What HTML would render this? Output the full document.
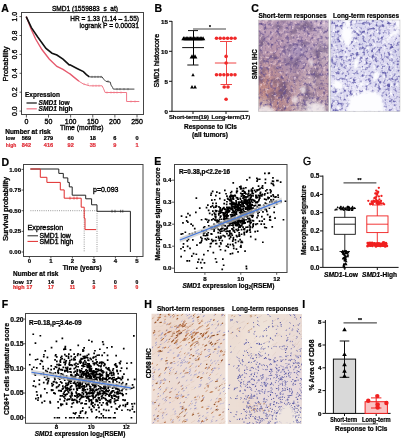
<!DOCTYPE html><html><head><meta charset="utf-8"><style>html,body{margin:0;padding:0;background:#fff;overflow:hidden}svg{display:block;font-family:"Liberation Sans",sans-serif;will-change:transform}</style></head><body><svg width="402" height="440" viewBox="0 0 402 440"><text x="1.20" y="11.80" font-size="10.5" text-anchor="start" font-weight="bold" fill="#000" stroke="#000" stroke-width="0.22" >A</text>
<text x="85.00" y="10.60" font-size="6.9" text-anchor="middle" font-weight="normal" fill="#000" stroke="#000" stroke-width="0.34" textLength="66.00" lengthAdjust="spacingAndGlyphs" >SMD1 (1559883_s_at)</text>
<rect x="21.5" y="12.5" width="122" height="102" fill="none" stroke="#444" stroke-width="1"/>
<line x1="26.40" y1="114.80" x2="26.40" y2="117.50" stroke="#333" stroke-width="0.8" />
<text x="26.40" y="123.50" font-size="7" text-anchor="middle" font-weight="normal" fill="#000" stroke="#000" stroke-width="0.34" >0</text>
<line x1="48.52" y1="114.80" x2="48.52" y2="117.50" stroke="#333" stroke-width="0.8" />
<text x="48.52" y="123.50" font-size="7" text-anchor="middle" font-weight="normal" fill="#000" stroke="#000" stroke-width="0.34" >50</text>
<line x1="70.64" y1="114.80" x2="70.64" y2="117.50" stroke="#333" stroke-width="0.8" />
<text x="70.64" y="123.50" font-size="7" text-anchor="middle" font-weight="normal" fill="#000" stroke="#000" stroke-width="0.34" >100</text>
<line x1="92.76" y1="114.80" x2="92.76" y2="117.50" stroke="#333" stroke-width="0.8" />
<text x="92.76" y="123.50" font-size="7" text-anchor="middle" font-weight="normal" fill="#000" stroke="#000" stroke-width="0.34" >150</text>
<line x1="114.88" y1="114.80" x2="114.88" y2="117.50" stroke="#333" stroke-width="0.8" />
<text x="114.88" y="123.50" font-size="7" text-anchor="middle" font-weight="normal" fill="#000" stroke="#000" stroke-width="0.34" >200</text>
<line x1="137.00" y1="114.80" x2="137.00" y2="117.50" stroke="#333" stroke-width="0.8" />
<text x="137.00" y="123.50" font-size="7" text-anchor="middle" font-weight="normal" fill="#000" stroke="#000" stroke-width="0.34" >250</text>
<line x1="19.50" y1="111.10" x2="22.00" y2="111.10" stroke="#333" stroke-width="0.8" />
<text x="16.80" y="111.10" font-size="7" text-anchor="middle" font-weight="normal" fill="#000" stroke="#000" stroke-width="0.34" transform="rotate(-90 16.80 111.10)" >0.0</text>
<line x1="19.50" y1="92.20" x2="22.00" y2="92.20" stroke="#333" stroke-width="0.8" />
<text x="16.80" y="92.20" font-size="7" text-anchor="middle" font-weight="normal" fill="#000" stroke="#000" stroke-width="0.34" transform="rotate(-90 16.80 92.20)" >0.2</text>
<line x1="19.50" y1="73.30" x2="22.00" y2="73.30" stroke="#333" stroke-width="0.8" />
<text x="16.80" y="73.30" font-size="7" text-anchor="middle" font-weight="normal" fill="#000" stroke="#000" stroke-width="0.34" transform="rotate(-90 16.80 73.30)" >0.4</text>
<line x1="19.50" y1="54.40" x2="22.00" y2="54.40" stroke="#333" stroke-width="0.8" />
<text x="16.80" y="54.40" font-size="7" text-anchor="middle" font-weight="normal" fill="#000" stroke="#000" stroke-width="0.34" transform="rotate(-90 16.80 54.40)" >0.6</text>
<line x1="19.50" y1="35.50" x2="22.00" y2="35.50" stroke="#333" stroke-width="0.8" />
<text x="16.80" y="35.50" font-size="7" text-anchor="middle" font-weight="normal" fill="#000" stroke="#000" stroke-width="0.34" transform="rotate(-90 16.80 35.50)" >0.8</text>
<line x1="19.50" y1="16.60" x2="22.00" y2="16.60" stroke="#333" stroke-width="0.8" />
<text x="16.80" y="16.60" font-size="7" text-anchor="middle" font-weight="normal" fill="#000" stroke="#000" stroke-width="0.34" transform="rotate(-90 16.80 16.60)" >1.0</text>
<text x="8.20" y="64.00" font-size="7.2" text-anchor="middle" font-weight="normal" fill="#000" stroke="#000" stroke-width="0.34" textLength="35.00" lengthAdjust="spacingAndGlyphs" transform="rotate(-90 8.20 64.00)" >Probability</text>
<text x="60.00" y="129.90" font-size="7" text-anchor="start" font-weight="normal" fill="#000" stroke="#000" stroke-width="0.34" textLength="43.60" lengthAdjust="spacingAndGlyphs" >Time (months)</text>
<text x="70.30" y="20.50" font-size="6.9" text-anchor="start" font-weight="normal" fill="#000" stroke="#000" stroke-width="0.34" textLength="68.70" lengthAdjust="spacingAndGlyphs" >HR = 1.33 (1.14 – 1.55)</text>
<text x="79.50" y="27.50" font-size="6.9" text-anchor="start" font-weight="normal" fill="#000" stroke="#000" stroke-width="0.34" textLength="59.50" lengthAdjust="spacingAndGlyphs" >logrank P = 0.00031</text>
<polyline points="26.20,16.60 31.40,29.70 35.60,39.00 41.90,49.50 49.20,59.00 56.90,66.40 63.00,69.40 69.20,73.50 70.00,73.90 74.50,77.60 79.00,81.30" fill="none" stroke="#e65a6e" stroke-width="1.4" />
<polyline points="79.00,81.30 83.40,84.00 89.40,85.80 102.10,85.80 103.60,88.80 105.10,92.50 126.60,92.50 126.60,101.50 139.30,101.50" fill="none" stroke="#f07888" stroke-width="1.0" />
<line x1="84.00" y1="82.90" x2="84.00" y2="85.10" stroke="#f07888" stroke-width="0.6" />
<line x1="88.00" y1="82.90" x2="88.00" y2="85.10" stroke="#f07888" stroke-width="0.6" />
<line x1="93.00" y1="84.70" x2="93.00" y2="86.90" stroke="#f07888" stroke-width="0.6" />
<line x1="96.00" y1="84.70" x2="96.00" y2="86.90" stroke="#f07888" stroke-width="0.6" />
<line x1="99.00" y1="84.70" x2="99.00" y2="86.90" stroke="#f07888" stroke-width="0.6" />
<line x1="107.00" y1="91.40" x2="107.00" y2="93.60" stroke="#f07888" stroke-width="0.6" />
<line x1="111.00" y1="91.40" x2="111.00" y2="93.60" stroke="#f07888" stroke-width="0.6" />
<line x1="114.00" y1="91.40" x2="114.00" y2="93.60" stroke="#f07888" stroke-width="0.6" />
<line x1="117.00" y1="91.40" x2="117.00" y2="93.60" stroke="#f07888" stroke-width="0.6" />
<line x1="121.00" y1="91.40" x2="121.00" y2="93.60" stroke="#f07888" stroke-width="0.6" />
<line x1="131.00" y1="100.40" x2="131.00" y2="102.60" stroke="#f07888" stroke-width="0.6" />
<line x1="135.00" y1="100.40" x2="135.00" y2="102.60" stroke="#f07888" stroke-width="0.6" />
<polyline points="26.20,16.60 31.40,27.60 37.70,37.00 46.00,48.50 52.00,53.20 56.90,55.00 63.00,59.20 69.20,64.90 70.00,64.90 77.50,68.70 83.40,71.60 86.40,74.60 89.40,76.90" fill="none" stroke="#111" stroke-width="1.6" />
<polyline points="89.40,76.90 102.10,76.90 103.60,79.10 105.80,81.30 110.30,82.10 111.00,85.10 112.50,87.30 113.30,89.10 134.40,89.10" fill="none" stroke="#444" stroke-width="1.0" />
<line x1="92.00" y1="75.80" x2="92.00" y2="78.00" stroke="#444" stroke-width="0.6" />
<line x1="95.00" y1="75.80" x2="95.00" y2="78.00" stroke="#444" stroke-width="0.6" />
<line x1="98.00" y1="75.80" x2="98.00" y2="78.00" stroke="#444" stroke-width="0.6" />
<line x1="101.00" y1="75.80" x2="101.00" y2="78.00" stroke="#444" stroke-width="0.6" />
<line x1="108.00" y1="80.20" x2="108.00" y2="82.40" stroke="#444" stroke-width="0.6" />
<line x1="117.00" y1="88.00" x2="117.00" y2="90.20" stroke="#444" stroke-width="0.6" />
<line x1="120.00" y1="88.00" x2="120.00" y2="90.20" stroke="#444" stroke-width="0.6" />
<line x1="124.00" y1="88.00" x2="124.00" y2="90.20" stroke="#444" stroke-width="0.6" />
<line x1="128.00" y1="88.00" x2="128.00" y2="90.20" stroke="#444" stroke-width="0.6" />
<text x="25.00" y="97.20" font-size="6.6" text-anchor="start" font-weight="bold" fill="#000" stroke="#000" stroke-width="0.22" textLength="35.00" lengthAdjust="spacingAndGlyphs" >Expression</text>
<line x1="26.50" y1="103.00" x2="36.80" y2="103.00" stroke="#222" stroke-width="1.3" />
<line x1="26.50" y1="108.80" x2="36.80" y2="108.80" stroke="#f08898" stroke-width="1.4" />
<text x="38.5" y="105.2" font-size="6.6" font-weight="bold" stroke="#000" stroke-width="0.22"><tspan font-style="italic">SMD1</tspan> low</text>
<text x="38.5" y="110.8" font-size="6.6" font-weight="bold" stroke="#000" stroke-width="0.22"><tspan font-style="italic">SMD1</tspan> high</text>
<text x="5.20" y="133.90" font-size="6.3" text-anchor="start" font-weight="bold" fill="#000" stroke="#000" stroke-width="0.22" textLength="45.50" lengthAdjust="spacingAndGlyphs" >Number at risk</text>
<text x="5.80" y="140.20" font-size="5.8" text-anchor="start" font-weight="bold" fill="#000" stroke="#000" stroke-width="0.22" textLength="9.20" lengthAdjust="spacingAndGlyphs" >low</text>
<text x="5.80" y="146.80" font-size="5.8" text-anchor="start" font-weight="bold" fill="#e0303a" stroke="#e0303a" stroke-width="0.22" textLength="10.50" lengthAdjust="spacingAndGlyphs" >high</text>
<text x="26.40" y="140.20" font-size="5.6" text-anchor="middle" font-weight="bold" fill="#000" stroke="#000" stroke-width="0.22" >569</text>
<text x="26.40" y="146.80" font-size="5.6" text-anchor="middle" font-weight="bold" fill="#e0303a" stroke="#e0303a" stroke-width="0.22" >842</text>
<text x="48.52" y="140.20" font-size="5.6" text-anchor="middle" font-weight="bold" fill="#000" stroke="#000" stroke-width="0.22" >279</text>
<text x="48.52" y="146.80" font-size="5.6" text-anchor="middle" font-weight="bold" fill="#e0303a" stroke="#e0303a" stroke-width="0.22" >416</text>
<text x="70.64" y="140.20" font-size="5.6" text-anchor="middle" font-weight="bold" fill="#000" stroke="#000" stroke-width="0.22" >60</text>
<text x="70.64" y="146.80" font-size="5.6" text-anchor="middle" font-weight="bold" fill="#e0303a" stroke="#e0303a" stroke-width="0.22" >92</text>
<text x="92.76" y="140.20" font-size="5.6" text-anchor="middle" font-weight="bold" fill="#000" stroke="#000" stroke-width="0.22" >18</text>
<text x="92.76" y="146.80" font-size="5.6" text-anchor="middle" font-weight="bold" fill="#e0303a" stroke="#e0303a" stroke-width="0.22" >35</text>
<text x="114.88" y="140.20" font-size="5.6" text-anchor="middle" font-weight="bold" fill="#000" stroke="#000" stroke-width="0.22" >6</text>
<text x="114.88" y="146.80" font-size="5.6" text-anchor="middle" font-weight="bold" fill="#e0303a" stroke="#e0303a" stroke-width="0.22" >9</text>
<text x="137.00" y="140.20" font-size="5.6" text-anchor="middle" font-weight="bold" fill="#000" stroke="#000" stroke-width="0.22" >0</text>
<text x="137.00" y="146.80" font-size="5.6" text-anchor="middle" font-weight="bold" fill="#e0303a" stroke="#e0303a" stroke-width="0.22" >1</text>
<text x="154.50" y="12.30" font-size="10.5" text-anchor="start" font-weight="bold" fill="#000" stroke="#000" stroke-width="0.22" >B</text>
<line x1="172.00" y1="21.00" x2="172.00" y2="111.50" stroke="#111" stroke-width="1" />
<line x1="171.50" y1="111.30" x2="248.50" y2="111.30" stroke="#111" stroke-width="1" />
<line x1="169.00" y1="111.30" x2="172.00" y2="111.30" stroke="#111" stroke-width="1" />
<text x="168.00" y="113.50" font-size="6.2" text-anchor="end" font-weight="bold" fill="#000" stroke="#000" stroke-width="0.22" >0</text>
<line x1="169.00" y1="81.30" x2="172.00" y2="81.30" stroke="#111" stroke-width="1" />
<text x="168.00" y="83.50" font-size="6.2" text-anchor="end" font-weight="bold" fill="#000" stroke="#000" stroke-width="0.22" >5</text>
<line x1="169.00" y1="51.30" x2="172.00" y2="51.30" stroke="#111" stroke-width="1" />
<text x="168.00" y="53.50" font-size="6.2" text-anchor="end" font-weight="bold" fill="#000" stroke="#000" stroke-width="0.22" >10</text>
<line x1="169.00" y1="21.30" x2="172.00" y2="21.30" stroke="#111" stroke-width="1" />
<text x="168.00" y="23.50" font-size="6.2" text-anchor="end" font-weight="bold" fill="#000" stroke="#000" stroke-width="0.22" >15</text>
<line x1="193.00" y1="111.30" x2="193.00" y2="114.00" stroke="#111" stroke-width="1" />
<line x1="226.00" y1="111.30" x2="226.00" y2="114.00" stroke="#111" stroke-width="1" />
<text x="159.20" y="60.70" font-size="6.8" text-anchor="middle" font-weight="normal" fill="#000" stroke="#000" stroke-width="0.34" textLength="53.70" lengthAdjust="spacingAndGlyphs" transform="rotate(-90 159.20 60.70)" >SMD1 histoscore</text>
<line x1="193.00" y1="29.00" x2="226.00" y2="29.00" stroke="#333" stroke-width="0.9" />
<text x="210.00" y="28.50" font-size="5" text-anchor="middle" font-weight="bold" fill="#000" stroke="#000" stroke-width="0.22" >*</text>
<line x1="193.50" y1="30.60" x2="193.50" y2="65.00" stroke="#000" stroke-width="1" />
<line x1="188.00" y1="30.60" x2="198.00" y2="30.60" stroke="#111" stroke-width="1" />
<line x1="187.30" y1="65.00" x2="198.50" y2="65.00" stroke="#111" stroke-width="1" />
<line x1="182.20" y1="47.60" x2="204.00" y2="47.60" stroke="#111" stroke-width="1" />
<path d="M181.30,40.16L183.50,36.20L185.70,40.16Z" fill="#000"/>
<path d="M182.70,40.16L184.90,36.20L187.10,40.16Z" fill="#000"/>
<path d="M184.10,40.16L186.30,36.20L188.50,40.16Z" fill="#000"/>
<path d="M185.50,40.16L187.70,36.20L189.90,40.16Z" fill="#000"/>
<path d="M186.90,40.16L189.10,36.20L191.30,40.16Z" fill="#000"/>
<path d="M188.30,40.16L190.50,36.20L192.70,40.16Z" fill="#000"/>
<path d="M189.70,40.16L191.90,36.20L194.10,40.16Z" fill="#000"/>
<path d="M191.10,40.16L193.30,36.20L195.50,40.16Z" fill="#000"/>
<path d="M192.50,40.16L194.70,36.20L196.90,40.16Z" fill="#000"/>
<path d="M193.90,40.16L196.10,36.20L198.30,40.16Z" fill="#000"/>
<path d="M195.30,40.16L197.50,36.20L199.70,40.16Z" fill="#000"/>
<path d="M196.70,40.16L198.90,36.20L201.10,40.16Z" fill="#000"/>
<path d="M198.10,40.16L200.30,36.20L202.50,40.16Z" fill="#000"/>
<path d="M199.50,40.16L201.70,36.20L203.90,40.16Z" fill="#000"/>
<path d="M200.90,40.16L203.10,36.20L205.30,40.16Z" fill="#000"/>
<path d="M189.60,58.52L192.00,54.20L194.40,58.52Z" fill="#000"/>
<path d="M192.60,58.52L195.00,54.20L197.40,58.52Z" fill="#000"/>
<path d="M191.30,76.16L193.00,73.10L194.70,76.16Z" fill="#000"/>
<path d="M190.10,88.52L192.00,85.10L193.90,88.52Z" fill="#000"/>
<path d="M193.10,88.52L195.00,85.10L196.90,88.52Z" fill="#000"/>
<line x1="226.50" y1="41.50" x2="226.50" y2="84.50" stroke="#f04545" stroke-width="1" />
<line x1="220.00" y1="41.50" x2="232.00" y2="41.50" stroke="#f04545" stroke-width="1" />
<line x1="220.50" y1="84.50" x2="232.00" y2="84.50" stroke="#f04545" stroke-width="1" />
<line x1="214.90" y1="63.00" x2="236.30" y2="63.00" stroke="#f04545" stroke-width="1" />
<circle cx="216.50" cy="38.20" r="1.8" fill="#f02a2a"/>
<circle cx="220.20" cy="38.20" r="1.8" fill="#f02a2a"/>
<circle cx="223.90" cy="38.20" r="1.8" fill="#f02a2a"/>
<circle cx="227.60" cy="38.20" r="1.8" fill="#f02a2a"/>
<circle cx="231.30" cy="38.20" r="1.8" fill="#f02a2a"/>
<circle cx="235.00" cy="38.20" r="1.8" fill="#f02a2a"/>
<circle cx="226.10" cy="56.40" r="1.8" fill="#f02a2a"/>
<circle cx="226.10" cy="63.00" r="1.8" fill="#f02a2a"/>
<circle cx="216.50" cy="74.80" r="1.8" fill="#f02a2a"/>
<circle cx="220.20" cy="74.80" r="1.8" fill="#f02a2a"/>
<circle cx="223.90" cy="74.80" r="1.8" fill="#f02a2a"/>
<circle cx="227.60" cy="74.80" r="1.8" fill="#f02a2a"/>
<circle cx="231.30" cy="74.80" r="1.8" fill="#f02a2a"/>
<circle cx="235.00" cy="74.80" r="1.8" fill="#f02a2a"/>
<circle cx="224.20" cy="87.00" r="1.8" fill="#f02a2a"/>
<circle cx="228.00" cy="87.00" r="1.8" fill="#f02a2a"/>
<circle cx="226.10" cy="99.30" r="1.8" fill="#f02a2a"/>
<text x="189.00" y="119.00" font-size="6.0" text-anchor="middle" font-weight="bold" fill="#000" stroke="#000" stroke-width="0.22" textLength="40.00" lengthAdjust="spacingAndGlyphs" >Short-term(19)</text>
<text x="230.80" y="119.00" font-size="6.0" text-anchor="middle" font-weight="bold" fill="#000" stroke="#000" stroke-width="0.22" textLength="38.60" lengthAdjust="spacingAndGlyphs" >Long-term(17)</text>
<line x1="192.00" y1="120.50" x2="225.00" y2="120.50" stroke="#333" stroke-width="0.8" />
<text x="210.50" y="129.00" font-size="6.6" text-anchor="middle" font-weight="bold" fill="#000" stroke="#000" stroke-width="0.22" textLength="53.00" lengthAdjust="spacingAndGlyphs" >Response to ICIs</text>
<text x="210.00" y="136.50" font-size="6.6" text-anchor="middle" font-weight="bold" fill="#000" stroke="#000" stroke-width="0.22" textLength="36.00" lengthAdjust="spacingAndGlyphs" >(all tumors)</text>
<text x="1.50" y="165.50" font-size="10.5" text-anchor="start" font-weight="bold" fill="#000" stroke="#000" stroke-width="0.22" >D</text>
<rect x="23.5" y="164.5" width="119.5" height="92" fill="none" stroke="#444" stroke-width="1"/>
<line x1="29.40" y1="256.40" x2="29.40" y2="258.50" stroke="#333" stroke-width="0.8" />
<text x="29.40" y="263.00" font-size="6.0" text-anchor="middle" font-weight="bold" fill="#000" stroke="#000" stroke-width="0.22" >0</text>
<line x1="50.90" y1="256.40" x2="50.90" y2="258.50" stroke="#333" stroke-width="0.8" />
<text x="50.90" y="263.00" font-size="6.0" text-anchor="middle" font-weight="bold" fill="#000" stroke="#000" stroke-width="0.22" >1</text>
<line x1="72.40" y1="256.40" x2="72.40" y2="258.50" stroke="#333" stroke-width="0.8" />
<text x="72.40" y="263.00" font-size="6.0" text-anchor="middle" font-weight="bold" fill="#000" stroke="#000" stroke-width="0.22" >2</text>
<line x1="93.90" y1="256.40" x2="93.90" y2="258.50" stroke="#333" stroke-width="0.8" />
<text x="93.90" y="263.00" font-size="6.0" text-anchor="middle" font-weight="bold" fill="#000" stroke="#000" stroke-width="0.22" >3</text>
<line x1="115.40" y1="256.40" x2="115.40" y2="258.50" stroke="#333" stroke-width="0.8" />
<text x="115.40" y="263.00" font-size="6.0" text-anchor="middle" font-weight="bold" fill="#000" stroke="#000" stroke-width="0.22" >4</text>
<line x1="136.90" y1="256.40" x2="136.90" y2="258.50" stroke="#333" stroke-width="0.8" />
<text x="136.90" y="263.00" font-size="6.0" text-anchor="middle" font-weight="bold" fill="#000" stroke="#000" stroke-width="0.22" >5</text>
<line x1="21.50" y1="252.00" x2="24.00" y2="252.00" stroke="#333" stroke-width="0.8" />
<text x="21.00" y="254.10" font-size="6.0" text-anchor="end" font-weight="bold" fill="#000" stroke="#000" stroke-width="0.22" >0.00</text>
<line x1="21.50" y1="231.35" x2="24.00" y2="231.35" stroke="#333" stroke-width="0.8" />
<text x="21.00" y="233.45" font-size="6.0" text-anchor="end" font-weight="bold" fill="#000" stroke="#000" stroke-width="0.22" >0.25</text>
<line x1="21.50" y1="210.70" x2="24.00" y2="210.70" stroke="#333" stroke-width="0.8" />
<text x="21.00" y="212.80" font-size="6.0" text-anchor="end" font-weight="bold" fill="#000" stroke="#000" stroke-width="0.22" >0.50</text>
<line x1="21.50" y1="190.05" x2="24.00" y2="190.05" stroke="#333" stroke-width="0.8" />
<text x="21.00" y="192.15" font-size="6.0" text-anchor="end" font-weight="bold" fill="#000" stroke="#000" stroke-width="0.22" >0.75</text>
<line x1="21.50" y1="169.40" x2="24.00" y2="169.40" stroke="#333" stroke-width="0.8" />
<text x="21.00" y="171.50" font-size="6.0" text-anchor="end" font-weight="bold" fill="#000" stroke="#000" stroke-width="0.22" >1.00</text>
<text x="7.60" y="209.00" font-size="7" text-anchor="middle" font-weight="normal" fill="#000" stroke="#000" stroke-width="0.34" textLength="64.00" lengthAdjust="spacingAndGlyphs" transform="rotate(-90 7.60 209.00)" >Survival probability</text>
<text x="62.70" y="269.80" font-size="6.6" text-anchor="start" font-weight="bold" fill="#000" stroke="#000" stroke-width="0.22" textLength="39.00" lengthAdjust="spacingAndGlyphs" >Time (years)</text>
<path d="M30.4,210.7H97M84.2,210.7V252M97,211V252" stroke="#555" stroke-width="0.6" stroke-dasharray="1,1.2" fill="none"/>
<polyline points="30.40,169.00 58.80,169.00 58.80,173.40 63.30,173.40 63.30,177.90 67.80,177.90 67.80,182.40 69.30,182.40 69.30,186.90 72.20,186.90 72.20,195.20 85.70,195.20 85.70,198.80 91.60,198.80 91.60,204.80 97.00,204.80 97.00,211.30 130.40,211.30 130.40,252.00" fill="none" stroke="#222" stroke-width="1.0" />
<polyline points="30.40,169.00 40.30,169.00 40.30,177.30 46.90,177.30 46.90,182.40 60.30,182.40 60.30,189.90 64.20,189.90 64.20,198.20 81.20,198.20 81.20,207.20 84.20,207.20 84.20,218.20 85.00,218.20 85.00,229.60 96.10,229.60 96.10,229.60" fill="none" stroke="#e02a2a" stroke-width="1.0" />
<line x1="112.00" y1="209.80" x2="112.00" y2="212.60" stroke="#222" stroke-width="0.7" />
<line x1="115.00" y1="209.80" x2="115.00" y2="212.60" stroke="#222" stroke-width="0.7" />
<line x1="120.70" y1="209.80" x2="120.70" y2="212.60" stroke="#222" stroke-width="0.7" />
<line x1="122.80" y1="209.80" x2="122.80" y2="212.60" stroke="#222" stroke-width="0.7" />
<line x1="70.00" y1="196.60" x2="70.00" y2="199.60" stroke="#e02a2a" stroke-width="0.7" />
<line x1="74.00" y1="196.60" x2="74.00" y2="199.60" stroke="#e02a2a" stroke-width="0.7" />
<line x1="77.00" y1="196.60" x2="77.00" y2="199.60" stroke="#e02a2a" stroke-width="0.7" />
<text x="93.00" y="191.50" font-size="6.8" text-anchor="start" font-weight="normal" fill="#000" stroke="#000" stroke-width="0.34" textLength="25.50" lengthAdjust="spacingAndGlyphs" >p=0.093</text>
<text x="27.50" y="230.30" font-size="7" text-anchor="start" font-weight="normal" fill="#000" stroke="#000" stroke-width="0.34" textLength="35.80" lengthAdjust="spacingAndGlyphs" >Expression</text>
<line x1="27.50" y1="235.80" x2="38.00" y2="235.80" stroke="#222" stroke-width="1" />
<line x1="27.50" y1="241.40" x2="38.00" y2="241.40" stroke="#e02a2a" stroke-width="1" />
<text x="39.40" y="237.90" font-size="6.5" text-anchor="start" font-weight="normal" fill="#000" stroke="#000" stroke-width="0.34" textLength="31.30" lengthAdjust="spacingAndGlyphs" >SMD1 low</text>
<text x="39.40" y="243.90" font-size="6.5" text-anchor="start" font-weight="normal" fill="#000" stroke="#000" stroke-width="0.34" textLength="34.00" lengthAdjust="spacingAndGlyphs" >SMD1 high</text>
<text x="13.00" y="276.40" font-size="6.6" text-anchor="start" font-weight="bold" fill="#000" stroke="#000" stroke-width="0.22" textLength="45.50" lengthAdjust="spacingAndGlyphs" >Number at risk</text>
<text x="13.00" y="283.80" font-size="6.2" text-anchor="start" font-weight="bold" fill="#000" stroke="#000" stroke-width="0.22" textLength="10.70" lengthAdjust="spacingAndGlyphs" >low</text>
<text x="13.00" y="289.20" font-size="6.0" text-anchor="start" font-weight="bold" fill="#e02a2a" stroke="#e02a2a" stroke-width="0.22" textLength="11.50" lengthAdjust="spacingAndGlyphs" >high</text>
<text x="29.40" y="283.60" font-size="5.0" text-anchor="middle" font-weight="bold" fill="#000" stroke="#000" stroke-width="0.22" >17</text>
<text x="29.40" y="289.00" font-size="5.0" text-anchor="middle" font-weight="bold" fill="#e02a2a" stroke="#e02a2a" stroke-width="0.22" >17</text>
<text x="50.90" y="283.60" font-size="5.0" text-anchor="middle" font-weight="bold" fill="#000" stroke="#000" stroke-width="0.22" >14</text>
<text x="50.90" y="289.00" font-size="5.0" text-anchor="middle" font-weight="bold" fill="#e02a2a" stroke="#e02a2a" stroke-width="0.22" >17</text>
<text x="72.40" y="283.60" font-size="5.0" text-anchor="middle" font-weight="bold" fill="#000" stroke="#000" stroke-width="0.22" >9</text>
<text x="72.40" y="289.00" font-size="5.0" text-anchor="middle" font-weight="bold" fill="#e02a2a" stroke="#e02a2a" stroke-width="0.22" >11</text>
<text x="93.90" y="283.60" font-size="5.0" text-anchor="middle" font-weight="bold" fill="#000" stroke="#000" stroke-width="0.22" >1</text>
<text x="93.90" y="289.00" font-size="5.0" text-anchor="middle" font-weight="bold" fill="#e02a2a" stroke="#e02a2a" stroke-width="0.22" >9</text>
<text x="115.40" y="283.60" font-size="5.0" text-anchor="middle" font-weight="bold" fill="#000" stroke="#000" stroke-width="0.22" >0</text>
<text x="115.40" y="289.00" font-size="5.0" text-anchor="middle" font-weight="bold" fill="#e02a2a" stroke="#e02a2a" stroke-width="0.22" >5</text>
<text x="136.90" y="283.60" font-size="5.0" text-anchor="middle" font-weight="bold" fill="#000" stroke="#000" stroke-width="0.22" >0</text>
<text x="136.90" y="289.00" font-size="5.0" text-anchor="middle" font-weight="bold" fill="#e02a2a" stroke="#e02a2a" stroke-width="0.22" >0</text>
<text x="154.20" y="165.00" font-size="10.5" text-anchor="start" font-weight="bold" fill="#000" stroke="#000" stroke-width="0.22" >E</text>
<rect x="174.5" y="164.5" width="112.5" height="108" fill="none" stroke="#444" stroke-width="1"/>
<line x1="204.90" y1="272.50" x2="204.90" y2="274.80" stroke="#333" stroke-width="0.8" />
<text x="204.90" y="281.20" font-size="6.2" text-anchor="middle" font-weight="bold" fill="#000" stroke="#000" stroke-width="0.22" >8</text>
<line x1="240.80" y1="272.50" x2="240.80" y2="274.80" stroke="#333" stroke-width="0.8" />
<text x="240.80" y="281.20" font-size="6.2" text-anchor="middle" font-weight="bold" fill="#000" stroke="#000" stroke-width="0.22" >10</text>
<line x1="276.70" y1="272.50" x2="276.70" y2="274.80" stroke="#333" stroke-width="0.8" />
<text x="276.70" y="281.20" font-size="6.2" text-anchor="middle" font-weight="bold" fill="#000" stroke="#000" stroke-width="0.22" >12</text>
<line x1="172.00" y1="268.20" x2="174.50" y2="268.20" stroke="#333" stroke-width="0.8" />
<text x="171.50" y="270.40" font-size="6.2" text-anchor="end" font-weight="bold" fill="#000" stroke="#000" stroke-width="0.22" >0.0</text>
<line x1="172.00" y1="246.20" x2="174.50" y2="246.20" stroke="#333" stroke-width="0.8" />
<text x="171.50" y="248.40" font-size="6.2" text-anchor="end" font-weight="bold" fill="#000" stroke="#000" stroke-width="0.22" >0.1</text>
<line x1="172.00" y1="224.20" x2="174.50" y2="224.20" stroke="#333" stroke-width="0.8" />
<text x="171.50" y="226.40" font-size="6.2" text-anchor="end" font-weight="bold" fill="#000" stroke="#000" stroke-width="0.22" >0.2</text>
<line x1="172.00" y1="202.20" x2="174.50" y2="202.20" stroke="#333" stroke-width="0.8" />
<text x="171.50" y="204.40" font-size="6.2" text-anchor="end" font-weight="bold" fill="#000" stroke="#000" stroke-width="0.22" >0.3</text>
<line x1="172.00" y1="180.20" x2="174.50" y2="180.20" stroke="#333" stroke-width="0.8" />
<text x="171.50" y="182.40" font-size="6.2" text-anchor="end" font-weight="bold" fill="#000" stroke="#000" stroke-width="0.22" >0.4</text>
<text x="159.80" y="214.00" font-size="6.6" text-anchor="middle" font-weight="bold" fill="#000" stroke="#000" stroke-width="0.22" textLength="93.00" lengthAdjust="spacingAndGlyphs" transform="rotate(-90 159.80 214.00)" >Macrophage signature score</text>
<text x="182.4" y="287.8" font-size="6.6" font-weight="bold" stroke="#000" stroke-width="0.22" textLength="92" lengthAdjust="spacingAndGlyphs"><tspan font-style="italic">SMD1</tspan> expression log<tspan font-size="4.5" dy="1">2</tspan><tspan dy="-1">(RSEM)</tspan></text>
<path d="M206.8,234.2h1.7v1.7h-1.7zM218.0,220.5h1.7v1.7h-1.7zM216.9,221.4h1.7v1.7h-1.7zM247.2,202.5h1.7v1.7h-1.7zM245.2,226.4h1.7v1.7h-1.7zM274.0,201.3h1.7v1.7h-1.7zM230.8,219.4h1.7v1.7h-1.7zM232.2,214.9h1.7v1.7h-1.7zM237.3,209.2h1.7v1.7h-1.7zM211.4,213.8h1.7v1.7h-1.7zM226.4,227.4h1.7v1.7h-1.7zM225.9,214.0h1.7v1.7h-1.7zM233.0,205.8h1.7v1.7h-1.7zM259.3,194.8h1.7v1.7h-1.7zM245.2,218.9h1.7v1.7h-1.7zM232.3,219.7h1.7v1.7h-1.7zM250.8,214.2h1.7v1.7h-1.7zM222.8,218.5h1.7v1.7h-1.7zM239.1,220.9h1.7v1.7h-1.7zM218.7,192.3h1.7v1.7h-1.7zM245.1,203.0h1.7v1.7h-1.7zM261.0,195.0h1.7v1.7h-1.7zM222.5,222.7h1.7v1.7h-1.7zM236.2,218.9h1.7v1.7h-1.7zM248.3,199.4h1.7v1.7h-1.7zM232.4,182.1h1.7v1.7h-1.7zM211.8,190.5h1.7v1.7h-1.7zM214.9,206.3h1.7v1.7h-1.7zM272.1,177.1h1.7v1.7h-1.7zM235.8,191.9h1.7v1.7h-1.7zM235.5,208.3h1.7v1.7h-1.7zM227.8,220.3h1.7v1.7h-1.7zM226.2,206.9h1.7v1.7h-1.7zM194.4,231.5h1.7v1.7h-1.7zM238.5,206.9h1.7v1.7h-1.7zM240.7,228.8h1.7v1.7h-1.7zM234.8,241.8h1.7v1.7h-1.7zM265.4,208.9h1.7v1.7h-1.7zM231.2,211.9h1.7v1.7h-1.7zM247.4,210.3h1.7v1.7h-1.7zM235.9,190.2h1.7v1.7h-1.7zM234.7,205.9h1.7v1.7h-1.7zM246.5,204.9h1.7v1.7h-1.7zM249.0,220.9h1.7v1.7h-1.7zM245.5,213.0h1.7v1.7h-1.7zM235.2,199.9h1.7v1.7h-1.7zM243.3,199.4h1.7v1.7h-1.7zM246.3,200.2h1.7v1.7h-1.7zM273.4,206.4h1.7v1.7h-1.7zM230.3,218.3h1.7v1.7h-1.7zM268.4,197.0h1.7v1.7h-1.7zM240.0,211.7h1.7v1.7h-1.7zM214.0,219.1h1.7v1.7h-1.7zM242.8,210.0h1.7v1.7h-1.7zM234.6,239.1h1.7v1.7h-1.7zM229.8,235.7h1.7v1.7h-1.7zM205.7,206.8h1.7v1.7h-1.7zM252.3,225.4h1.7v1.7h-1.7zM249.4,219.4h1.7v1.7h-1.7zM223.1,206.9h1.7v1.7h-1.7zM255.1,196.9h1.7v1.7h-1.7zM265.5,226.9h1.7v1.7h-1.7zM235.3,228.8h1.7v1.7h-1.7zM240.3,215.3h1.7v1.7h-1.7zM256.2,201.7h1.7v1.7h-1.7zM239.9,192.6h1.7v1.7h-1.7zM212.8,239.7h1.7v1.7h-1.7zM249.2,206.8h1.7v1.7h-1.7zM239.7,204.2h1.7v1.7h-1.7zM215.1,242.9h1.7v1.7h-1.7zM212.0,202.6h1.7v1.7h-1.7zM213.5,212.2h1.7v1.7h-1.7zM252.4,223.9h1.7v1.7h-1.7zM234.0,207.5h1.7v1.7h-1.7zM251.6,226.6h1.7v1.7h-1.7zM248.1,210.9h1.7v1.7h-1.7zM226.1,213.5h1.7v1.7h-1.7zM219.8,210.2h1.7v1.7h-1.7zM226.1,195.3h1.7v1.7h-1.7zM220.9,221.4h1.7v1.7h-1.7zM240.0,213.6h1.7v1.7h-1.7zM226.0,221.0h1.7v1.7h-1.7zM244.8,208.4h1.7v1.7h-1.7zM263.8,198.3h1.7v1.7h-1.7zM239.9,208.2h1.7v1.7h-1.7zM218.0,214.1h1.7v1.7h-1.7zM249.9,235.8h1.7v1.7h-1.7zM242.2,197.2h1.7v1.7h-1.7zM253.3,205.0h1.7v1.7h-1.7zM242.0,201.6h1.7v1.7h-1.7zM231.5,228.3h1.7v1.7h-1.7zM237.7,224.1h1.7v1.7h-1.7zM242.2,213.1h1.7v1.7h-1.7zM229.1,230.1h1.7v1.7h-1.7zM214.9,239.7h1.7v1.7h-1.7zM210.3,233.1h1.7v1.7h-1.7zM252.2,211.0h1.7v1.7h-1.7zM243.5,191.1h1.7v1.7h-1.7zM203.0,253.7h1.7v1.7h-1.7zM269.7,219.4h1.7v1.7h-1.7zM182.3,246.3h1.7v1.7h-1.7zM261.0,215.7h1.7v1.7h-1.7zM250.5,200.5h1.7v1.7h-1.7zM239.0,225.4h1.7v1.7h-1.7zM239.0,215.6h1.7v1.7h-1.7zM243.2,200.2h1.7v1.7h-1.7zM242.3,204.9h1.7v1.7h-1.7zM232.6,236.8h1.7v1.7h-1.7zM252.9,210.8h1.7v1.7h-1.7zM249.1,205.8h1.7v1.7h-1.7zM231.3,195.6h1.7v1.7h-1.7zM209.7,226.3h1.7v1.7h-1.7zM231.8,203.3h1.7v1.7h-1.7zM247.6,220.6h1.7v1.7h-1.7zM266.0,210.5h1.7v1.7h-1.7zM242.5,195.8h1.7v1.7h-1.7zM234.4,215.0h1.7v1.7h-1.7zM202.8,232.6h1.7v1.7h-1.7zM200.9,239.8h1.7v1.7h-1.7zM253.5,199.8h1.7v1.7h-1.7zM268.5,207.3h1.7v1.7h-1.7zM229.7,214.0h1.7v1.7h-1.7zM249.5,231.2h1.7v1.7h-1.7zM233.3,206.5h1.7v1.7h-1.7zM243.9,212.5h1.7v1.7h-1.7zM246.4,207.4h1.7v1.7h-1.7zM232.2,224.0h1.7v1.7h-1.7zM232.2,218.0h1.7v1.7h-1.7zM249.4,197.3h1.7v1.7h-1.7zM242.8,195.9h1.7v1.7h-1.7zM226.6,207.5h1.7v1.7h-1.7zM242.3,203.3h1.7v1.7h-1.7zM225.7,228.0h1.7v1.7h-1.7zM188.5,260.1h1.7v1.7h-1.7zM235.6,234.8h1.7v1.7h-1.7zM221.7,208.4h1.7v1.7h-1.7zM245.9,203.5h1.7v1.7h-1.7zM236.7,206.9h1.7v1.7h-1.7zM187.0,221.2h1.7v1.7h-1.7zM219.2,208.7h1.7v1.7h-1.7zM243.7,192.2h1.7v1.7h-1.7zM245.7,215.8h1.7v1.7h-1.7zM238.0,226.2h1.7v1.7h-1.7zM239.2,207.1h1.7v1.7h-1.7zM254.8,201.7h1.7v1.7h-1.7zM229.8,217.9h1.7v1.7h-1.7zM245.0,186.9h1.7v1.7h-1.7zM243.2,218.6h1.7v1.7h-1.7zM252.4,210.3h1.7v1.7h-1.7zM229.6,203.1h1.7v1.7h-1.7zM219.5,212.1h1.7v1.7h-1.7zM228.7,237.7h1.7v1.7h-1.7zM214.5,215.4h1.7v1.7h-1.7zM240.0,204.2h1.7v1.7h-1.7zM267.3,197.9h1.7v1.7h-1.7zM215.7,261.3h1.7v1.7h-1.7zM221.1,209.2h1.7v1.7h-1.7zM262.9,204.5h1.7v1.7h-1.7zM257.2,214.9h1.7v1.7h-1.7zM242.9,221.3h1.7v1.7h-1.7zM263.9,226.5h1.7v1.7h-1.7zM238.5,224.0h1.7v1.7h-1.7zM249.0,202.8h1.7v1.7h-1.7zM250.5,206.2h1.7v1.7h-1.7zM229.7,221.3h1.7v1.7h-1.7zM218.6,239.2h1.7v1.7h-1.7zM221.1,224.8h1.7v1.7h-1.7zM257.7,204.2h1.7v1.7h-1.7zM240.1,244.8h1.7v1.7h-1.7zM219.5,232.3h1.7v1.7h-1.7zM233.3,211.4h1.7v1.7h-1.7zM232.5,210.2h1.7v1.7h-1.7zM252.2,214.9h1.7v1.7h-1.7zM255.3,208.3h1.7v1.7h-1.7zM197.9,258.6h1.7v1.7h-1.7zM217.3,231.7h1.7v1.7h-1.7zM244.8,212.3h1.7v1.7h-1.7zM245.3,196.7h1.7v1.7h-1.7zM269.4,189.1h1.7v1.7h-1.7zM218.0,222.4h1.7v1.7h-1.7zM232.4,196.8h1.7v1.7h-1.7zM232.3,195.3h1.7v1.7h-1.7zM247.8,207.2h1.7v1.7h-1.7zM250.4,190.1h1.7v1.7h-1.7zM256.2,216.8h1.7v1.7h-1.7zM271.6,200.8h1.7v1.7h-1.7zM249.7,214.5h1.7v1.7h-1.7zM247.7,209.6h1.7v1.7h-1.7zM258.3,211.4h1.7v1.7h-1.7zM263.3,204.9h1.7v1.7h-1.7zM252.2,195.1h1.7v1.7h-1.7zM238.5,207.9h1.7v1.7h-1.7zM248.1,198.7h1.7v1.7h-1.7zM226.3,213.8h1.7v1.7h-1.7zM215.3,210.6h1.7v1.7h-1.7zM272.6,198.8h1.7v1.7h-1.7zM237.6,206.1h1.7v1.7h-1.7zM240.3,241.6h1.7v1.7h-1.7zM234.2,195.1h1.7v1.7h-1.7zM220.1,228.2h1.7v1.7h-1.7zM241.1,202.1h1.7v1.7h-1.7zM282.6,218.9h1.7v1.7h-1.7zM247.7,204.5h1.7v1.7h-1.7zM232.3,218.0h1.7v1.7h-1.7zM242.6,207.8h1.7v1.7h-1.7zM217.8,225.1h1.7v1.7h-1.7zM227.3,214.9h1.7v1.7h-1.7zM236.2,235.7h1.7v1.7h-1.7zM256.2,189.7h1.7v1.7h-1.7zM238.3,220.1h1.7v1.7h-1.7zM235.8,190.7h1.7v1.7h-1.7zM212.5,251.8h1.7v1.7h-1.7zM214.4,227.1h1.7v1.7h-1.7zM207.0,221.2h1.7v1.7h-1.7zM241.2,214.1h1.7v1.7h-1.7zM221.9,223.6h1.7v1.7h-1.7zM229.6,195.2h1.7v1.7h-1.7zM241.9,193.0h1.7v1.7h-1.7zM229.5,196.9h1.7v1.7h-1.7zM235.5,206.3h1.7v1.7h-1.7zM235.0,224.5h1.7v1.7h-1.7zM232.4,229.3h1.7v1.7h-1.7zM241.1,220.4h1.7v1.7h-1.7zM210.0,206.1h1.7v1.7h-1.7zM232.0,201.6h1.7v1.7h-1.7zM227.7,206.7h1.7v1.7h-1.7zM243.4,195.1h1.7v1.7h-1.7zM210.7,228.4h1.7v1.7h-1.7zM247.9,189.7h1.7v1.7h-1.7zM230.5,216.0h1.7v1.7h-1.7zM219.2,223.5h1.7v1.7h-1.7zM201.6,258.7h1.7v1.7h-1.7zM212.9,227.9h1.7v1.7h-1.7zM257.6,194.5h1.7v1.7h-1.7zM266.8,192.2h1.7v1.7h-1.7zM236.6,229.9h1.7v1.7h-1.7zM241.6,190.2h1.7v1.7h-1.7zM238.4,223.8h1.7v1.7h-1.7zM258.1,207.6h1.7v1.7h-1.7zM214.8,225.4h1.7v1.7h-1.7zM249.8,213.6h1.7v1.7h-1.7zM203.6,262.1h1.7v1.7h-1.7zM262.0,241.4h1.7v1.7h-1.7zM209.5,245.7h1.7v1.7h-1.7zM242.0,222.3h1.7v1.7h-1.7zM251.4,190.8h1.7v1.7h-1.7zM219.4,216.2h1.7v1.7h-1.7zM226.5,211.8h1.7v1.7h-1.7zM254.7,204.6h1.7v1.7h-1.7zM222.3,234.8h1.7v1.7h-1.7zM251.8,201.4h1.7v1.7h-1.7zM240.4,212.7h1.7v1.7h-1.7zM241.1,202.9h1.7v1.7h-1.7zM233.2,229.7h1.7v1.7h-1.7zM241.7,201.4h1.7v1.7h-1.7zM237.7,222.4h1.7v1.7h-1.7zM243.8,222.2h1.7v1.7h-1.7zM261.3,220.2h1.7v1.7h-1.7zM202.7,234.6h1.7v1.7h-1.7zM237.9,208.1h1.7v1.7h-1.7zM240.7,233.4h1.7v1.7h-1.7zM225.7,217.7h1.7v1.7h-1.7zM220.1,235.4h1.7v1.7h-1.7zM223.5,215.6h1.7v1.7h-1.7zM232.6,230.1h1.7v1.7h-1.7zM244.1,200.6h1.7v1.7h-1.7zM248.9,218.3h1.7v1.7h-1.7zM248.4,208.2h1.7v1.7h-1.7zM251.5,189.7h1.7v1.7h-1.7zM249.2,228.6h1.7v1.7h-1.7zM251.5,204.3h1.7v1.7h-1.7zM250.6,199.0h1.7v1.7h-1.7zM255.5,209.5h1.7v1.7h-1.7zM215.0,194.8h1.7v1.7h-1.7zM242.5,212.7h1.7v1.7h-1.7zM241.0,193.1h1.7v1.7h-1.7zM252.0,187.3h1.7v1.7h-1.7zM235.0,208.6h1.7v1.7h-1.7zM214.8,217.0h1.7v1.7h-1.7zM234.5,218.5h1.7v1.7h-1.7zM200.7,218.9h1.7v1.7h-1.7zM229.2,222.8h1.7v1.7h-1.7zM234.5,221.9h1.7v1.7h-1.7zM235.1,212.5h1.7v1.7h-1.7zM237.7,229.2h1.7v1.7h-1.7zM233.6,202.2h1.7v1.7h-1.7zM233.2,203.3h1.7v1.7h-1.7zM231.6,222.4h1.7v1.7h-1.7zM235.6,223.5h1.7v1.7h-1.7zM189.2,247.5h1.7v1.7h-1.7zM240.0,215.8h1.7v1.7h-1.7zM255.0,195.0h1.7v1.7h-1.7zM243.3,198.7h1.7v1.7h-1.7zM221.3,227.9h1.7v1.7h-1.7zM241.2,205.4h1.7v1.7h-1.7zM266.1,188.9h1.7v1.7h-1.7zM216.4,221.6h1.7v1.7h-1.7zM243.2,220.6h1.7v1.7h-1.7zM235.0,211.9h1.7v1.7h-1.7zM224.5,249.7h1.7v1.7h-1.7zM226.6,230.3h1.7v1.7h-1.7zM230.7,205.1h1.7v1.7h-1.7zM248.1,200.6h1.7v1.7h-1.7zM243.5,231.6h1.7v1.7h-1.7zM250.4,189.7h1.7v1.7h-1.7zM206.2,234.6h1.7v1.7h-1.7zM251.4,191.8h1.7v1.7h-1.7zM186.4,240.1h1.7v1.7h-1.7zM239.0,206.7h1.7v1.7h-1.7zM217.4,228.6h1.7v1.7h-1.7zM249.4,212.4h1.7v1.7h-1.7zM264.6,178.5h1.7v1.7h-1.7zM251.9,215.0h1.7v1.7h-1.7zM226.7,219.8h1.7v1.7h-1.7zM284.6,200.4h1.7v1.7h-1.7zM256.3,189.0h1.7v1.7h-1.7zM245.6,214.3h1.7v1.7h-1.7zM241.6,217.2h1.7v1.7h-1.7zM240.4,209.5h1.7v1.7h-1.7zM271.0,201.3h1.7v1.7h-1.7zM229.5,198.3h1.7v1.7h-1.7zM223.0,206.8h1.7v1.7h-1.7zM250.8,210.7h1.7v1.7h-1.7zM245.9,199.4h1.7v1.7h-1.7zM245.1,196.1h1.7v1.7h-1.7zM225.4,221.3h1.7v1.7h-1.7zM257.9,199.8h1.7v1.7h-1.7zM255.9,209.0h1.7v1.7h-1.7zM220.1,209.9h1.7v1.7h-1.7zM238.3,231.9h1.7v1.7h-1.7zM264.5,202.3h1.7v1.7h-1.7zM206.0,218.7h1.7v1.7h-1.7zM251.6,214.8h1.7v1.7h-1.7zM208.8,212.5h1.7v1.7h-1.7zM258.9,197.2h1.7v1.7h-1.7zM227.4,246.2h1.7v1.7h-1.7zM230.6,199.5h1.7v1.7h-1.7zM248.2,198.6h1.7v1.7h-1.7zM233.4,211.3h1.7v1.7h-1.7zM226.6,217.8h1.7v1.7h-1.7zM228.8,210.1h1.7v1.7h-1.7zM268.9,216.5h1.7v1.7h-1.7zM247.1,217.7h1.7v1.7h-1.7zM240.1,185.6h1.7v1.7h-1.7zM242.5,213.3h1.7v1.7h-1.7zM249.8,196.7h1.7v1.7h-1.7zM253.2,210.9h1.7v1.7h-1.7zM234.8,209.3h1.7v1.7h-1.7zM243.3,232.1h1.7v1.7h-1.7zM233.3,215.6h1.7v1.7h-1.7zM247.0,214.5h1.7v1.7h-1.7zM273.3,211.5h1.7v1.7h-1.7zM240.4,201.2h1.7v1.7h-1.7zM246.8,220.9h1.7v1.7h-1.7zM212.0,210.3h1.7v1.7h-1.7zM271.4,226.0h1.7v1.7h-1.7zM230.8,220.5h1.7v1.7h-1.7zM244.7,211.6h1.7v1.7h-1.7zM225.2,192.9h1.7v1.7h-1.7zM228.2,230.6h1.7v1.7h-1.7zM251.5,211.6h1.7v1.7h-1.7zM239.2,201.2h1.7v1.7h-1.7zM240.1,203.8h1.7v1.7h-1.7zM224.1,235.7h1.7v1.7h-1.7zM221.4,239.7h1.7v1.7h-1.7zM238.7,201.4h1.7v1.7h-1.7zM220.2,236.9h1.7v1.7h-1.7zM271.7,180.2h1.7v1.7h-1.7zM219.7,221.7h1.7v1.7h-1.7zM227.6,221.7h1.7v1.7h-1.7zM239.1,216.3h1.7v1.7h-1.7zM237.5,221.2h1.7v1.7h-1.7zM228.3,218.0h1.7v1.7h-1.7zM239.2,216.8h1.7v1.7h-1.7zM237.2,224.1h1.7v1.7h-1.7zM213.6,226.4h1.7v1.7h-1.7zM228.8,224.5h1.7v1.7h-1.7zM240.7,225.1h1.7v1.7h-1.7zM249.4,222.6h1.7v1.7h-1.7zM245.6,211.2h1.7v1.7h-1.7zM247.1,194.1h1.7v1.7h-1.7zM214.1,213.6h1.7v1.7h-1.7zM239.8,219.7h1.7v1.7h-1.7zM240.5,195.2h1.7v1.7h-1.7zM256.0,201.2h1.7v1.7h-1.7zM210.9,233.3h1.7v1.7h-1.7zM238.7,209.7h1.7v1.7h-1.7zM222.9,212.6h1.7v1.7h-1.7zM238.8,216.0h1.7v1.7h-1.7zM199.1,242.0h1.7v1.7h-1.7zM237.7,205.2h1.7v1.7h-1.7zM249.1,204.8h1.7v1.7h-1.7zM226.0,218.1h1.7v1.7h-1.7zM259.7,191.5h1.7v1.7h-1.7zM236.9,205.2h1.7v1.7h-1.7zM249.4,226.0h1.7v1.7h-1.7zM225.5,210.6h1.7v1.7h-1.7zM241.3,211.3h1.7v1.7h-1.7zM240.1,246.4h1.7v1.7h-1.7zM214.3,215.6h1.7v1.7h-1.7zM238.9,186.1h1.7v1.7h-1.7zM227.7,209.6h1.7v1.7h-1.7zM240.5,209.4h1.7v1.7h-1.7zM235.6,248.2h1.7v1.7h-1.7zM236.7,197.0h1.7v1.7h-1.7zM204.7,218.2h1.7v1.7h-1.7zM216.0,191.3h1.7v1.7h-1.7zM251.2,203.7h1.7v1.7h-1.7zM249.4,203.4h1.7v1.7h-1.7zM249.8,219.4h1.7v1.7h-1.7zM203.8,225.9h1.7v1.7h-1.7zM195.0,211.6h1.7v1.7h-1.7zM231.9,208.0h1.7v1.7h-1.7zM242.1,203.3h1.7v1.7h-1.7zM225.0,214.8h1.7v1.7h-1.7zM258.7,204.5h1.7v1.7h-1.7zM239.7,198.6h1.7v1.7h-1.7zM232.2,224.9h1.7v1.7h-1.7zM246.2,207.8h1.7v1.7h-1.7zM211.6,205.1h1.7v1.7h-1.7zM235.5,201.5h1.7v1.7h-1.7zM249.6,211.8h1.7v1.7h-1.7zM231.9,240.3h1.7v1.7h-1.7zM230.9,203.9h1.7v1.7h-1.7zM246.5,215.8h1.7v1.7h-1.7zM232.3,214.6h1.7v1.7h-1.7zM237.4,208.6h1.7v1.7h-1.7zM234.1,215.1h1.7v1.7h-1.7zM221.1,211.5h1.7v1.7h-1.7zM234.1,222.4h1.7v1.7h-1.7zM233.0,219.7h1.7v1.7h-1.7zM232.8,195.1h1.7v1.7h-1.7zM215.3,204.9h1.7v1.7h-1.7zM233.7,202.8h1.7v1.7h-1.7zM240.2,210.3h1.7v1.7h-1.7zM213.2,230.4h1.7v1.7h-1.7zM219.0,197.8h1.7v1.7h-1.7zM241.0,187.8h1.7v1.7h-1.7zM264.9,208.1h1.7v1.7h-1.7zM232.9,217.7h1.7v1.7h-1.7zM233.2,211.1h1.7v1.7h-1.7zM229.2,202.8h1.7v1.7h-1.7zM245.0,198.8h1.7v1.7h-1.7zM247.7,192.6h1.7v1.7h-1.7zM248.1,201.8h1.7v1.7h-1.7zM248.2,194.9h1.7v1.7h-1.7zM216.1,226.6h1.7v1.7h-1.7zM226.5,209.1h1.7v1.7h-1.7zM233.1,211.5h1.7v1.7h-1.7zM223.2,224.6h1.7v1.7h-1.7zM237.0,209.6h1.7v1.7h-1.7zM251.5,216.4h1.7v1.7h-1.7zM232.6,220.8h1.7v1.7h-1.7zM210.4,242.6h1.7v1.7h-1.7zM206.7,237.4h1.7v1.7h-1.7zM223.2,229.8h1.7v1.7h-1.7zM227.2,211.2h1.7v1.7h-1.7zM252.2,223.9h1.7v1.7h-1.7zM246.8,211.1h1.7v1.7h-1.7zM232.2,203.5h1.7v1.7h-1.7zM242.8,205.2h1.7v1.7h-1.7zM232.7,222.0h1.7v1.7h-1.7zM223.3,220.9h1.7v1.7h-1.7zM216.3,219.6h1.7v1.7h-1.7zM224.0,228.3h1.7v1.7h-1.7zM257.1,212.7h1.7v1.7h-1.7zM246.5,215.4h1.7v1.7h-1.7zM229.8,232.5h1.7v1.7h-1.7zM239.4,226.2h1.7v1.7h-1.7zM218.6,218.5h1.7v1.7h-1.7zM231.8,194.7h1.7v1.7h-1.7zM238.0,202.7h1.7v1.7h-1.7zM244.7,196.2h1.7v1.7h-1.7zM242.1,208.5h1.7v1.7h-1.7zM235.1,218.7h1.7v1.7h-1.7zM239.4,225.0h1.7v1.7h-1.7zM256.5,222.9h1.7v1.7h-1.7zM236.7,198.0h1.7v1.7h-1.7zM219.3,207.1h1.7v1.7h-1.7zM234.4,223.8h1.7v1.7h-1.7zM238.7,234.8h1.7v1.7h-1.7zM204.4,238.1h1.7v1.7h-1.7zM217.7,235.7h1.7v1.7h-1.7zM251.5,198.8h1.7v1.7h-1.7zM238.2,204.1h1.7v1.7h-1.7zM207.8,238.4h1.7v1.7h-1.7zM261.0,186.7h1.7v1.7h-1.7zM227.3,225.0h1.7v1.7h-1.7zM240.8,216.3h1.7v1.7h-1.7zM240.2,208.6h1.7v1.7h-1.7zM231.7,252.5h1.7v1.7h-1.7zM235.5,210.4h1.7v1.7h-1.7zM223.3,216.4h1.7v1.7h-1.7zM245.7,230.8h1.7v1.7h-1.7zM221.6,207.7h1.7v1.7h-1.7zM251.3,208.1h1.7v1.7h-1.7zM212.4,228.1h1.7v1.7h-1.7zM240.2,205.9h1.7v1.7h-1.7zM231.4,197.9h1.7v1.7h-1.7zM235.8,210.6h1.7v1.7h-1.7zM249.6,194.0h1.7v1.7h-1.7zM239.4,197.6h1.7v1.7h-1.7zM236.8,208.4h1.7v1.7h-1.7zM246.8,214.9h1.7v1.7h-1.7zM243.9,196.9h1.7v1.7h-1.7zM248.8,176.8h1.7v1.7h-1.7zM214.7,209.7h1.7v1.7h-1.7zM254.1,200.2h1.7v1.7h-1.7zM228.8,222.3h1.7v1.7h-1.7zM248.7,224.5h1.7v1.7h-1.7zM245.7,207.6h1.7v1.7h-1.7zM249.2,202.3h1.7v1.7h-1.7zM230.8,201.2h1.7v1.7h-1.7zM246.1,179.0h1.7v1.7h-1.7zM211.3,226.1h1.7v1.7h-1.7zM235.8,224.9h1.7v1.7h-1.7zM254.7,238.6h1.7v1.7h-1.7zM234.1,222.2h1.7v1.7h-1.7zM269.0,201.2h1.7v1.7h-1.7zM226.6,208.8h1.7v1.7h-1.7zM242.2,220.9h1.7v1.7h-1.7zM230.0,207.2h1.7v1.7h-1.7zM226.2,214.1h1.7v1.7h-1.7zM236.6,220.7h1.7v1.7h-1.7zM216.3,225.6h1.7v1.7h-1.7zM243.4,205.6h1.7v1.7h-1.7zM235.3,212.2h1.7v1.7h-1.7zM226.7,210.2h1.7v1.7h-1.7zM246.4,211.0h1.7v1.7h-1.7zM211.0,199.2h1.7v1.7h-1.7zM252.3,207.3h1.7v1.7h-1.7zM237.3,198.4h1.7v1.7h-1.7zM242.1,201.6h1.7v1.7h-1.7zM249.1,211.0h1.7v1.7h-1.7zM210.1,194.2h1.7v1.7h-1.7zM227.8,224.7h1.7v1.7h-1.7zM241.8,194.1h1.7v1.7h-1.7zM256.8,230.3h1.7v1.7h-1.7zM230.7,217.2h1.7v1.7h-1.7zM220.1,243.0h1.7v1.7h-1.7zM224.7,211.3h1.7v1.7h-1.7zM222.0,227.5h1.7v1.7h-1.7zM256.9,201.1h1.7v1.7h-1.7zM221.0,227.5h1.7v1.7h-1.7zM250.4,194.9h1.7v1.7h-1.7zM229.8,236.3h1.7v1.7h-1.7zM251.6,207.4h1.7v1.7h-1.7zM239.8,188.1h1.7v1.7h-1.7zM262.1,211.1h1.7v1.7h-1.7zM191.5,232.8h1.7v1.7h-1.7zM252.6,220.1h1.7v1.7h-1.7zM242.7,222.5h1.7v1.7h-1.7zM243.4,215.7h1.7v1.7h-1.7zM233.6,217.3h1.7v1.7h-1.7zM241.0,224.4h1.7v1.7h-1.7zM245.8,231.4h1.7v1.7h-1.7zM207.4,231.9h1.7v1.7h-1.7zM245.0,199.7h1.7v1.7h-1.7zM250.0,204.6h1.7v1.7h-1.7zM238.9,224.6h1.7v1.7h-1.7zM215.7,205.4h1.7v1.7h-1.7zM241.6,213.2h1.7v1.7h-1.7zM242.6,189.8h1.7v1.7h-1.7zM229.1,232.7h1.7v1.7h-1.7zM234.8,212.2h1.7v1.7h-1.7zM229.0,199.7h1.7v1.7h-1.7zM219.5,230.4h1.7v1.7h-1.7zM252.4,192.8h1.7v1.7h-1.7zM242.0,205.9h1.7v1.7h-1.7zM210.9,238.7h1.7v1.7h-1.7zM259.1,204.2h1.7v1.7h-1.7zM229.2,207.3h1.7v1.7h-1.7zM249.4,193.8h1.7v1.7h-1.7zM243.4,221.0h1.7v1.7h-1.7zM202.9,226.8h1.7v1.7h-1.7zM234.1,221.9h1.7v1.7h-1.7zM230.8,190.7h1.7v1.7h-1.7zM250.3,221.5h1.7v1.7h-1.7zM250.1,212.0h1.7v1.7h-1.7zM224.5,225.0h1.7v1.7h-1.7zM226.9,211.4h1.7v1.7h-1.7zM248.6,210.6h1.7v1.7h-1.7zM232.0,222.2h1.7v1.7h-1.7zM257.7,185.2h1.7v1.7h-1.7zM225.6,211.4h1.7v1.7h-1.7zM254.3,230.7h1.7v1.7h-1.7zM261.9,187.4h1.7v1.7h-1.7zM228.0,206.9h1.7v1.7h-1.7zM230.7,224.4h1.7v1.7h-1.7zM237.6,218.3h1.7v1.7h-1.7zM223.8,215.2h1.7v1.7h-1.7zM228.5,199.1h1.7v1.7h-1.7zM275.8,203.2h1.7v1.7h-1.7zM189.1,214.6h1.7v1.7h-1.7zM222.0,258.2h1.7v1.7h-1.7zM223.0,214.9h1.7v1.7h-1.7zM231.7,209.5h1.7v1.7h-1.7zM236.8,217.4h1.7v1.7h-1.7zM225.2,230.5h1.7v1.7h-1.7zM236.5,190.3h1.7v1.7h-1.7zM238.3,217.8h1.7v1.7h-1.7zM265.4,198.8h1.7v1.7h-1.7zM236.8,219.9h1.7v1.7h-1.7zM219.8,222.3h1.7v1.7h-1.7zM240.1,221.0h1.7v1.7h-1.7zM250.3,196.0h1.7v1.7h-1.7zM251.7,198.9h1.7v1.7h-1.7zM239.0,220.5h1.7v1.7h-1.7zM246.6,205.7h1.7v1.7h-1.7zM222.2,222.8h1.7v1.7h-1.7zM276.1,179.8h1.7v1.7h-1.7zM254.3,208.2h1.7v1.7h-1.7zM215.3,236.4h1.7v1.7h-1.7zM228.1,219.4h1.7v1.7h-1.7zM246.9,226.3h1.7v1.7h-1.7zM246.9,196.0h1.7v1.7h-1.7zM246.5,202.0h1.7v1.7h-1.7zM197.0,261.3h1.7v1.7h-1.7zM232.1,211.7h1.7v1.7h-1.7zM261.7,185.1h1.7v1.7h-1.7zM216.2,219.2h1.7v1.7h-1.7zM266.8,213.7h1.7v1.7h-1.7zM248.9,214.5h1.7v1.7h-1.7zM236.4,221.8h1.7v1.7h-1.7zM222.4,212.1h1.7v1.7h-1.7zM222.9,212.2h1.7v1.7h-1.7zM239.7,214.9h1.7v1.7h-1.7zM223.2,221.2h1.7v1.7h-1.7zM248.4,201.0h1.7v1.7h-1.7zM226.8,215.4h1.7v1.7h-1.7zM235.2,212.8h1.7v1.7h-1.7zM238.8,211.9h1.7v1.7h-1.7zM250.4,209.8h1.7v1.7h-1.7zM228.8,207.9h1.7v1.7h-1.7zM226.5,222.0h1.7v1.7h-1.7zM213.2,223.6h1.7v1.7h-1.7zM246.2,203.6h1.7v1.7h-1.7zM241.4,222.8h1.7v1.7h-1.7zM212.5,218.1h1.7v1.7h-1.7zM272.6,180.5h1.7v1.7h-1.7zM219.9,209.6h1.7v1.7h-1.7zM241.5,241.6h1.7v1.7h-1.7zM237.5,215.8h1.7v1.7h-1.7zM206.0,233.3h1.7v1.7h-1.7zM270.3,195.3h1.7v1.7h-1.7zM235.8,213.4h1.7v1.7h-1.7zM218.2,210.6h1.7v1.7h-1.7zM241.5,219.2h1.7v1.7h-1.7zM214.8,213.6h1.7v1.7h-1.7zM222.5,213.7h1.7v1.7h-1.7zM227.2,198.3h1.7v1.7h-1.7zM257.4,189.0h1.7v1.7h-1.7zM230.4,216.6h1.7v1.7h-1.7zM224.0,189.5h1.7v1.7h-1.7zM245.8,212.7h1.7v1.7h-1.7zM210.4,227.9h1.7v1.7h-1.7zM248.5,217.5h1.7v1.7h-1.7zM224.4,212.3h1.7v1.7h-1.7zM252.2,212.5h1.7v1.7h-1.7zM218.1,206.1h1.7v1.7h-1.7zM236.7,219.7h1.7v1.7h-1.7zM241.0,200.0h1.7v1.7h-1.7zM225.8,203.5h1.7v1.7h-1.7zM222.8,207.6h1.7v1.7h-1.7zM207.8,209.5h1.7v1.7h-1.7zM249.8,208.6h1.7v1.7h-1.7zM238.3,202.4h1.7v1.7h-1.7zM227.2,220.3h1.7v1.7h-1.7zM243.4,220.2h1.7v1.7h-1.7zM219.0,212.4h1.7v1.7h-1.7zM268.2,204.1h1.7v1.7h-1.7zM226.7,215.6h1.7v1.7h-1.7zM246.9,202.2h1.7v1.7h-1.7zM275.1,196.1h1.7v1.7h-1.7zM224.9,220.5h1.7v1.7h-1.7zM260.4,209.4h1.7v1.7h-1.7zM272.8,184.5h1.7v1.7h-1.7zM242.7,195.8h1.7v1.7h-1.7zM254.8,191.1h1.7v1.7h-1.7zM263.4,218.2h1.7v1.7h-1.7zM213.9,198.9h1.7v1.7h-1.7zM229.9,191.9h1.7v1.7h-1.7zM236.1,203.5h1.7v1.7h-1.7zM226.4,218.5h1.7v1.7h-1.7zM237.0,205.8h1.7v1.7h-1.7zM235.4,203.1h1.7v1.7h-1.7zM207.9,225.0h1.7v1.7h-1.7zM255.0,223.6h1.7v1.7h-1.7zM214.6,226.4h1.7v1.7h-1.7zM219.8,241.9h1.7v1.7h-1.7zM236.8,208.3h1.7v1.7h-1.7zM198.9,207.2h1.7v1.7h-1.7zM223.9,214.0h1.7v1.7h-1.7zM253.1,211.0h1.7v1.7h-1.7zM231.0,207.4h1.7v1.7h-1.7zM264.9,190.0h1.7v1.7h-1.7zM230.5,217.3h1.7v1.7h-1.7zM210.5,192.4h1.7v1.7h-1.7zM234.4,217.2h1.7v1.7h-1.7zM200.2,241.5h1.7v1.7h-1.7zM252.6,222.9h1.7v1.7h-1.7zM252.7,199.2h1.7v1.7h-1.7zM223.9,219.3h1.7v1.7h-1.7zM244.4,191.5h1.7v1.7h-1.7zM231.3,214.1h1.7v1.7h-1.7zM201.1,237.8h1.7v1.7h-1.7zM245.1,201.4h1.7v1.7h-1.7zM227.0,243.5h1.7v1.7h-1.7zM237.0,218.8h1.7v1.7h-1.7zM218.7,229.3h1.7v1.7h-1.7zM211.8,240.5h1.7v1.7h-1.7zM201.0,230.0h1.7v1.7h-1.7zM259.2,187.8h1.7v1.7h-1.7zM239.0,215.8h1.7v1.7h-1.7zM218.6,245.5h1.7v1.7h-1.7zM238.3,233.7h1.7v1.7h-1.7zM260.4,194.2h1.7v1.7h-1.7zM246.4,230.2h1.7v1.7h-1.7zM235.7,211.1h1.7v1.7h-1.7zM235.6,196.8h1.7v1.7h-1.7zM226.1,200.9h1.7v1.7h-1.7zM240.0,186.2h1.7v1.7h-1.7zM243.6,202.2h1.7v1.7h-1.7zM239.8,221.8h1.7v1.7h-1.7zM230.8,222.4h1.7v1.7h-1.7zM236.2,187.8h1.7v1.7h-1.7zM238.5,201.5h1.7v1.7h-1.7zM233.9,231.4h1.7v1.7h-1.7zM231.5,215.6h1.7v1.7h-1.7zM237.5,203.6h1.7v1.7h-1.7zM250.9,207.6h1.7v1.7h-1.7zM274.2,217.3h1.7v1.7h-1.7zM253.8,189.6h1.7v1.7h-1.7zM223.8,199.2h1.7v1.7h-1.7zM232.7,198.2h1.7v1.7h-1.7zM210.9,219.1h1.7v1.7h-1.7zM223.1,217.6h1.7v1.7h-1.7zM244.0,213.0h1.7v1.7h-1.7zM263.4,223.2h1.7v1.7h-1.7zM195.5,197.3h1.7v1.7h-1.7zM229.5,243.7h1.7v1.7h-1.7zM251.3,192.9h1.7v1.7h-1.7zM221.4,268.6h1.7v1.7h-1.7zM232.1,209.8h1.7v1.7h-1.7zM242.2,212.0h1.7v1.7h-1.7zM234.5,210.1h1.7v1.7h-1.7zM240.1,205.4h1.7v1.7h-1.7zM219.1,223.2h1.7v1.7h-1.7zM202.8,230.5h1.7v1.7h-1.7zM238.1,207.1h1.7v1.7h-1.7zM239.3,238.8h1.7v1.7h-1.7zM244.0,200.4h1.7v1.7h-1.7zM230.1,194.3h1.7v1.7h-1.7zM193.9,227.8h1.7v1.7h-1.7zM213.5,223.9h1.7v1.7h-1.7zM238.1,217.5h1.7v1.7h-1.7zM233.3,211.4h1.7v1.7h-1.7zM248.0,190.5h1.7v1.7h-1.7zM247.1,207.2h1.7v1.7h-1.7zM216.2,220.3h1.7v1.7h-1.7zM238.1,209.9h1.7v1.7h-1.7zM247.9,205.6h1.7v1.7h-1.7zM226.0,206.5h1.7v1.7h-1.7zM231.6,204.0h1.7v1.7h-1.7zM205.7,239.0h1.7v1.7h-1.7zM224.6,214.4h1.7v1.7h-1.7zM244.3,222.0h1.7v1.7h-1.7zM248.9,208.6h1.7v1.7h-1.7zM235.4,221.6h1.7v1.7h-1.7zM256.2,180.2h1.7v1.7h-1.7zM255.1,194.6h1.7v1.7h-1.7zM221.4,223.5h1.7v1.7h-1.7zM203.8,231.9h1.7v1.7h-1.7zM225.7,216.5h1.7v1.7h-1.7zM226.3,226.4h1.7v1.7h-1.7zM220.6,218.4h1.7v1.7h-1.7zM248.5,209.6h1.7v1.7h-1.7zM259.3,192.5h1.7v1.7h-1.7zM249.3,226.5h1.7v1.7h-1.7zM251.0,215.0h1.7v1.7h-1.7zM204.5,234.9h1.7v1.7h-1.7zM225.3,215.7h1.7v1.7h-1.7zM205.4,230.0h1.7v1.7h-1.7zM243.0,187.5h1.7v1.7h-1.7zM243.8,227.9h1.7v1.7h-1.7zM237.4,228.2h1.7v1.7h-1.7zM224.7,208.9h1.7v1.7h-1.7zM265.8,202.9h1.7v1.7h-1.7zM242.2,226.3h1.7v1.7h-1.7zM269.4,215.7h1.7v1.7h-1.7zM233.7,218.6h1.7v1.7h-1.7zM248.8,224.4h1.7v1.7h-1.7zM228.8,234.6h1.7v1.7h-1.7zM221.1,230.3h1.7v1.7h-1.7zM264.1,192.9h1.7v1.7h-1.7zM243.5,233.7h1.7v1.7h-1.7zM256.3,210.7h1.7v1.7h-1.7zM227.1,208.6h1.7v1.7h-1.7zM250.7,188.6h1.7v1.7h-1.7zM223.0,234.9h1.7v1.7h-1.7zM224.7,218.1h1.7v1.7h-1.7zM245.1,193.0h1.7v1.7h-1.7zM249.1,211.4h1.7v1.7h-1.7zM251.9,219.7h1.7v1.7h-1.7zM231.3,206.0h1.7v1.7h-1.7zM233.3,213.5h1.7v1.7h-1.7zM200.0,236.5h1.7v1.7h-1.7zM237.1,204.1h1.7v1.7h-1.7zM237.8,201.2h1.7v1.7h-1.7zM249.8,203.6h1.7v1.7h-1.7zM256.6,210.1h1.7v1.7h-1.7zM228.3,210.7h1.7v1.7h-1.7zM244.2,211.0h1.7v1.7h-1.7zM227.5,234.8h1.7v1.7h-1.7zM215.7,242.7h1.7v1.7h-1.7zM231.5,196.1h1.7v1.7h-1.7zM213.4,228.7h1.7v1.7h-1.7zM244.8,206.8h1.7v1.7h-1.7zM233.9,194.4h1.7v1.7h-1.7zM226.8,197.5h1.7v1.7h-1.7zM232.8,226.8h1.7v1.7h-1.7zM249.9,198.7h1.7v1.7h-1.7zM239.2,220.6h1.7v1.7h-1.7zM234.4,194.8h1.7v1.7h-1.7zM247.6,198.9h1.7v1.7h-1.7zM236.6,224.7h1.7v1.7h-1.7zM228.8,230.7h1.7v1.7h-1.7zM235.3,219.1h1.7v1.7h-1.7zM234.5,212.9h1.7v1.7h-1.7zM224.6,208.5h1.7v1.7h-1.7zM264.0,208.5h1.7v1.7h-1.7zM226.5,221.9h1.7v1.7h-1.7zM249.6,201.5h1.7v1.7h-1.7zM248.5,218.6h1.7v1.7h-1.7zM213.0,206.6h1.7v1.7h-1.7zM242.9,228.3h1.7v1.7h-1.7zM226.9,206.5h1.7v1.7h-1.7zM229.1,199.9h1.7v1.7h-1.7zM228.9,195.8h1.7v1.7h-1.7zM208.0,219.5h1.7v1.7h-1.7zM215.3,202.6h1.7v1.7h-1.7zM238.2,235.3h1.7v1.7h-1.7zM236.4,222.6h1.7v1.7h-1.7zM257.0,209.9h1.7v1.7h-1.7zM217.9,212.7h1.7v1.7h-1.7zM239.4,226.3h1.7v1.7h-1.7zM207.0,204.3h1.7v1.7h-1.7zM215.9,210.1h1.7v1.7h-1.7zM229.4,220.8h1.7v1.7h-1.7zM246.6,208.8h1.7v1.7h-1.7zM267.1,196.5h1.7v1.7h-1.7zM246.7,229.4h1.7v1.7h-1.7zM231.4,234.4h1.7v1.7h-1.7zM227.5,220.4h1.7v1.7h-1.7zM220.4,224.4h1.7v1.7h-1.7zM264.5,182.0h1.7v1.7h-1.7zM232.0,243.6h1.7v1.7h-1.7zM221.0,224.6h1.7v1.7h-1.7zM247.1,193.6h1.7v1.7h-1.7zM219.4,237.4h1.7v1.7h-1.7zM217.6,219.9h1.7v1.7h-1.7zM220.0,215.2h1.7v1.7h-1.7zM237.4,216.9h1.7v1.7h-1.7zM229.3,232.6h1.7v1.7h-1.7zM215.0,215.7h1.7v1.7h-1.7zM234.0,214.0h1.7v1.7h-1.7zM232.6,219.7h1.7v1.7h-1.7zM260.4,223.3h1.7v1.7h-1.7zM240.3,205.5h1.7v1.7h-1.7zM243.5,228.8h1.7v1.7h-1.7zM215.0,219.6h1.7v1.7h-1.7zM249.0,229.3h1.7v1.7h-1.7zM230.7,232.7h1.7v1.7h-1.7zM244.4,215.2h1.7v1.7h-1.7zM231.1,202.5h1.7v1.7h-1.7zM196.1,244.2h1.7v1.7h-1.7zM235.1,205.0h1.7v1.7h-1.7zM258.9,178.4h1.7v1.7h-1.7zM222.9,213.0h1.7v1.7h-1.7zM268.9,219.1h1.7v1.7h-1.7zM223.3,202.7h1.7v1.7h-1.7zM258.7,220.3h1.7v1.7h-1.7zM230.3,208.3h1.7v1.7h-1.7zM258.3,198.5h1.7v1.7h-1.7zM246.8,221.1h1.7v1.7h-1.7zM240.7,208.8h1.7v1.7h-1.7zM256.5,206.2h1.7v1.7h-1.7zM244.0,211.3h1.7v1.7h-1.7zM234.2,220.5h1.7v1.7h-1.7zM226.1,232.7h1.7v1.7h-1.7zM225.5,214.7h1.7v1.7h-1.7zM228.7,206.5h1.7v1.7h-1.7zM234.2,204.3h1.7v1.7h-1.7zM230.0,200.0h1.7v1.7h-1.7zM258.2,188.7h1.7v1.7h-1.7zM224.7,217.8h1.7v1.7h-1.7zM232.7,245.1h1.7v1.7h-1.7zM231.1,227.9h1.7v1.7h-1.7zM224.0,208.2h1.7v1.7h-1.7zM219.7,221.7h1.7v1.7h-1.7zM232.4,238.6h1.7v1.7h-1.7zM195.9,267.4h1.7v1.7h-1.7zM200.9,267.0h1.7v1.7h-1.7zM232.9,247.6h1.7v1.7h-1.7zM199.9,261.8h1.7v1.7h-1.7zM237.6,240.5h1.7v1.7h-1.7zM225.6,245.3h1.7v1.7h-1.7zM229.6,253.1h1.7v1.7h-1.7zM207.1,249.9h1.7v1.7h-1.7zM238.4,235.4h1.7v1.7h-1.7zM240.7,240.5h1.7v1.7h-1.7zM186.3,260.0h1.7v1.7h-1.7zM244.2,250.2h1.7v1.7h-1.7zM214.7,257.9h1.7v1.7h-1.7zM237.2,251.0h1.7v1.7h-1.7zM245.5,265.6h1.7v1.7h-1.7zM245.7,267.7h1.7v1.7h-1.7zM191.0,255.2h1.7v1.7h-1.7zM222.8,264.4h1.7v1.7h-1.7zM217.8,237.1h1.7v1.7h-1.7zM209.6,242.9h1.7v1.7h-1.7zM219.7,248.9h1.7v1.7h-1.7zM192.7,252.8h1.7v1.7h-1.7zM239.6,245.9h1.7v1.7h-1.7zM195.5,253.4h1.7v1.7h-1.7zM269.7,191.7h1.7v1.7h-1.7zM270.6,182.6h1.7v1.7h-1.7zM255.5,195.3h1.7v1.7h-1.7zM272.7,195.5h1.7v1.7h-1.7zM257.0,178.6h1.7v1.7h-1.7zM264.0,172.6h1.7v1.7h-1.7zM270.1,199.0h1.7v1.7h-1.7zM272.2,194.0h1.7v1.7h-1.7zM277.0,179.8h1.7v1.7h-1.7zM275.5,200.3h1.7v1.7h-1.7zM256.0,177.5h1.7v1.7h-1.7zM258.8,195.9h1.7v1.7h-1.7zM255.9,197.1h1.7v1.7h-1.7zM267.8,172.6h1.7v1.7h-1.7zM263.7,194.1h1.7v1.7h-1.7zM277.4,196.4h1.7v1.7h-1.7zM272.2,183.2h1.7v1.7h-1.7zM280.2,200.8h1.7v1.7h-1.7zM270.2,190.3h1.7v1.7h-1.7zM277.2,194.3h1.7v1.7h-1.7zM274.3,196.4h1.7v1.7h-1.7zM268.4,172.3h1.7v1.7h-1.7zM261.5,193.5h1.7v1.7h-1.7zM279.8,181.3h1.7v1.7h-1.7zM256.8,196.4h1.7v1.7h-1.7zM182.7,243.1h1.7v1.7h-1.7zM190.3,223.2h1.7v1.7h-1.7zM192.0,224.7h1.7v1.7h-1.7zM187.6,238.6h1.7v1.7h-1.7zM188.7,233.2h1.7v1.7h-1.7zM180.4,233.3h1.7v1.7h-1.7zM184.5,231.4h1.7v1.7h-1.7zM180.3,255.7h1.7v1.7h-1.7zM192.0,239.1h1.7v1.7h-1.7zM183.8,249.9h1.7v1.7h-1.7zM187.1,212.8h1.7v1.7h-1.7zM181.9,232.9h1.7v1.7h-1.7zM185.9,220.0h1.7v1.7h-1.7zM186.8,245.5h1.7v1.7h-1.7zM182.1,222.0h1.7v1.7h-1.7zM180.7,215.2h1.7v1.7h-1.7zM180.1,247.9h1.7v1.7h-1.7zM185.5,216.3h1.7v1.7h-1.7z" fill="#000"/>
<path d="M179.8,237.6L281.7,197.5L281.7,203.3L179.8,242.4Z" fill="#c8c8c8" opacity="0.7"/>
<line x1="179.80" y1="240.00" x2="281.70" y2="200.40" stroke="#4478dc" stroke-width="1.15" />
<rect x="177" y="167" width="55" height="8" fill="#fff"/>
<text x="179.00" y="174.00" font-size="6.4" text-anchor="start" font-weight="bold" fill="#000" stroke="#000" stroke-width="0.22" >R=0.38,p&lt;2.2e<tspan font-size="4" dy="-2">-</tspan><tspan dy="2">16</tspan></text>
<text x="303.00" y="165.00" font-size="10.5" text-anchor="start" font-weight="normal" fill="#000" stroke="#000" stroke-width="0.34" >G</text>
<line x1="322.90" y1="175.50" x2="322.90" y2="267.40" stroke="#111" stroke-width="1" />
<line x1="322.90" y1="267.40" x2="398.60" y2="267.40" stroke="#111" stroke-width="1" />
<line x1="320.00" y1="267.40" x2="322.90" y2="267.40" stroke="#111" stroke-width="1" />
<text x="319.50" y="269.70" font-size="6.6" text-anchor="end" font-weight="bold" fill="#000" stroke="#000" stroke-width="0.22" >0.0</text>
<line x1="320.00" y1="249.15" x2="322.90" y2="249.15" stroke="#111" stroke-width="1" />
<text x="319.50" y="251.45" font-size="6.6" text-anchor="end" font-weight="bold" fill="#000" stroke="#000" stroke-width="0.22" >0.1</text>
<line x1="320.00" y1="230.90" x2="322.90" y2="230.90" stroke="#111" stroke-width="1" />
<text x="319.50" y="233.20" font-size="6.6" text-anchor="end" font-weight="bold" fill="#000" stroke="#000" stroke-width="0.22" >0.2</text>
<line x1="320.00" y1="212.65" x2="322.90" y2="212.65" stroke="#111" stroke-width="1" />
<text x="319.50" y="214.95" font-size="6.6" text-anchor="end" font-weight="bold" fill="#000" stroke="#000" stroke-width="0.22" >0.3</text>
<line x1="320.00" y1="194.40" x2="322.90" y2="194.40" stroke="#111" stroke-width="1" />
<text x="319.50" y="196.70" font-size="6.6" text-anchor="end" font-weight="bold" fill="#000" stroke="#000" stroke-width="0.22" >0.4</text>
<line x1="320.00" y1="176.15" x2="322.90" y2="176.15" stroke="#111" stroke-width="1" />
<text x="319.50" y="178.45" font-size="6.6" text-anchor="end" font-weight="bold" fill="#000" stroke="#000" stroke-width="0.22" >0.5</text>
<line x1="344.80" y1="267.40" x2="344.80" y2="270.00" stroke="#111" stroke-width="1" />
<line x1="377.30" y1="267.40" x2="377.30" y2="270.00" stroke="#111" stroke-width="1" />
<text x="306.30" y="220.00" font-size="6.6" text-anchor="middle" font-weight="bold" fill="#000" stroke="#000" stroke-width="0.22" textLength="70.00" lengthAdjust="spacingAndGlyphs" transform="rotate(-90 306.30 220.00)" >Macrophage signature</text>
<line x1="343.50" y1="182.90" x2="376.40" y2="182.90" stroke="#111" stroke-width="0.9" />
<text x="359.50" y="182.00" font-size="5" text-anchor="middle" font-weight="bold" fill="#000" stroke="#000" stroke-width="0.22" >**</text>
<rect x="334.3" y="217.3" width="21" height="17" fill="none" stroke="#111" stroke-width="0.9"/>
<line x1="334.30" y1="224.20" x2="355.30" y2="224.20" stroke="#111" stroke-width="0.9" />
<line x1="344.80" y1="208.40" x2="344.80" y2="217.30" stroke="#111" stroke-width="0.9" />
<line x1="344.80" y1="234.30" x2="344.80" y2="251.50" stroke="#111" stroke-width="0.9" />
<line x1="339.00" y1="208.40" x2="350.50" y2="208.40" stroke="#111" stroke-width="0.9" />
<line x1="339.50" y1="251.50" x2="350.00" y2="251.50" stroke="#111" stroke-width="0.9" />
<path d="M338.56,209.36L339.76,207.20L340.96,209.36Z" fill="#000"/>
<path d="M341.20,209.57L342.40,207.41L343.60,209.57Z" fill="#000"/>
<path d="M346.31,207.69L347.51,205.53L348.71,207.69Z" fill="#000"/>
<path d="M334.06,210.39L335.26,208.23L336.46,210.39Z" fill="#000"/>
<path d="M338.99,208.28L340.19,206.12L341.39,208.28Z" fill="#000"/>
<path d="M353.71,209.11L354.91,206.95L356.11,209.11Z" fill="#000"/>
<path d="M350.53,209.13L351.73,206.97L352.93,209.13Z" fill="#000"/>
<path d="M346.58,207.99L347.78,205.83L348.98,207.99Z" fill="#000"/>
<path d="M346.50,210.50L347.70,208.34L348.90,210.50Z" fill="#000"/>
<path d="M344.26,210.05L345.46,207.89L346.66,210.05Z" fill="#000"/>
<path d="M347.23,207.68L348.43,205.52L349.63,207.68Z" fill="#000"/>
<path d="M348.96,209.53L350.16,207.37L351.36,209.53Z" fill="#000"/>
<path d="M339.83,207.57L341.03,205.41L342.23,207.57Z" fill="#000"/>
<path d="M351.11,209.11L352.31,206.95L353.51,209.11Z" fill="#000"/>
<path d="M348.18,210.54L349.38,208.38L350.58,210.54Z" fill="#000"/>
<path d="M348.08,210.68L349.28,208.52L350.48,210.68Z" fill="#000"/>
<path d="M341.70,210.26L342.90,208.10L344.10,210.26Z" fill="#000"/>
<path d="M342.69,210.73L343.89,208.57L345.09,210.73Z" fill="#000"/>
<path d="M351.38,207.80L352.58,205.64L353.78,207.80Z" fill="#000"/>
<path d="M336.52,208.22L337.72,206.06L338.92,208.22Z" fill="#000"/>
<path d="M353.11,208.99L354.31,206.83L355.51,208.99Z" fill="#000"/>
<path d="M346.33,208.51L347.53,206.35L348.73,208.51Z" fill="#000"/>
<path d="M343.94,208.81L345.14,206.65L346.34,208.81Z" fill="#000"/>
<path d="M340.82,209.51L342.02,207.35L343.22,209.51Z" fill="#000"/>
<path d="M345.49,210.62L346.69,208.46L347.89,210.62Z" fill="#000"/>
<path d="M347.44,210.71L348.64,208.55L349.84,210.71Z" fill="#000"/>
<path d="M350.93,210.93L352.13,208.77L353.33,210.93Z" fill="#000"/>
<path d="M347.23,208.03L348.43,205.87L349.63,208.03Z" fill="#000"/>
<path d="M351.01,210.84L352.21,208.68L353.41,210.84Z" fill="#000"/>
<path d="M351.89,209.45L353.09,207.29L354.29,209.45Z" fill="#000"/>
<path d="M348.08,208.20L349.28,206.04L350.48,208.20Z" fill="#000"/>
<path d="M350.43,209.47L351.63,207.31L352.83,209.47Z" fill="#000"/>
<path d="M339.50,207.68L340.70,205.52L341.90,207.68Z" fill="#000"/>
<path d="M350.88,210.92L352.08,208.76L353.28,210.92Z" fill="#000"/>
<path d="M335.57,210.26L336.77,208.10L337.97,210.26Z" fill="#000"/>
<path d="M342.01,207.99L343.21,205.83L344.41,207.99Z" fill="#000"/>
<path d="M339.68,210.15L340.88,207.99L342.08,210.15Z" fill="#000"/>
<path d="M351.26,207.61L352.46,205.45L353.66,207.61Z" fill="#000"/>
<path d="M346.09,207.62L347.29,205.46L348.49,207.62Z" fill="#000"/>
<path d="M348.17,208.62L349.37,206.46L350.57,208.62Z" fill="#000"/>
<path d="M344.79,265.13L346.14,262.70L347.49,265.13Z" fill="#000"/>
<path d="M343.29,268.44L344.64,266.01L345.99,268.44Z" fill="#000"/>
<path d="M345.73,254.05L347.08,251.62L348.43,254.05Z" fill="#000"/>
<path d="M344.65,252.09L346.00,249.66L347.35,252.09Z" fill="#000"/>
<path d="M341.27,252.94L342.62,250.51L343.97,252.94Z" fill="#000"/>
<path d="M344.88,252.64L346.23,250.21L347.58,252.64Z" fill="#000"/>
<path d="M344.56,252.11L345.91,249.68L347.26,252.11Z" fill="#000"/>
<path d="M342.72,267.28L344.07,264.85L345.42,267.28Z" fill="#000"/>
<path d="M342.54,265.55L343.89,263.12L345.24,265.55Z" fill="#000"/>
<path d="M344.33,257.12L345.68,254.69L347.03,257.12Z" fill="#000"/>
<path d="M342.25,259.49L343.60,257.06L344.95,259.49Z" fill="#000"/>
<path d="M342.62,259.00L343.97,256.57L345.32,259.00Z" fill="#000"/>
<path d="M342.24,266.77L343.59,264.34L344.94,266.77Z" fill="#000"/>
<path d="M343.40,261.16L344.75,258.73L346.10,261.16Z" fill="#000"/>
<path d="M341.80,253.29L343.15,250.86L344.50,253.29Z" fill="#000"/>
<path d="M346.44,257.14L347.79,254.71L349.14,257.14Z" fill="#000"/>
<path d="M344.63,257.63L345.98,255.20L347.33,257.63Z" fill="#000"/>
<path d="M343.53,258.22L344.88,255.79L346.23,258.22Z" fill="#000"/>
<path d="M341.44,252.07L342.79,249.64L344.14,252.07Z" fill="#000"/>
<path d="M341.66,252.16L343.01,249.73L344.36,252.16Z" fill="#000"/>
<path d="M341.77,259.15L343.12,256.72L344.47,259.15Z" fill="#000"/>
<path d="M344.05,254.57L345.40,252.14L346.75,254.57Z" fill="#000"/>
<path d="M343.43,260.85L344.78,258.42L346.13,260.85Z" fill="#000"/>
<path d="M343.05,252.16L344.40,249.73L345.75,252.16Z" fill="#000"/>
<path d="M344.29,260.17L345.64,257.74L346.99,260.17Z" fill="#000"/>
<path d="M343.12,256.06L344.47,253.63L345.82,256.06Z" fill="#000"/>
<path d="M342.99,258.46L344.34,256.03L345.69,258.46Z" fill="#000"/>
<path d="M345.09,254.08L346.44,251.65L347.79,254.08Z" fill="#000"/>
<path d="M342.13,254.79L343.48,252.36L344.83,254.79Z" fill="#000"/>
<path d="M342.54,254.89L343.89,252.46L345.24,254.89Z" fill="#000"/>
<path d="M344.91,262.37L346.26,259.94L347.61,262.37Z" fill="#000"/>
<path d="M343.70,261.50L345.05,259.07L346.40,261.50Z" fill="#000"/>
<path d="M344.04,254.05L345.39,251.62L346.74,254.05Z" fill="#000"/>
<path d="M346.83,253.30L348.18,250.87L349.53,253.30Z" fill="#000"/>
<path d="M340.75,252.86L342.10,250.43L343.45,252.86Z" fill="#000"/>
<path d="M344.61,252.32L345.96,249.89L347.31,252.32Z" fill="#000"/>
<path d="M341.64,254.19L342.99,251.76L344.34,254.19Z" fill="#000"/>
<path d="M346.56,255.78L347.91,253.35L349.26,255.78Z" fill="#000"/>
<path d="M343.95,264.46L345.30,262.03L346.65,264.46Z" fill="#000"/>
<path d="M344.35,259.62L345.70,257.19L347.05,259.62Z" fill="#000"/>
<path d="M342.67,265.23L344.02,262.80L345.37,265.23Z" fill="#000"/>
<path d="M343.86,252.42L345.21,249.99L346.56,252.42Z" fill="#000"/>
<rect x="366.8" y="215.9" width="21.2" height="16.7" fill="none" stroke="#f02020" stroke-width="0.9"/>
<line x1="366.80" y1="224.20" x2="388.00" y2="224.20" stroke="#f02020" stroke-width="0.9" />
<line x1="377.30" y1="205.00" x2="377.30" y2="215.90" stroke="#f02020" stroke-width="0.9" />
<line x1="377.30" y1="232.60" x2="377.30" y2="243.20" stroke="#f02020" stroke-width="0.9" />
<line x1="372.00" y1="205.00" x2="382.60" y2="205.00" stroke="#f02020" stroke-width="0.9" />
<line x1="372.00" y1="243.20" x2="382.60" y2="243.20" stroke="#f02020" stroke-width="0.9" />
<circle cx="378.09" cy="243.26" r="1.25" fill="#f02020"/>
<circle cx="383.64" cy="245.85" r="1.25" fill="#f02020"/>
<circle cx="371.17" cy="243.61" r="1.25" fill="#f02020"/>
<circle cx="383.64" cy="245.07" r="1.25" fill="#f02020"/>
<circle cx="383.63" cy="243.88" r="1.25" fill="#f02020"/>
<circle cx="370.09" cy="243.67" r="1.25" fill="#f02020"/>
<circle cx="383.38" cy="243.58" r="1.25" fill="#f02020"/>
<circle cx="374.43" cy="244.17" r="1.25" fill="#f02020"/>
<circle cx="375.90" cy="244.14" r="1.25" fill="#f02020"/>
<circle cx="385.91" cy="243.12" r="1.25" fill="#f02020"/>
<circle cx="367.59" cy="246.27" r="1.25" fill="#f02020"/>
<circle cx="385.10" cy="246.45" r="1.25" fill="#f02020"/>
<circle cx="376.19" cy="246.30" r="1.25" fill="#f02020"/>
<circle cx="386.05" cy="243.39" r="1.25" fill="#f02020"/>
<circle cx="382.41" cy="245.85" r="1.25" fill="#f02020"/>
<circle cx="380.76" cy="244.58" r="1.25" fill="#f02020"/>
<circle cx="373.28" cy="243.86" r="1.25" fill="#f02020"/>
<circle cx="372.05" cy="242.77" r="1.25" fill="#f02020"/>
<circle cx="379.27" cy="243.65" r="1.25" fill="#f02020"/>
<circle cx="383.70" cy="242.68" r="1.25" fill="#f02020"/>
<circle cx="385.57" cy="245.27" r="1.25" fill="#f02020"/>
<circle cx="385.98" cy="246.09" r="1.25" fill="#f02020"/>
<circle cx="385.49" cy="244.81" r="1.25" fill="#f02020"/>
<circle cx="367.76" cy="245.48" r="1.25" fill="#f02020"/>
<circle cx="370.94" cy="243.70" r="1.25" fill="#f02020"/>
<circle cx="380.76" cy="244.60" r="1.25" fill="#f02020"/>
<circle cx="375.78" cy="246.26" r="1.25" fill="#f02020"/>
<circle cx="379.74" cy="243.87" r="1.25" fill="#f02020"/>
<circle cx="372.55" cy="245.95" r="1.25" fill="#f02020"/>
<circle cx="377.04" cy="245.63" r="1.25" fill="#f02020"/>
<circle cx="374.54" cy="243.29" r="1.25" fill="#f02020"/>
<circle cx="378.19" cy="245.77" r="1.25" fill="#f02020"/>
<circle cx="370.93" cy="245.67" r="1.25" fill="#f02020"/>
<circle cx="385.94" cy="245.72" r="1.25" fill="#f02020"/>
<circle cx="383.97" cy="242.53" r="1.25" fill="#f02020"/>
<circle cx="380.07" cy="245.95" r="1.25" fill="#f02020"/>
<circle cx="368.50" cy="243.59" r="1.25" fill="#f02020"/>
<circle cx="372.87" cy="244.61" r="1.25" fill="#f02020"/>
<circle cx="375.96" cy="244.39" r="1.25" fill="#f02020"/>
<circle cx="383.03" cy="242.51" r="1.25" fill="#f02020"/>
<circle cx="368.60" cy="243.01" r="1.25" fill="#f02020"/>
<circle cx="369.99" cy="242.77" r="1.25" fill="#f02020"/>
<circle cx="386.99" cy="245.92" r="1.25" fill="#f02020"/>
<circle cx="369.22" cy="244.51" r="1.25" fill="#f02020"/>
<circle cx="373.82" cy="243.76" r="1.25" fill="#f02020"/>
<circle cx="374.53" cy="245.09" r="1.25" fill="#f02020"/>
<circle cx="379.23" cy="243.94" r="1.25" fill="#f02020"/>
<circle cx="371.32" cy="243.82" r="1.25" fill="#f02020"/>
<circle cx="369.98" cy="244.72" r="1.25" fill="#f02020"/>
<circle cx="381.82" cy="244.02" r="1.25" fill="#f02020"/>
<circle cx="369.10" cy="243.21" r="1.25" fill="#f02020"/>
<circle cx="374.97" cy="244.92" r="1.25" fill="#f02020"/>
<circle cx="383.15" cy="244.02" r="1.25" fill="#f02020"/>
<circle cx="383.52" cy="244.99" r="1.25" fill="#f02020"/>
<circle cx="376.13" cy="243.99" r="1.25" fill="#f02020"/>
<circle cx="377.42" cy="245.31" r="1.25" fill="#f02020"/>
<circle cx="375.91" cy="245.28" r="1.25" fill="#f02020"/>
<circle cx="376.72" cy="243.48" r="1.25" fill="#f02020"/>
<circle cx="378.22" cy="245.28" r="1.25" fill="#f02020"/>
<circle cx="368.93" cy="244.20" r="1.25" fill="#f02020"/>
<circle cx="376.02" cy="246.02" r="1.25" fill="#f02020"/>
<circle cx="386.23" cy="244.00" r="1.25" fill="#f02020"/>
<circle cx="385.46" cy="245.66" r="1.25" fill="#f02020"/>
<circle cx="372.74" cy="244.36" r="1.25" fill="#f02020"/>
<circle cx="369.96" cy="245.75" r="1.25" fill="#f02020"/>
<circle cx="380.75" cy="246.05" r="1.25" fill="#f02020"/>
<circle cx="383.35" cy="245.17" r="1.25" fill="#f02020"/>
<circle cx="382.17" cy="244.76" r="1.25" fill="#f02020"/>
<circle cx="369.56" cy="244.85" r="1.25" fill="#f02020"/>
<circle cx="367.60" cy="243.07" r="1.25" fill="#f02020"/>
<circle cx="379.20" cy="203.60" r="1.15" fill="#f02020"/>
<circle cx="377.84" cy="200.90" r="1.15" fill="#f02020"/>
<circle cx="377.72" cy="204.02" r="1.15" fill="#f02020"/>
<circle cx="378.19" cy="203.87" r="1.15" fill="#f02020"/>
<circle cx="381.05" cy="200.99" r="1.15" fill="#f02020"/>
<circle cx="371.71" cy="203.84" r="1.15" fill="#f02020"/>
<circle cx="370.22" cy="204.31" r="1.15" fill="#f02020"/>
<circle cx="373.46" cy="200.65" r="1.15" fill="#f02020"/>
<circle cx="370.19" cy="203.57" r="1.15" fill="#f02020"/>
<circle cx="376.79" cy="200.93" r="1.15" fill="#f02020"/>
<circle cx="378.77" cy="203.50" r="1.15" fill="#f02020"/>
<circle cx="376.66" cy="201.80" r="1.15" fill="#f02020"/>
<circle cx="378.88" cy="202.76" r="1.15" fill="#f02020"/>
<circle cx="374.34" cy="201.22" r="1.15" fill="#f02020"/>
<circle cx="371.68" cy="201.50" r="1.15" fill="#f02020"/>
<circle cx="372.28" cy="202.07" r="1.15" fill="#f02020"/>
<circle cx="373.97" cy="201.97" r="1.15" fill="#f02020"/>
<circle cx="379.83" cy="202.17" r="1.15" fill="#f02020"/>
<circle cx="368.30" cy="200.83" r="1.15" fill="#f02020"/>
<circle cx="377.28" cy="202.15" r="1.15" fill="#f02020"/>
<circle cx="380.97" cy="203.49" r="1.15" fill="#f02020"/>
<circle cx="383.14" cy="203.52" r="1.15" fill="#f02020"/>
<circle cx="372.16" cy="203.20" r="1.15" fill="#f02020"/>
<circle cx="376.75" cy="203.07" r="1.15" fill="#f02020"/>
<circle cx="378.49" cy="204.09" r="1.15" fill="#f02020"/>
<circle cx="378.93" cy="203.49" r="1.15" fill="#f02020"/>
<circle cx="372.46" cy="204.17" r="1.15" fill="#f02020"/>
<circle cx="376.77" cy="203.38" r="1.15" fill="#f02020"/>
<circle cx="376.97" cy="201.24" r="1.15" fill="#f02020"/>
<circle cx="380.28" cy="202.84" r="1.15" fill="#f02020"/>
<circle cx="378.07" cy="201.76" r="1.15" fill="#f02020"/>
<circle cx="384.16" cy="204.31" r="1.15" fill="#f02020"/>
<circle cx="376.01" cy="201.68" r="1.15" fill="#f02020"/>
<circle cx="372.84" cy="203.91" r="1.15" fill="#f02020"/>
<circle cx="377.13" cy="194.81" r="1.15" fill="#f02020"/>
<circle cx="378.83" cy="187.79" r="1.15" fill="#f02020"/>
<circle cx="376.30" cy="193.49" r="1.15" fill="#f02020"/>
<circle cx="378.21" cy="192.01" r="1.15" fill="#f02020"/>
<circle cx="377.49" cy="191.53" r="1.15" fill="#f02020"/>
<circle cx="376.09" cy="199.89" r="1.15" fill="#f02020"/>
<circle cx="375.29" cy="193.49" r="1.15" fill="#f02020"/>
<circle cx="375.86" cy="197.93" r="1.15" fill="#f02020"/>
<circle cx="374.94" cy="197.77" r="1.15" fill="#f02020"/>
<circle cx="376.41" cy="196.51" r="1.15" fill="#f02020"/>
<circle cx="374.40" cy="198.21" r="1.15" fill="#f02020"/>
<circle cx="379.40" cy="199.50" r="1.15" fill="#f02020"/>
<circle cx="377.51" cy="193.34" r="1.15" fill="#f02020"/>
<circle cx="378.90" cy="196.47" r="1.15" fill="#f02020"/>
<circle cx="381.47" cy="195.94" r="1.15" fill="#f02020"/>
<circle cx="376.19" cy="190.53" r="1.15" fill="#f02020"/>
<text x="324" y="277.4" font-size="6.4" font-weight="bold" stroke="#000" stroke-width="0.22" textLength="34" lengthAdjust="spacingAndGlyphs"><tspan font-style="italic">SMD1</tspan>-Low</text>
<text x="362" y="277.4" font-size="6.4" font-weight="bold" stroke="#000" stroke-width="0.22" textLength="35" lengthAdjust="spacingAndGlyphs"><tspan font-style="italic">SMD1</tspan>-High</text>
<text x="1.80" y="308.30" font-size="10.5" text-anchor="start" font-weight="bold" fill="#000" stroke="#000" stroke-width="0.22" >F</text>
<rect x="25.5" y="313.5" width="111" height="109.8" fill="none" stroke="#444" stroke-width="1"/>
<line x1="56.40" y1="423.30" x2="56.40" y2="425.60" stroke="#333" stroke-width="0.8" />
<text x="56.40" y="429.00" font-size="6.2" text-anchor="middle" font-weight="bold" fill="#000" stroke="#000" stroke-width="0.22" >8</text>
<line x1="91.30" y1="423.30" x2="91.30" y2="425.60" stroke="#333" stroke-width="0.8" />
<text x="91.30" y="429.00" font-size="6.2" text-anchor="middle" font-weight="bold" fill="#000" stroke="#000" stroke-width="0.22" >10</text>
<line x1="126.20" y1="423.30" x2="126.20" y2="425.60" stroke="#333" stroke-width="0.8" />
<text x="126.20" y="429.00" font-size="6.2" text-anchor="middle" font-weight="bold" fill="#000" stroke="#000" stroke-width="0.22" >12</text>
<line x1="23.50" y1="417.70" x2="26.00" y2="417.70" stroke="#333" stroke-width="0.8" />
<text x="23.50" y="420.10" font-size="6.8" text-anchor="end" font-weight="bold" fill="#000" stroke="#000" stroke-width="0.22" >0.00</text>
<line x1="23.50" y1="393.05" x2="26.00" y2="393.05" stroke="#333" stroke-width="0.8" />
<text x="23.50" y="395.45" font-size="6.8" text-anchor="end" font-weight="bold" fill="#000" stroke="#000" stroke-width="0.22" >0.05</text>
<line x1="23.50" y1="368.40" x2="26.00" y2="368.40" stroke="#333" stroke-width="0.8" />
<text x="23.50" y="370.80" font-size="6.8" text-anchor="end" font-weight="bold" fill="#000" stroke="#000" stroke-width="0.22" >0.10</text>
<line x1="23.50" y1="343.75" x2="26.00" y2="343.75" stroke="#333" stroke-width="0.8" />
<text x="23.50" y="346.15" font-size="6.8" text-anchor="end" font-weight="bold" fill="#000" stroke="#000" stroke-width="0.22" >0.15</text>
<line x1="23.50" y1="319.10" x2="26.00" y2="319.10" stroke="#333" stroke-width="0.8" />
<text x="23.50" y="321.50" font-size="6.8" text-anchor="end" font-weight="bold" fill="#000" stroke="#000" stroke-width="0.22" >0.20</text>
<text x="8.80" y="369.00" font-size="6.6" text-anchor="middle" font-weight="bold" fill="#000" stroke="#000" stroke-width="0.22" textLength="92.00" lengthAdjust="spacingAndGlyphs" transform="rotate(-90 8.80 369.00)" >CD8+T cells signature score</text>
<text x="34.8" y="436.4" font-size="6.6" font-weight="bold" stroke="#000" stroke-width="0.22" textLength="90.6" lengthAdjust="spacingAndGlyphs"><tspan font-style="italic">SMD1</tspan> expression log<tspan font-size="4.5" dy="1">2</tspan><tspan dy="-1">(RSEM)</tspan></text>
<path d="M88.5,406.5h1.7v1.7h-1.7zM80.2,416.9h1.7v1.7h-1.7zM117.5,392.8h1.7v1.7h-1.7zM108.0,367.8h1.7v1.7h-1.7zM65.1,382.4h1.7v1.7h-1.7zM93.7,370.5h1.7v1.7h-1.7zM85.8,393.6h1.7v1.7h-1.7zM108.2,369.0h1.7v1.7h-1.7zM131.0,387.4h1.7v1.7h-1.7zM102.6,343.6h1.7v1.7h-1.7zM66.8,322.7h1.7v1.7h-1.7zM84.4,389.1h1.7v1.7h-1.7zM82.6,373.5h1.7v1.7h-1.7zM105.9,379.0h1.7v1.7h-1.7zM120.5,385.6h1.7v1.7h-1.7zM76.7,354.6h1.7v1.7h-1.7zM81.1,364.9h1.7v1.7h-1.7zM90.3,408.9h1.7v1.7h-1.7zM94.8,395.3h1.7v1.7h-1.7zM96.5,382.1h1.7v1.7h-1.7zM103.1,386.0h1.7v1.7h-1.7zM133.6,402.8h1.7v1.7h-1.7zM75.4,365.2h1.7v1.7h-1.7zM116.3,370.5h1.7v1.7h-1.7zM93.8,384.9h1.7v1.7h-1.7zM105.6,372.8h1.7v1.7h-1.7zM106.3,390.3h1.7v1.7h-1.7zM61.0,382.1h1.7v1.7h-1.7zM93.9,376.7h1.7v1.7h-1.7zM65.0,416.9h1.7v1.7h-1.7zM115.0,386.7h1.7v1.7h-1.7zM92.5,362.5h1.7v1.7h-1.7zM70.1,374.0h1.7v1.7h-1.7zM94.8,383.9h1.7v1.7h-1.7zM95.9,388.6h1.7v1.7h-1.7zM117.2,391.8h1.7v1.7h-1.7zM107.1,374.5h1.7v1.7h-1.7zM99.7,392.7h1.7v1.7h-1.7zM129.6,387.7h1.7v1.7h-1.7zM53.3,368.1h1.7v1.7h-1.7zM73.8,377.2h1.7v1.7h-1.7zM102.1,372.1h1.7v1.7h-1.7zM122.2,394.1h1.7v1.7h-1.7zM85.8,375.4h1.7v1.7h-1.7zM98.4,410.8h1.7v1.7h-1.7zM98.1,406.6h1.7v1.7h-1.7zM72.9,399.3h1.7v1.7h-1.7zM85.7,391.7h1.7v1.7h-1.7zM94.1,403.7h1.7v1.7h-1.7zM117.7,392.6h1.7v1.7h-1.7zM115.5,384.0h1.7v1.7h-1.7zM79.8,393.7h1.7v1.7h-1.7zM68.8,398.3h1.7v1.7h-1.7zM70.0,396.5h1.7v1.7h-1.7zM67.6,355.5h1.7v1.7h-1.7zM78.4,381.0h1.7v1.7h-1.7zM111.4,390.9h1.7v1.7h-1.7zM84.2,403.1h1.7v1.7h-1.7zM95.3,400.6h1.7v1.7h-1.7zM65.7,367.9h1.7v1.7h-1.7zM69.4,395.3h1.7v1.7h-1.7zM101.9,370.1h1.7v1.7h-1.7zM96.2,360.9h1.7v1.7h-1.7zM112.2,380.6h1.7v1.7h-1.7zM100.5,380.4h1.7v1.7h-1.7zM95.8,373.7h1.7v1.7h-1.7zM71.2,375.3h1.7v1.7h-1.7zM77.8,385.0h1.7v1.7h-1.7zM112.7,384.8h1.7v1.7h-1.7zM81.9,376.2h1.7v1.7h-1.7zM86.5,378.0h1.7v1.7h-1.7zM111.2,374.6h1.7v1.7h-1.7zM46.1,391.9h1.7v1.7h-1.7zM58.2,363.5h1.7v1.7h-1.7zM82.7,374.3h1.7v1.7h-1.7zM43.9,388.0h1.7v1.7h-1.7zM64.1,390.2h1.7v1.7h-1.7zM97.6,382.4h1.7v1.7h-1.7zM82.0,385.2h1.7v1.7h-1.7zM105.4,392.5h1.7v1.7h-1.7zM92.8,370.0h1.7v1.7h-1.7zM32.4,333.4h1.7v1.7h-1.7zM66.4,387.3h1.7v1.7h-1.7zM55.3,375.2h1.7v1.7h-1.7zM113.6,386.6h1.7v1.7h-1.7zM80.2,378.7h1.7v1.7h-1.7zM74.7,374.7h1.7v1.7h-1.7zM91.8,383.6h1.7v1.7h-1.7zM83.3,347.1h1.7v1.7h-1.7zM90.8,370.1h1.7v1.7h-1.7zM107.0,384.8h1.7v1.7h-1.7zM61.8,373.5h1.7v1.7h-1.7zM89.9,388.4h1.7v1.7h-1.7zM82.6,363.3h1.7v1.7h-1.7zM83.2,363.4h1.7v1.7h-1.7zM69.0,359.8h1.7v1.7h-1.7zM105.2,381.2h1.7v1.7h-1.7zM126.7,402.0h1.7v1.7h-1.7zM125.0,384.5h1.7v1.7h-1.7zM62.3,387.2h1.7v1.7h-1.7zM46.4,370.8h1.7v1.7h-1.7zM59.8,358.9h1.7v1.7h-1.7zM79.5,353.8h1.7v1.7h-1.7zM106.3,402.7h1.7v1.7h-1.7zM82.4,355.8h1.7v1.7h-1.7zM104.1,363.7h1.7v1.7h-1.7zM72.3,378.3h1.7v1.7h-1.7zM58.9,389.8h1.7v1.7h-1.7zM95.0,355.8h1.7v1.7h-1.7zM88.0,383.7h1.7v1.7h-1.7zM127.1,378.8h1.7v1.7h-1.7zM60.2,404.5h1.7v1.7h-1.7zM101.4,374.2h1.7v1.7h-1.7zM106.8,359.3h1.7v1.7h-1.7zM105.2,366.7h1.7v1.7h-1.7zM105.6,375.0h1.7v1.7h-1.7zM114.9,378.6h1.7v1.7h-1.7zM98.1,387.9h1.7v1.7h-1.7zM79.6,361.8h1.7v1.7h-1.7zM108.3,389.4h1.7v1.7h-1.7zM86.6,388.5h1.7v1.7h-1.7zM46.3,375.5h1.7v1.7h-1.7zM79.0,387.2h1.7v1.7h-1.7zM89.4,357.4h1.7v1.7h-1.7zM100.1,375.1h1.7v1.7h-1.7zM89.3,390.1h1.7v1.7h-1.7zM85.6,385.6h1.7v1.7h-1.7zM99.0,378.7h1.7v1.7h-1.7zM93.3,352.6h1.7v1.7h-1.7zM74.4,356.0h1.7v1.7h-1.7zM89.3,385.9h1.7v1.7h-1.7zM119.3,392.3h1.7v1.7h-1.7zM130.5,362.1h1.7v1.7h-1.7zM95.1,389.2h1.7v1.7h-1.7zM81.4,371.6h1.7v1.7h-1.7zM76.3,387.8h1.7v1.7h-1.7zM115.1,364.9h1.7v1.7h-1.7zM97.5,396.8h1.7v1.7h-1.7zM47.0,377.7h1.7v1.7h-1.7zM89.1,395.4h1.7v1.7h-1.7zM103.5,381.4h1.7v1.7h-1.7zM108.0,394.6h1.7v1.7h-1.7zM112.9,384.9h1.7v1.7h-1.7zM62.6,393.0h1.7v1.7h-1.7zM99.7,378.0h1.7v1.7h-1.7zM76.4,369.1h1.7v1.7h-1.7zM96.6,368.4h1.7v1.7h-1.7zM99.0,372.7h1.7v1.7h-1.7zM85.2,380.1h1.7v1.7h-1.7zM39.5,334.9h1.7v1.7h-1.7zM79.9,394.0h1.7v1.7h-1.7zM114.8,363.0h1.7v1.7h-1.7zM75.5,399.5h1.7v1.7h-1.7zM91.7,378.5h1.7v1.7h-1.7zM108.2,377.3h1.7v1.7h-1.7zM68.3,363.4h1.7v1.7h-1.7zM83.6,357.5h1.7v1.7h-1.7zM98.0,373.5h1.7v1.7h-1.7zM117.2,393.1h1.7v1.7h-1.7zM92.6,381.9h1.7v1.7h-1.7zM94.1,396.4h1.7v1.7h-1.7zM32.5,385.1h1.7v1.7h-1.7zM85.1,375.4h1.7v1.7h-1.7zM109.1,394.2h1.7v1.7h-1.7zM103.9,378.0h1.7v1.7h-1.7zM84.7,377.4h1.7v1.7h-1.7zM76.0,372.3h1.7v1.7h-1.7zM70.0,378.9h1.7v1.7h-1.7zM105.4,377.4h1.7v1.7h-1.7zM46.6,382.8h1.7v1.7h-1.7zM99.0,390.5h1.7v1.7h-1.7zM67.9,381.8h1.7v1.7h-1.7zM70.2,364.1h1.7v1.7h-1.7zM105.0,390.0h1.7v1.7h-1.7zM96.9,391.4h1.7v1.7h-1.7zM87.1,375.1h1.7v1.7h-1.7zM97.7,393.7h1.7v1.7h-1.7zM103.4,378.1h1.7v1.7h-1.7zM66.6,369.4h1.7v1.7h-1.7zM119.2,377.5h1.7v1.7h-1.7zM95.4,371.0h1.7v1.7h-1.7zM107.4,375.4h1.7v1.7h-1.7zM90.7,399.6h1.7v1.7h-1.7zM57.5,407.0h1.7v1.7h-1.7zM55.8,366.5h1.7v1.7h-1.7zM121.4,392.7h1.7v1.7h-1.7zM86.3,354.7h1.7v1.7h-1.7zM95.4,378.3h1.7v1.7h-1.7zM87.9,359.6h1.7v1.7h-1.7zM121.7,376.9h1.7v1.7h-1.7zM96.7,381.5h1.7v1.7h-1.7zM65.5,355.2h1.7v1.7h-1.7zM68.8,388.3h1.7v1.7h-1.7zM78.7,369.7h1.7v1.7h-1.7zM57.9,389.7h1.7v1.7h-1.7zM110.7,374.6h1.7v1.7h-1.7zM84.8,395.5h1.7v1.7h-1.7zM88.1,391.7h1.7v1.7h-1.7zM109.5,392.5h1.7v1.7h-1.7zM58.3,367.5h1.7v1.7h-1.7zM119.6,370.1h1.7v1.7h-1.7zM70.0,385.7h1.7v1.7h-1.7zM69.0,368.3h1.7v1.7h-1.7zM98.1,365.0h1.7v1.7h-1.7zM90.4,392.0h1.7v1.7h-1.7zM91.0,340.8h1.7v1.7h-1.7zM106.7,400.0h1.7v1.7h-1.7zM113.9,363.9h1.7v1.7h-1.7zM102.2,381.2h1.7v1.7h-1.7zM81.6,410.0h1.7v1.7h-1.7zM95.5,394.2h1.7v1.7h-1.7zM108.6,399.4h1.7v1.7h-1.7zM88.3,379.6h1.7v1.7h-1.7zM79.4,384.3h1.7v1.7h-1.7zM88.4,378.0h1.7v1.7h-1.7zM73.4,367.7h1.7v1.7h-1.7zM44.4,350.0h1.7v1.7h-1.7zM117.7,395.8h1.7v1.7h-1.7zM55.3,381.6h1.7v1.7h-1.7zM65.1,389.3h1.7v1.7h-1.7zM88.6,375.4h1.7v1.7h-1.7zM74.0,363.9h1.7v1.7h-1.7zM86.5,392.7h1.7v1.7h-1.7zM77.4,344.5h1.7v1.7h-1.7zM91.0,402.7h1.7v1.7h-1.7zM118.2,406.1h1.7v1.7h-1.7zM88.4,400.6h1.7v1.7h-1.7zM47.9,377.8h1.7v1.7h-1.7zM115.2,388.1h1.7v1.7h-1.7zM110.3,384.2h1.7v1.7h-1.7zM65.7,402.6h1.7v1.7h-1.7zM63.3,391.4h1.7v1.7h-1.7zM80.8,396.6h1.7v1.7h-1.7zM60.9,355.4h1.7v1.7h-1.7zM84.9,369.9h1.7v1.7h-1.7zM100.0,388.1h1.7v1.7h-1.7zM91.8,391.7h1.7v1.7h-1.7zM55.7,386.7h1.7v1.7h-1.7zM80.2,402.5h1.7v1.7h-1.7zM47.5,380.1h1.7v1.7h-1.7zM85.1,361.4h1.7v1.7h-1.7zM86.9,375.7h1.7v1.7h-1.7zM65.1,384.8h1.7v1.7h-1.7zM100.2,365.0h1.7v1.7h-1.7zM78.4,400.9h1.7v1.7h-1.7zM52.4,372.7h1.7v1.7h-1.7zM61.5,337.5h1.7v1.7h-1.7zM103.3,388.0h1.7v1.7h-1.7zM102.7,397.0h1.7v1.7h-1.7zM94.4,374.1h1.7v1.7h-1.7zM106.4,367.7h1.7v1.7h-1.7zM92.0,404.9h1.7v1.7h-1.7zM100.8,404.3h1.7v1.7h-1.7zM121.9,394.6h1.7v1.7h-1.7zM94.6,375.7h1.7v1.7h-1.7zM95.6,368.8h1.7v1.7h-1.7zM76.3,400.5h1.7v1.7h-1.7zM69.7,367.8h1.7v1.7h-1.7zM110.3,371.5h1.7v1.7h-1.7zM80.8,395.1h1.7v1.7h-1.7zM94.4,384.9h1.7v1.7h-1.7zM87.3,392.6h1.7v1.7h-1.7zM71.7,376.6h1.7v1.7h-1.7zM107.5,390.9h1.7v1.7h-1.7zM59.3,376.2h1.7v1.7h-1.7zM75.4,384.4h1.7v1.7h-1.7zM104.4,397.7h1.7v1.7h-1.7zM77.3,374.2h1.7v1.7h-1.7zM104.6,378.5h1.7v1.7h-1.7zM32.9,366.4h1.7v1.7h-1.7zM55.0,353.9h1.7v1.7h-1.7zM67.7,357.2h1.7v1.7h-1.7zM92.2,395.1h1.7v1.7h-1.7zM90.2,365.5h1.7v1.7h-1.7zM83.7,380.8h1.7v1.7h-1.7zM111.7,387.2h1.7v1.7h-1.7zM104.3,377.6h1.7v1.7h-1.7zM71.4,402.7h1.7v1.7h-1.7zM63.1,361.5h1.7v1.7h-1.7zM54.3,392.7h1.7v1.7h-1.7zM86.8,383.7h1.7v1.7h-1.7zM92.9,396.4h1.7v1.7h-1.7zM86.5,416.9h1.7v1.7h-1.7zM42.9,355.9h1.7v1.7h-1.7zM90.3,358.6h1.7v1.7h-1.7zM74.1,376.5h1.7v1.7h-1.7zM99.1,376.6h1.7v1.7h-1.7zM107.9,377.8h1.7v1.7h-1.7zM98.1,392.2h1.7v1.7h-1.7zM94.1,349.9h1.7v1.7h-1.7zM101.7,380.4h1.7v1.7h-1.7zM86.8,357.0h1.7v1.7h-1.7zM92.1,389.7h1.7v1.7h-1.7zM121.2,389.7h1.7v1.7h-1.7zM112.4,371.6h1.7v1.7h-1.7zM74.8,366.9h1.7v1.7h-1.7zM104.9,385.9h1.7v1.7h-1.7zM88.3,363.1h1.7v1.7h-1.7zM105.7,371.6h1.7v1.7h-1.7zM124.7,385.5h1.7v1.7h-1.7zM62.8,377.5h1.7v1.7h-1.7zM112.5,379.0h1.7v1.7h-1.7zM76.4,370.4h1.7v1.7h-1.7zM83.8,365.4h1.7v1.7h-1.7zM107.5,390.3h1.7v1.7h-1.7zM79.5,412.4h1.7v1.7h-1.7zM107.8,385.5h1.7v1.7h-1.7zM97.7,384.9h1.7v1.7h-1.7zM88.2,398.5h1.7v1.7h-1.7zM105.4,389.2h1.7v1.7h-1.7zM95.6,389.0h1.7v1.7h-1.7zM64.4,376.6h1.7v1.7h-1.7zM83.6,378.8h1.7v1.7h-1.7zM84.2,373.7h1.7v1.7h-1.7zM82.3,362.3h1.7v1.7h-1.7zM89.5,392.3h1.7v1.7h-1.7zM76.3,389.2h1.7v1.7h-1.7zM90.7,370.2h1.7v1.7h-1.7zM29.0,353.8h1.7v1.7h-1.7zM94.6,378.5h1.7v1.7h-1.7zM87.7,381.7h1.7v1.7h-1.7zM100.8,397.9h1.7v1.7h-1.7zM120.3,378.8h1.7v1.7h-1.7zM85.3,399.9h1.7v1.7h-1.7zM99.0,348.4h1.7v1.7h-1.7zM118.4,377.3h1.7v1.7h-1.7zM110.7,378.1h1.7v1.7h-1.7zM115.3,399.6h1.7v1.7h-1.7zM66.3,399.1h1.7v1.7h-1.7zM90.8,392.5h1.7v1.7h-1.7zM124.1,386.4h1.7v1.7h-1.7zM108.7,393.5h1.7v1.7h-1.7zM93.6,370.9h1.7v1.7h-1.7zM87.5,371.7h1.7v1.7h-1.7zM108.9,377.1h1.7v1.7h-1.7zM83.1,387.4h1.7v1.7h-1.7zM59.8,375.3h1.7v1.7h-1.7zM50.7,389.1h1.7v1.7h-1.7zM87.7,364.3h1.7v1.7h-1.7zM111.0,395.3h1.7v1.7h-1.7zM59.6,364.3h1.7v1.7h-1.7zM87.7,374.3h1.7v1.7h-1.7zM64.0,353.7h1.7v1.7h-1.7zM70.6,393.1h1.7v1.7h-1.7zM119.8,360.6h1.7v1.7h-1.7zM113.0,372.7h1.7v1.7h-1.7zM84.8,382.7h1.7v1.7h-1.7zM54.6,354.7h1.7v1.7h-1.7zM88.9,366.5h1.7v1.7h-1.7zM96.4,379.3h1.7v1.7h-1.7zM56.0,360.5h1.7v1.7h-1.7zM86.3,372.1h1.7v1.7h-1.7zM77.9,374.2h1.7v1.7h-1.7zM75.1,383.6h1.7v1.7h-1.7zM43.8,376.4h1.7v1.7h-1.7zM71.5,376.2h1.7v1.7h-1.7zM109.0,372.6h1.7v1.7h-1.7zM115.4,386.7h1.7v1.7h-1.7zM86.8,362.9h1.7v1.7h-1.7zM67.0,371.0h1.7v1.7h-1.7zM107.5,390.9h1.7v1.7h-1.7zM105.9,390.0h1.7v1.7h-1.7zM79.5,381.0h1.7v1.7h-1.7zM111.2,390.6h1.7v1.7h-1.7zM113.1,394.2h1.7v1.7h-1.7zM83.3,357.1h1.7v1.7h-1.7zM57.1,371.6h1.7v1.7h-1.7zM99.3,375.6h1.7v1.7h-1.7zM89.1,387.7h1.7v1.7h-1.7zM95.5,372.2h1.7v1.7h-1.7zM64.0,370.6h1.7v1.7h-1.7zM106.7,354.5h1.7v1.7h-1.7zM76.9,384.5h1.7v1.7h-1.7zM120.6,378.7h1.7v1.7h-1.7zM91.9,394.5h1.7v1.7h-1.7zM75.4,391.7h1.7v1.7h-1.7zM104.1,392.3h1.7v1.7h-1.7zM98.0,387.9h1.7v1.7h-1.7zM43.1,353.9h1.7v1.7h-1.7zM71.4,398.2h1.7v1.7h-1.7zM108.1,400.9h1.7v1.7h-1.7zM106.1,402.1h1.7v1.7h-1.7zM87.6,397.7h1.7v1.7h-1.7zM63.4,393.8h1.7v1.7h-1.7zM89.3,381.1h1.7v1.7h-1.7zM95.5,409.1h1.7v1.7h-1.7zM68.0,381.4h1.7v1.7h-1.7zM106.3,346.9h1.7v1.7h-1.7zM88.1,339.4h1.7v1.7h-1.7zM68.7,364.3h1.7v1.7h-1.7zM89.9,379.2h1.7v1.7h-1.7zM61.5,388.3h1.7v1.7h-1.7zM74.6,374.0h1.7v1.7h-1.7zM71.5,364.5h1.7v1.7h-1.7zM61.6,369.3h1.7v1.7h-1.7zM87.8,353.6h1.7v1.7h-1.7zM93.5,381.0h1.7v1.7h-1.7zM107.8,374.3h1.7v1.7h-1.7zM97.8,397.9h1.7v1.7h-1.7zM125.6,383.0h1.7v1.7h-1.7zM63.1,396.0h1.7v1.7h-1.7zM82.0,407.3h1.7v1.7h-1.7zM131.7,384.1h1.7v1.7h-1.7zM87.3,373.0h1.7v1.7h-1.7zM105.9,375.7h1.7v1.7h-1.7zM90.6,380.2h1.7v1.7h-1.7zM80.3,357.8h1.7v1.7h-1.7zM115.3,354.7h1.7v1.7h-1.7zM76.9,393.6h1.7v1.7h-1.7zM70.7,373.8h1.7v1.7h-1.7zM57.4,369.4h1.7v1.7h-1.7zM109.8,401.1h1.7v1.7h-1.7zM121.1,409.4h1.7v1.7h-1.7zM64.9,366.7h1.7v1.7h-1.7zM113.8,400.2h1.7v1.7h-1.7zM96.8,370.5h1.7v1.7h-1.7zM76.1,401.4h1.7v1.7h-1.7zM52.7,381.1h1.7v1.7h-1.7zM113.0,374.0h1.7v1.7h-1.7zM100.6,373.7h1.7v1.7h-1.7zM102.9,371.2h1.7v1.7h-1.7zM115.7,384.7h1.7v1.7h-1.7zM96.7,399.4h1.7v1.7h-1.7zM98.2,376.5h1.7v1.7h-1.7zM115.7,378.4h1.7v1.7h-1.7zM54.5,372.0h1.7v1.7h-1.7zM114.3,394.7h1.7v1.7h-1.7zM100.4,369.7h1.7v1.7h-1.7zM96.7,391.6h1.7v1.7h-1.7zM93.5,386.8h1.7v1.7h-1.7zM96.0,361.5h1.7v1.7h-1.7zM117.3,372.7h1.7v1.7h-1.7zM73.3,353.2h1.7v1.7h-1.7zM79.3,359.6h1.7v1.7h-1.7zM82.1,380.7h1.7v1.7h-1.7zM115.0,395.5h1.7v1.7h-1.7zM67.8,379.1h1.7v1.7h-1.7zM99.8,373.4h1.7v1.7h-1.7zM117.4,376.4h1.7v1.7h-1.7zM88.1,374.9h1.7v1.7h-1.7zM105.5,388.7h1.7v1.7h-1.7zM63.0,348.6h1.7v1.7h-1.7zM82.8,371.9h1.7v1.7h-1.7zM81.5,378.4h1.7v1.7h-1.7zM64.2,347.4h1.7v1.7h-1.7zM95.1,385.7h1.7v1.7h-1.7zM86.8,369.8h1.7v1.7h-1.7zM71.8,378.6h1.7v1.7h-1.7zM105.1,399.0h1.7v1.7h-1.7zM75.0,395.4h1.7v1.7h-1.7zM80.8,376.4h1.7v1.7h-1.7zM102.8,391.7h1.7v1.7h-1.7zM69.0,389.5h1.7v1.7h-1.7zM59.5,368.7h1.7v1.7h-1.7zM116.4,370.3h1.7v1.7h-1.7zM94.7,378.3h1.7v1.7h-1.7zM84.0,359.9h1.7v1.7h-1.7zM78.9,377.2h1.7v1.7h-1.7zM82.0,396.0h1.7v1.7h-1.7zM105.4,409.6h1.7v1.7h-1.7zM100.4,368.4h1.7v1.7h-1.7zM83.4,385.1h1.7v1.7h-1.7zM50.7,346.8h1.7v1.7h-1.7zM110.1,392.5h1.7v1.7h-1.7zM99.0,382.9h1.7v1.7h-1.7zM87.2,396.5h1.7v1.7h-1.7zM99.9,369.8h1.7v1.7h-1.7zM66.7,367.7h1.7v1.7h-1.7zM64.8,369.7h1.7v1.7h-1.7zM89.1,377.4h1.7v1.7h-1.7zM82.2,389.0h1.7v1.7h-1.7zM69.6,386.3h1.7v1.7h-1.7zM88.5,399.7h1.7v1.7h-1.7zM81.2,385.4h1.7v1.7h-1.7zM115.7,378.0h1.7v1.7h-1.7zM84.3,381.1h1.7v1.7h-1.7zM125.6,388.6h1.7v1.7h-1.7zM85.4,379.5h1.7v1.7h-1.7zM111.0,346.1h1.7v1.7h-1.7zM90.4,376.1h1.7v1.7h-1.7zM123.3,387.2h1.7v1.7h-1.7zM109.2,416.9h1.7v1.7h-1.7zM89.4,376.0h1.7v1.7h-1.7zM85.9,397.0h1.7v1.7h-1.7zM77.2,353.0h1.7v1.7h-1.7zM78.4,415.1h1.7v1.7h-1.7zM58.5,384.0h1.7v1.7h-1.7zM89.2,377.3h1.7v1.7h-1.7zM80.5,377.9h1.7v1.7h-1.7zM90.7,367.7h1.7v1.7h-1.7zM31.2,368.5h1.7v1.7h-1.7zM75.5,385.9h1.7v1.7h-1.7zM78.7,361.0h1.7v1.7h-1.7zM90.1,399.2h1.7v1.7h-1.7zM116.9,384.5h1.7v1.7h-1.7zM107.3,383.6h1.7v1.7h-1.7zM98.6,362.3h1.7v1.7h-1.7zM83.9,357.6h1.7v1.7h-1.7zM99.2,386.1h1.7v1.7h-1.7zM81.2,402.2h1.7v1.7h-1.7zM109.9,399.0h1.7v1.7h-1.7zM101.7,378.7h1.7v1.7h-1.7zM81.7,381.8h1.7v1.7h-1.7zM77.3,365.9h1.7v1.7h-1.7zM99.3,393.0h1.7v1.7h-1.7zM67.2,390.5h1.7v1.7h-1.7zM86.2,364.8h1.7v1.7h-1.7zM83.7,386.3h1.7v1.7h-1.7zM78.1,382.9h1.7v1.7h-1.7zM94.0,383.2h1.7v1.7h-1.7zM88.9,377.7h1.7v1.7h-1.7zM101.0,370.7h1.7v1.7h-1.7zM107.0,374.1h1.7v1.7h-1.7zM87.4,382.9h1.7v1.7h-1.7zM82.1,350.2h1.7v1.7h-1.7zM89.2,364.8h1.7v1.7h-1.7zM107.9,367.0h1.7v1.7h-1.7zM65.7,374.9h1.7v1.7h-1.7zM116.9,390.9h1.7v1.7h-1.7zM60.8,377.3h1.7v1.7h-1.7zM82.6,392.6h1.7v1.7h-1.7zM67.8,391.8h1.7v1.7h-1.7zM72.7,412.2h1.7v1.7h-1.7zM93.7,362.3h1.7v1.7h-1.7zM121.5,377.3h1.7v1.7h-1.7zM65.9,376.6h1.7v1.7h-1.7zM92.5,397.7h1.7v1.7h-1.7zM50.4,365.0h1.7v1.7h-1.7zM64.5,345.8h1.7v1.7h-1.7zM126.0,367.5h1.7v1.7h-1.7zM56.0,382.1h1.7v1.7h-1.7zM103.7,363.0h1.7v1.7h-1.7zM74.3,413.0h1.7v1.7h-1.7zM93.8,386.5h1.7v1.7h-1.7zM131.8,405.8h1.7v1.7h-1.7zM73.1,357.4h1.7v1.7h-1.7zM76.2,396.8h1.7v1.7h-1.7zM76.2,394.4h1.7v1.7h-1.7zM107.3,387.2h1.7v1.7h-1.7zM102.9,380.9h1.7v1.7h-1.7zM80.2,361.3h1.7v1.7h-1.7zM91.9,360.4h1.7v1.7h-1.7zM108.5,394.1h1.7v1.7h-1.7zM89.2,367.6h1.7v1.7h-1.7zM98.7,377.1h1.7v1.7h-1.7zM95.9,416.1h1.7v1.7h-1.7zM90.3,369.4h1.7v1.7h-1.7zM80.4,378.8h1.7v1.7h-1.7zM89.0,373.2h1.7v1.7h-1.7zM107.4,374.6h1.7v1.7h-1.7zM51.0,382.8h1.7v1.7h-1.7zM96.0,383.6h1.7v1.7h-1.7zM82.3,379.3h1.7v1.7h-1.7zM122.1,387.9h1.7v1.7h-1.7zM91.2,383.0h1.7v1.7h-1.7zM47.4,367.8h1.7v1.7h-1.7zM133.0,335.1h1.7v1.7h-1.7zM87.5,375.3h1.7v1.7h-1.7zM68.5,379.9h1.7v1.7h-1.7zM111.9,390.0h1.7v1.7h-1.7zM92.9,392.3h1.7v1.7h-1.7zM102.1,376.8h1.7v1.7h-1.7zM59.6,395.1h1.7v1.7h-1.7zM78.9,394.8h1.7v1.7h-1.7zM93.3,379.0h1.7v1.7h-1.7zM87.9,379.8h1.7v1.7h-1.7zM82.7,371.2h1.7v1.7h-1.7zM76.6,378.7h1.7v1.7h-1.7zM73.8,377.8h1.7v1.7h-1.7zM110.7,396.5h1.7v1.7h-1.7zM88.9,385.4h1.7v1.7h-1.7zM122.2,399.1h1.7v1.7h-1.7zM56.2,363.7h1.7v1.7h-1.7zM94.1,371.8h1.7v1.7h-1.7zM77.8,380.6h1.7v1.7h-1.7zM124.5,405.5h1.7v1.7h-1.7zM92.6,389.2h1.7v1.7h-1.7zM105.5,402.8h1.7v1.7h-1.7zM61.3,317.2h1.7v1.7h-1.7zM124.3,399.2h1.7v1.7h-1.7zM82.6,388.7h1.7v1.7h-1.7zM65.8,403.4h1.7v1.7h-1.7zM108.3,381.0h1.7v1.7h-1.7zM97.1,373.4h1.7v1.7h-1.7zM79.3,371.5h1.7v1.7h-1.7zM115.9,391.6h1.7v1.7h-1.7zM94.9,383.5h1.7v1.7h-1.7zM99.5,374.5h1.7v1.7h-1.7zM90.8,401.2h1.7v1.7h-1.7zM86.6,395.6h1.7v1.7h-1.7zM92.2,374.8h1.7v1.7h-1.7zM76.5,373.1h1.7v1.7h-1.7zM78.1,379.0h1.7v1.7h-1.7zM92.0,384.6h1.7v1.7h-1.7zM95.5,362.1h1.7v1.7h-1.7zM85.3,368.9h1.7v1.7h-1.7zM67.1,378.0h1.7v1.7h-1.7zM42.4,367.9h1.7v1.7h-1.7zM102.3,415.1h1.7v1.7h-1.7zM60.3,390.0h1.7v1.7h-1.7zM97.6,368.6h1.7v1.7h-1.7zM120.7,383.2h1.7v1.7h-1.7zM90.2,378.0h1.7v1.7h-1.7zM81.4,391.8h1.7v1.7h-1.7zM70.7,406.1h1.7v1.7h-1.7zM101.9,341.0h1.7v1.7h-1.7zM65.1,387.3h1.7v1.7h-1.7zM111.4,397.3h1.7v1.7h-1.7zM114.8,364.5h1.7v1.7h-1.7zM66.2,393.3h1.7v1.7h-1.7zM88.6,368.3h1.7v1.7h-1.7zM66.9,398.6h1.7v1.7h-1.7zM81.6,389.2h1.7v1.7h-1.7zM110.8,372.6h1.7v1.7h-1.7zM118.0,388.5h1.7v1.7h-1.7zM116.8,387.7h1.7v1.7h-1.7zM71.3,375.8h1.7v1.7h-1.7zM81.2,383.2h1.7v1.7h-1.7zM38.5,379.2h1.7v1.7h-1.7zM68.0,387.7h1.7v1.7h-1.7zM112.5,367.9h1.7v1.7h-1.7zM115.8,366.3h1.7v1.7h-1.7zM92.1,395.7h1.7v1.7h-1.7zM91.2,391.4h1.7v1.7h-1.7zM85.0,391.3h1.7v1.7h-1.7zM60.4,390.2h1.7v1.7h-1.7zM104.7,384.6h1.7v1.7h-1.7zM66.0,370.0h1.7v1.7h-1.7zM93.4,363.9h1.7v1.7h-1.7zM113.3,395.4h1.7v1.7h-1.7zM73.9,395.1h1.7v1.7h-1.7zM87.2,359.3h1.7v1.7h-1.7zM102.2,381.2h1.7v1.7h-1.7zM78.9,398.8h1.7v1.7h-1.7zM97.6,394.1h1.7v1.7h-1.7zM90.6,402.9h1.7v1.7h-1.7zM93.9,384.0h1.7v1.7h-1.7zM116.3,408.3h1.7v1.7h-1.7zM99.1,399.2h1.7v1.7h-1.7zM64.7,348.4h1.7v1.7h-1.7zM108.6,385.0h1.7v1.7h-1.7zM111.9,369.4h1.7v1.7h-1.7zM96.9,388.9h1.7v1.7h-1.7zM112.7,390.1h1.7v1.7h-1.7zM81.9,371.2h1.7v1.7h-1.7zM103.4,384.4h1.7v1.7h-1.7zM115.5,407.8h1.7v1.7h-1.7zM85.0,411.3h1.7v1.7h-1.7zM95.5,362.9h1.7v1.7h-1.7zM70.9,385.1h1.7v1.7h-1.7zM86.0,383.9h1.7v1.7h-1.7zM79.4,371.8h1.7v1.7h-1.7zM113.3,376.8h1.7v1.7h-1.7zM79.5,362.4h1.7v1.7h-1.7zM96.7,400.5h1.7v1.7h-1.7zM55.9,386.3h1.7v1.7h-1.7zM120.7,367.3h1.7v1.7h-1.7zM132.8,386.5h1.7v1.7h-1.7zM109.6,401.8h1.7v1.7h-1.7zM116.1,369.5h1.7v1.7h-1.7zM74.7,376.7h1.7v1.7h-1.7zM110.9,390.8h1.7v1.7h-1.7zM101.0,361.2h1.7v1.7h-1.7zM60.3,373.0h1.7v1.7h-1.7zM79.1,384.9h1.7v1.7h-1.7zM70.0,382.4h1.7v1.7h-1.7zM122.9,347.8h1.7v1.7h-1.7zM85.1,374.8h1.7v1.7h-1.7zM109.2,385.9h1.7v1.7h-1.7zM120.9,389.4h1.7v1.7h-1.7zM79.3,376.0h1.7v1.7h-1.7zM84.2,372.9h1.7v1.7h-1.7zM73.9,380.4h1.7v1.7h-1.7zM96.5,376.8h1.7v1.7h-1.7zM112.1,376.9h1.7v1.7h-1.7zM92.5,392.8h1.7v1.7h-1.7zM110.8,391.5h1.7v1.7h-1.7zM50.3,368.8h1.7v1.7h-1.7zM91.2,395.1h1.7v1.7h-1.7zM76.4,401.8h1.7v1.7h-1.7zM87.9,366.2h1.7v1.7h-1.7zM88.5,381.8h1.7v1.7h-1.7zM129.1,409.6h1.7v1.7h-1.7zM79.7,397.6h1.7v1.7h-1.7zM92.0,405.4h1.7v1.7h-1.7zM113.9,391.8h1.7v1.7h-1.7zM79.8,359.9h1.7v1.7h-1.7zM92.2,383.6h1.7v1.7h-1.7zM70.4,355.5h1.7v1.7h-1.7zM89.9,374.7h1.7v1.7h-1.7zM98.1,376.8h1.7v1.7h-1.7zM94.6,373.9h1.7v1.7h-1.7zM116.2,365.6h1.7v1.7h-1.7zM113.6,401.0h1.7v1.7h-1.7zM88.0,366.1h1.7v1.7h-1.7zM55.9,356.1h1.7v1.7h-1.7zM98.9,401.9h1.7v1.7h-1.7zM96.8,364.1h1.7v1.7h-1.7zM91.9,370.8h1.7v1.7h-1.7zM70.1,374.3h1.7v1.7h-1.7zM66.7,388.8h1.7v1.7h-1.7zM78.5,379.9h1.7v1.7h-1.7zM117.3,377.3h1.7v1.7h-1.7zM114.5,402.9h1.7v1.7h-1.7zM66.6,384.3h1.7v1.7h-1.7zM67.5,381.9h1.7v1.7h-1.7zM54.6,366.1h1.7v1.7h-1.7zM83.3,370.9h1.7v1.7h-1.7zM74.4,382.7h1.7v1.7h-1.7zM66.8,366.5h1.7v1.7h-1.7zM60.0,356.8h1.7v1.7h-1.7zM82.9,389.4h1.7v1.7h-1.7zM100.3,386.7h1.7v1.7h-1.7zM88.8,364.5h1.7v1.7h-1.7zM91.2,372.6h1.7v1.7h-1.7zM99.3,379.8h1.7v1.7h-1.7zM81.2,373.1h1.7v1.7h-1.7zM103.9,384.6h1.7v1.7h-1.7zM34.6,342.3h1.7v1.7h-1.7zM113.7,398.0h1.7v1.7h-1.7zM61.0,368.7h1.7v1.7h-1.7zM78.3,385.9h1.7v1.7h-1.7zM125.3,388.6h1.7v1.7h-1.7zM64.0,369.7h1.7v1.7h-1.7zM73.2,378.6h1.7v1.7h-1.7zM120.5,392.7h1.7v1.7h-1.7zM92.1,373.2h1.7v1.7h-1.7zM70.2,371.2h1.7v1.7h-1.7zM93.2,406.6h1.7v1.7h-1.7zM69.2,370.9h1.7v1.7h-1.7zM72.9,375.8h1.7v1.7h-1.7zM125.4,392.9h1.7v1.7h-1.7zM72.6,401.8h1.7v1.7h-1.7zM126.9,408.9h1.7v1.7h-1.7zM76.5,389.0h1.7v1.7h-1.7zM52.4,383.8h1.7v1.7h-1.7zM101.9,390.1h1.7v1.7h-1.7zM80.4,374.1h1.7v1.7h-1.7zM77.6,384.1h1.7v1.7h-1.7zM42.5,372.0h1.7v1.7h-1.7zM68.0,353.2h1.7v1.7h-1.7zM84.9,363.2h1.7v1.7h-1.7zM77.1,395.7h1.7v1.7h-1.7zM75.9,388.1h1.7v1.7h-1.7zM65.4,359.9h1.7v1.7h-1.7zM97.9,393.3h1.7v1.7h-1.7zM85.4,374.0h1.7v1.7h-1.7zM113.2,385.6h1.7v1.7h-1.7zM119.2,404.8h1.7v1.7h-1.7zM82.3,364.3h1.7v1.7h-1.7zM95.3,368.1h1.7v1.7h-1.7zM107.2,368.6h1.7v1.7h-1.7zM85.1,356.6h1.7v1.7h-1.7zM104.7,394.6h1.7v1.7h-1.7zM90.5,403.6h1.7v1.7h-1.7zM84.0,373.5h1.7v1.7h-1.7zM95.6,383.2h1.7v1.7h-1.7zM82.4,365.7h1.7v1.7h-1.7zM90.4,372.2h1.7v1.7h-1.7zM73.1,359.1h1.7v1.7h-1.7zM75.7,392.6h1.7v1.7h-1.7zM85.5,378.3h1.7v1.7h-1.7zM82.8,390.1h1.7v1.7h-1.7zM95.3,398.8h1.7v1.7h-1.7zM90.4,389.4h1.7v1.7h-1.7zM93.6,374.4h1.7v1.7h-1.7zM97.1,393.5h1.7v1.7h-1.7zM88.7,392.9h1.7v1.7h-1.7zM100.9,383.4h1.7v1.7h-1.7zM79.0,376.2h1.7v1.7h-1.7zM35.8,391.1h1.7v1.7h-1.7zM40.2,373.1h1.7v1.7h-1.7zM96.4,354.4h1.7v1.7h-1.7zM90.5,399.0h1.7v1.7h-1.7zM69.6,349.1h1.7v1.7h-1.7zM118.5,381.7h1.7v1.7h-1.7zM61.4,395.1h1.7v1.7h-1.7zM71.4,392.8h1.7v1.7h-1.7zM124.7,403.8h1.7v1.7h-1.7zM85.4,403.0h1.7v1.7h-1.7zM74.6,378.2h1.7v1.7h-1.7zM104.2,386.7h1.7v1.7h-1.7zM100.6,395.5h1.7v1.7h-1.7zM103.1,364.9h1.7v1.7h-1.7zM73.7,363.4h1.7v1.7h-1.7zM71.2,399.2h1.7v1.7h-1.7zM66.1,384.7h1.7v1.7h-1.7zM88.2,366.5h1.7v1.7h-1.7zM62.0,385.2h1.7v1.7h-1.7zM64.7,394.8h1.7v1.7h-1.7zM102.3,401.9h1.7v1.7h-1.7zM84.8,391.2h1.7v1.7h-1.7zM65.5,384.3h1.7v1.7h-1.7zM131.5,408.2h1.7v1.7h-1.7zM81.7,357.9h1.7v1.7h-1.7zM72.6,382.3h1.7v1.7h-1.7zM88.4,375.7h1.7v1.7h-1.7zM91.3,372.6h1.7v1.7h-1.7zM93.3,379.7h1.7v1.7h-1.7zM105.8,373.4h1.7v1.7h-1.7zM113.9,378.9h1.7v1.7h-1.7zM80.8,358.3h1.7v1.7h-1.7zM99.3,369.6h1.7v1.7h-1.7zM78.7,369.3h1.7v1.7h-1.7zM102.6,393.1h1.7v1.7h-1.7zM116.2,393.0h1.7v1.7h-1.7zM72.6,377.0h1.7v1.7h-1.7zM49.2,400.7h1.7v1.7h-1.7zM53.8,376.9h1.7v1.7h-1.7zM100.8,363.0h1.7v1.7h-1.7zM95.0,368.3h1.7v1.7h-1.7zM108.9,381.5h1.7v1.7h-1.7zM57.5,377.4h1.7v1.7h-1.7zM82.8,396.1h1.7v1.7h-1.7zM76.2,384.7h1.7v1.7h-1.7zM62.5,366.6h1.7v1.7h-1.7zM81.8,387.2h1.7v1.7h-1.7zM86.8,380.6h1.7v1.7h-1.7zM57.2,370.1h1.7v1.7h-1.7zM110.6,406.0h1.7v1.7h-1.7zM89.6,369.2h1.7v1.7h-1.7zM93.8,390.8h1.7v1.7h-1.7zM118.6,361.9h1.7v1.7h-1.7zM92.8,362.6h1.7v1.7h-1.7zM116.0,380.9h1.7v1.7h-1.7zM67.6,383.5h1.7v1.7h-1.7zM107.9,409.6h1.7v1.7h-1.7zM112.2,380.6h1.7v1.7h-1.7zM75.3,391.3h1.7v1.7h-1.7zM106.6,404.0h1.7v1.7h-1.7zM74.3,358.8h1.7v1.7h-1.7zM98.2,354.3h1.7v1.7h-1.7zM77.3,381.1h1.7v1.7h-1.7zM57.7,372.3h1.7v1.7h-1.7zM63.9,379.4h1.7v1.7h-1.7zM93.1,356.2h1.7v1.7h-1.7zM91.3,380.2h1.7v1.7h-1.7zM109.2,376.9h1.7v1.7h-1.7zM92.3,357.0h1.7v1.7h-1.7zM102.0,387.6h1.7v1.7h-1.7zM64.7,393.8h1.7v1.7h-1.7zM98.1,369.6h1.7v1.7h-1.7zM118.8,390.1h1.7v1.7h-1.7zM101.0,396.1h1.7v1.7h-1.7zM106.5,403.7h1.7v1.7h-1.7zM102.6,361.8h1.7v1.7h-1.7zM88.9,370.3h1.7v1.7h-1.7zM61.7,403.6h1.7v1.7h-1.7zM48.9,371.7h1.7v1.7h-1.7zM40.0,395.8h1.7v1.7h-1.7zM96.0,376.5h1.7v1.7h-1.7zM88.0,395.6h1.7v1.7h-1.7zM92.7,384.5h1.7v1.7h-1.7zM89.0,370.0h1.7v1.7h-1.7zM89.8,368.2h1.7v1.7h-1.7zM33.3,380.3h1.7v1.7h-1.7zM119.2,362.8h1.7v1.7h-1.7zM73.7,381.6h1.7v1.7h-1.7zM117.5,397.2h1.7v1.7h-1.7zM68.7,361.8h1.7v1.7h-1.7zM86.5,366.6h1.7v1.7h-1.7zM59.6,361.3h1.7v1.7h-1.7zM78.4,377.6h1.7v1.7h-1.7zM73.2,371.6h1.7v1.7h-1.7zM88.0,375.5h1.7v1.7h-1.7zM89.8,386.0h1.7v1.7h-1.7zM108.4,395.4h1.7v1.7h-1.7zM101.6,374.5h1.7v1.7h-1.7zM115.8,396.1h1.7v1.7h-1.7zM75.4,374.4h1.7v1.7h-1.7zM85.7,377.0h1.7v1.7h-1.7zM126.5,403.2h1.7v1.7h-1.7zM85.8,370.9h1.7v1.7h-1.7zM112.2,381.7h1.7v1.7h-1.7zM111.4,377.5h1.7v1.7h-1.7zM100.5,413.0h1.7v1.7h-1.7zM69.1,380.5h1.7v1.7h-1.7zM121.7,375.8h1.7v1.7h-1.7zM103.1,390.7h1.7v1.7h-1.7zM75.5,378.7h1.7v1.7h-1.7zM79.7,376.1h1.7v1.7h-1.7zM59.8,381.0h1.7v1.7h-1.7zM80.3,386.0h1.7v1.7h-1.7zM92.6,356.6h1.7v1.7h-1.7zM88.4,375.8h1.7v1.7h-1.7zM76.4,381.8h1.7v1.7h-1.7zM103.9,391.1h1.7v1.7h-1.7zM59.3,360.2h1.7v1.7h-1.7zM111.0,394.9h1.7v1.7h-1.7zM83.4,380.3h1.7v1.7h-1.7zM114.0,412.0h1.7v1.7h-1.7zM68.5,398.5h1.7v1.7h-1.7zM79.3,382.8h1.7v1.7h-1.7zM66.9,378.7h1.7v1.7h-1.7zM70.2,388.6h1.7v1.7h-1.7zM70.7,392.4h1.7v1.7h-1.7zM75.2,362.5h1.7v1.7h-1.7zM99.3,361.5h1.7v1.7h-1.7zM93.5,374.8h1.7v1.7h-1.7zM50.8,389.6h1.7v1.7h-1.7zM105.4,398.8h1.7v1.7h-1.7zM81.0,367.9h1.7v1.7h-1.7zM82.1,349.1h1.7v1.7h-1.7zM114.9,379.3h1.7v1.7h-1.7zM106.3,393.4h1.7v1.7h-1.7zM98.4,397.1h1.7v1.7h-1.7zM96.8,391.4h1.7v1.7h-1.7zM91.1,410.7h1.7v1.7h-1.7zM67.5,382.6h1.7v1.7h-1.7zM99.4,392.5h1.7v1.7h-1.7zM80.7,375.6h1.7v1.7h-1.7zM92.0,373.4h1.7v1.7h-1.7zM87.6,378.2h1.7v1.7h-1.7zM104.7,387.6h1.7v1.7h-1.7zM91.1,379.2h1.7v1.7h-1.7zM126.1,362.4h1.7v1.7h-1.7zM90.3,376.9h1.7v1.7h-1.7zM85.2,372.3h1.7v1.7h-1.7zM85.9,393.3h1.7v1.7h-1.7zM100.0,365.9h1.7v1.7h-1.7zM131.1,403.1h1.7v1.7h-1.7zM70.4,375.8h1.7v1.7h-1.7zM62.5,387.6h1.7v1.7h-1.7zM64.3,363.7h1.7v1.7h-1.7zM82.2,371.2h1.7v1.7h-1.7zM101.7,392.5h1.7v1.7h-1.7zM133.8,378.5h1.7v1.7h-1.7zM90.0,388.0h1.7v1.7h-1.7zM96.6,393.2h1.7v1.7h-1.7zM64.8,360.9h1.7v1.7h-1.7zM106.7,378.9h1.7v1.7h-1.7zM81.4,370.8h1.7v1.7h-1.7zM97.1,404.2h1.7v1.7h-1.7zM90.6,408.6h1.7v1.7h-1.7zM84.6,412.6h1.7v1.7h-1.7zM70.4,380.2h1.7v1.7h-1.7zM122.3,404.5h1.7v1.7h-1.7zM109.0,369.8h1.7v1.7h-1.7zM77.1,363.3h1.7v1.7h-1.7zM67.4,398.5h1.7v1.7h-1.7zM58.6,325.1h1.7v1.7h-1.7zM70.8,358.7h1.7v1.7h-1.7zM34.5,374.3h1.7v1.7h-1.7zM79.3,361.4h1.7v1.7h-1.7zM98.5,381.2h1.7v1.7h-1.7zM57.6,385.5h1.7v1.7h-1.7zM80.0,377.0h1.7v1.7h-1.7zM92.2,402.1h1.7v1.7h-1.7zM84.1,355.5h1.7v1.7h-1.7zM73.8,398.8h1.7v1.7h-1.7zM77.4,395.6h1.7v1.7h-1.7zM66.7,383.4h1.7v1.7h-1.7zM92.0,388.3h1.7v1.7h-1.7zM86.1,383.9h1.7v1.7h-1.7zM95.2,358.8h1.7v1.7h-1.7zM62.7,374.7h1.7v1.7h-1.7zM38.5,383.6h1.7v1.7h-1.7zM92.9,372.5h1.7v1.7h-1.7zM101.3,354.5h1.7v1.7h-1.7zM71.2,394.8h1.7v1.7h-1.7zM91.3,373.4h1.7v1.7h-1.7zM82.9,361.4h1.7v1.7h-1.7zM121.9,381.7h1.7v1.7h-1.7zM54.2,359.0h1.7v1.7h-1.7zM100.7,389.9h1.7v1.7h-1.7zM68.6,378.2h1.7v1.7h-1.7zM103.5,351.9h1.7v1.7h-1.7zM64.8,362.1h1.7v1.7h-1.7zM123.8,399.5h1.7v1.7h-1.7zM84.9,379.3h1.7v1.7h-1.7zM117.0,388.7h1.7v1.7h-1.7zM28.9,363.9h1.7v1.7h-1.7zM110.2,391.6h1.7v1.7h-1.7zM66.5,387.0h1.7v1.7h-1.7zM80.3,370.0h1.7v1.7h-1.7zM74.4,370.6h1.7v1.7h-1.7zM75.1,411.9h1.7v1.7h-1.7zM82.7,349.7h1.7v1.7h-1.7zM93.0,389.4h1.7v1.7h-1.7zM77.2,387.4h1.7v1.7h-1.7zM46.6,356.6h1.7v1.7h-1.7zM133.5,411.1h1.7v1.7h-1.7zM55.6,340.5h1.7v1.7h-1.7zM92.8,376.3h1.7v1.7h-1.7zM95.3,382.4h1.7v1.7h-1.7zM78.1,393.1h1.7v1.7h-1.7zM66.8,378.3h1.7v1.7h-1.7zM117.0,399.3h1.7v1.7h-1.7zM70.8,391.6h1.7v1.7h-1.7zM80.1,375.8h1.7v1.7h-1.7zM123.1,373.2h1.7v1.7h-1.7zM60.0,403.3h1.7v1.7h-1.7zM79.8,410.7h1.7v1.7h-1.7zM85.5,381.0h1.7v1.7h-1.7zM82.5,393.8h1.7v1.7h-1.7zM101.6,394.7h1.7v1.7h-1.7zM102.9,408.8h1.7v1.7h-1.7zM72.8,388.6h1.7v1.7h-1.7zM101.5,378.3h1.7v1.7h-1.7zM97.8,406.9h1.7v1.7h-1.7zM53.8,416.9h1.7v1.7h-1.7zM56.5,416.9h1.7v1.7h-1.7zM58.4,416.9h1.7v1.7h-1.7zM68.9,416.9h1.7v1.7h-1.7zM70.7,416.9h1.7v1.7h-1.7zM73.3,416.9h1.7v1.7h-1.7zM76.3,416.9h1.7v1.7h-1.7zM78.2,416.9h1.7v1.7h-1.7zM80.1,416.9h1.7v1.7h-1.7zM82.6,416.9h1.7v1.7h-1.7zM95.2,416.9h1.7v1.7h-1.7zM98.4,416.9h1.7v1.7h-1.7zM100.5,416.9h1.7v1.7h-1.7zM103.0,416.9h1.7v1.7h-1.7zM105.0,416.9h1.7v1.7h-1.7zM107.7,416.9h1.7v1.7h-1.7zM109.6,416.9h1.7v1.7h-1.7zM112.7,416.9h1.7v1.7h-1.7zM114.2,416.9h1.7v1.7h-1.7zM130.6,416.9h1.7v1.7h-1.7zM42.9,381.7h1.7v1.7h-1.7zM58.8,378.4h1.7v1.7h-1.7zM64.1,397.7h1.7v1.7h-1.7zM45.5,378.7h1.7v1.7h-1.7zM52.2,372.7h1.7v1.7h-1.7zM49.5,402.1h1.7v1.7h-1.7zM58.2,367.9h1.7v1.7h-1.7zM35.9,367.0h1.7v1.7h-1.7zM33.8,373.3h1.7v1.7h-1.7zM53.2,392.4h1.7v1.7h-1.7zM36.4,394.3h1.7v1.7h-1.7zM53.2,380.7h1.7v1.7h-1.7zM59.2,398.6h1.7v1.7h-1.7zM53.1,392.1h1.7v1.7h-1.7zM35.0,397.8h1.7v1.7h-1.7zM37.1,399.2h1.7v1.7h-1.7zM34.8,358.9h1.7v1.7h-1.7zM44.9,369.7h1.7v1.7h-1.7zM46.9,381.8h1.7v1.7h-1.7zM41.5,360.5h1.7v1.7h-1.7zM40.3,359.7h1.7v1.7h-1.7zM58.1,364.5h1.7v1.7h-1.7zM36.7,358.4h1.7v1.7h-1.7zM54.1,378.5h1.7v1.7h-1.7zM51.4,385.1h1.7v1.7h-1.7zM63.6,358.7h1.7v1.7h-1.7zM63.5,400.1h1.7v1.7h-1.7zM50.3,372.5h1.7v1.7h-1.7zM39.4,363.1h1.7v1.7h-1.7zM57.2,401.1h1.7v1.7h-1.7zM42.9,373.5h1.7v1.7h-1.7zM61.3,357.8h1.7v1.7h-1.7zM42.3,365.8h1.7v1.7h-1.7zM52.0,389.2h1.7v1.7h-1.7zM41.2,401.8h1.7v1.7h-1.7zM34.7,385.8h1.7v1.7h-1.7zM37.4,397.0h1.7v1.7h-1.7zM43.7,400.3h1.7v1.7h-1.7zM40.0,394.4h1.7v1.7h-1.7zM64.3,386.1h1.7v1.7h-1.7z" fill="#000"/>
<path d="M31.4,369.8L130.7,385.5L130.7,390.3L31.4,374.6Z" fill="#c8c8c8" opacity="0.7"/>
<line x1="31.40" y1="372.20" x2="130.70" y2="387.90" stroke="#4478dc" stroke-width="1.15" />
<rect x="28" y="316" width="54" height="8" fill="#fff"/>
<text x="29.00" y="324.50" font-size="6.6" text-anchor="start" font-weight="bold" fill="#000" stroke="#000" stroke-width="0.22" textLength="52.70" lengthAdjust="spacingAndGlyphs" >R=0.18,p=3.4e-09</text>
<text x="302.30" y="308.30" font-size="10.5" text-anchor="start" font-weight="bold" fill="#000" stroke="#000" stroke-width="0.22" >I</text>
<line x1="325.40" y1="320.00" x2="325.40" y2="413.40" stroke="#111" stroke-width="1" />
<line x1="325.40" y1="413.40" x2="390.60" y2="413.40" stroke="#111" stroke-width="1" />
<line x1="322.50" y1="413.40" x2="325.40" y2="413.40" stroke="#111" stroke-width="1" />
<text x="321.50" y="415.60" font-size="6.2" text-anchor="end" font-weight="bold" fill="#000" stroke="#000" stroke-width="0.22" >0</text>
<line x1="322.50" y1="390.60" x2="325.40" y2="390.60" stroke="#111" stroke-width="1" />
<text x="321.50" y="392.80" font-size="6.2" text-anchor="end" font-weight="bold" fill="#000" stroke="#000" stroke-width="0.22" >2</text>
<line x1="322.50" y1="367.80" x2="325.40" y2="367.80" stroke="#111" stroke-width="1" />
<text x="321.50" y="370.00" font-size="6.2" text-anchor="end" font-weight="bold" fill="#000" stroke="#000" stroke-width="0.22" >4</text>
<line x1="322.50" y1="345.00" x2="325.40" y2="345.00" stroke="#111" stroke-width="1" />
<text x="321.50" y="347.20" font-size="6.2" text-anchor="end" font-weight="bold" fill="#000" stroke="#000" stroke-width="0.22" >6</text>
<line x1="322.50" y1="322.20" x2="325.40" y2="322.20" stroke="#111" stroke-width="1" />
<text x="321.50" y="324.40" font-size="6.2" text-anchor="end" font-weight="bold" fill="#000" stroke="#000" stroke-width="0.22" >8</text>
<line x1="344.50" y1="413.40" x2="344.50" y2="416.00" stroke="#111" stroke-width="1" />
<line x1="376.20" y1="413.40" x2="376.20" y2="416.00" stroke="#111" stroke-width="1" />
<text x="314.30" y="365.00" font-size="6.8" text-anchor="middle" font-weight="bold" fill="#000" stroke="#000" stroke-width="0.22" textLength="51.00" lengthAdjust="spacingAndGlyphs" transform="rotate(-90 314.30 365.00)" >% Area of CD68</text>
<rect x="333.4" y="359.1" width="22.2" height="54.3" fill="#d9d9d9" stroke="#111" stroke-width="1"/>
<rect x="365.1" y="401.7" width="22.3" height="11.7" fill="#f9c4c4" stroke="#f02020" stroke-width="1"/>
<line x1="344.50" y1="341.00" x2="344.50" y2="377.30" stroke="#111" stroke-width="1" />
<line x1="339.70" y1="341.00" x2="349.30" y2="341.00" stroke="#111" stroke-width="1" />
<line x1="339.70" y1="377.30" x2="349.30" y2="377.30" stroke="#111" stroke-width="1" />
<path d="M342.20,331.34L344.50,327.20L346.80,331.34Z" fill="#000"/>
<path d="M342.20,356.04L344.50,351.90L346.80,356.04Z" fill="#000"/>
<path d="M342.20,366.14L344.50,362.00L346.80,366.14Z" fill="#000"/>
<path d="M342.20,372.64L344.50,368.50L346.80,372.64Z" fill="#000"/>
<path d="M342.20,377.64L344.50,373.50L346.80,377.64Z" fill="#000"/>
<line x1="376.20" y1="397.90" x2="376.20" y2="408.00" stroke="#f02020" stroke-width="1" />
<line x1="371.00" y1="397.90" x2="381.40" y2="397.90" stroke="#f02020" stroke-width="1" />
<line x1="371.00" y1="408.00" x2="381.40" y2="408.00" stroke="#f02020" stroke-width="1" />
<circle cx="377.30" cy="396.10" r="2.2" fill="#f02020"/>
<circle cx="368.20" cy="400.70" r="2.2" fill="#f02020"/>
<circle cx="386.40" cy="403.00" r="2.2" fill="#f02020"/>
<circle cx="377.70" cy="404.50" r="2.2" fill="#f02020"/>
<circle cx="377.70" cy="407.60" r="2.2" fill="#f02020"/>
<line x1="343.50" y1="322.90" x2="376.90" y2="322.90" stroke="#111" stroke-width="0.9" />
<text x="360.00" y="322.30" font-size="5" text-anchor="middle" font-weight="bold" fill="#000" stroke="#000" stroke-width="0.22" >**</text>
<text x="343.70" y="422.20" font-size="6.4" text-anchor="middle" font-weight="bold" fill="#000" stroke="#000" stroke-width="0.22" textLength="27.00" lengthAdjust="spacingAndGlyphs" >Short-term</text>
<text x="376.30" y="422.20" font-size="6.4" text-anchor="middle" font-weight="bold" fill="#000" stroke="#000" stroke-width="0.22" textLength="28.60" lengthAdjust="spacingAndGlyphs" >Long-term</text>
<line x1="341.00" y1="424.00" x2="378.00" y2="424.00" stroke="#333" stroke-width="0.8" />
<text x="361.20" y="431.00" font-size="6.6" text-anchor="middle" font-weight="bold" fill="#000" stroke="#000" stroke-width="0.22" textLength="52.40" lengthAdjust="spacingAndGlyphs" >Response to ICIs</text>
<defs><filter id="bl3" x="-20%" y="-20%" width="140%" height="140%"><feGaussianBlur stdDeviation="3.5"/></filter><filter id="bs" x="-10%" y="-10%" width="120%" height="120%"><feGaussianBlur stdDeviation="0.3"/></filter><filter id="bh" x="-20%" y="-20%" width="140%" height="140%"><feGaussianBlur stdDeviation="1.0"/></filter></defs>
<defs><filter id="tc1" x="0" y="0" width="100%" height="100%" color-interpolation-filters="sRGB"><feTurbulence type="fractalNoise" baseFrequency="0.3" numOctaves="2" seed="4" result="n"/><feColorMatrix in="n" type="matrix" values="0 0 0 0 0.38  0 0 0 0 0.30  0 0 0 0 0.55  2.7 0 0 0 -1.3"/><feGaussianBlur stdDeviation="0.45"/></filter><filter id="tc1b" x="0" y="0" width="100%" height="100%" color-interpolation-filters="sRGB"><feTurbulence type="fractalNoise" baseFrequency="0.35" numOctaves="2" seed="9" result="n"/><feColorMatrix in="n" type="matrix" values="0 0 0 0 0.96  0 0 0 0 0.86  0 0 0 0 0.89  2.6 0 0 0 -1.45"/><feGaussianBlur stdDeviation="0.45"/></filter><filter id="tc2" x="0" y="0" width="100%" height="100%" color-interpolation-filters="sRGB"><feTurbulence type="fractalNoise" baseFrequency="0.32" numOctaves="2" seed="12" result="n"/><feColorMatrix in="n" type="matrix" values="0 0 0 0 0.40  0 0 0 0 0.38  0 0 0 0 0.68  3.6 0 0 0 -1.75"/><feGaussianBlur stdDeviation="0.4"/></filter><filter id="tc2b" x="0" y="0" width="100%" height="100%" color-interpolation-filters="sRGB"><feTurbulence type="fractalNoise" baseFrequency="0.3" numOctaves="2" seed="17" result="n"/><feColorMatrix in="n" type="matrix" values="0 0 0 0 0.99  0 0 0 0 0.99  0 0 0 0 1  3.2 0 0 0 -1.7"/><feGaussianBlur stdDeviation="0.4"/></filter><filter id="tc1L" x="0" y="0" width="100%" height="100%" color-interpolation-filters="sRGB"><feTurbulence type="fractalNoise" baseFrequency="0.09" numOctaves="2" seed="31" result="n"/><feColorMatrix in="n" type="matrix" values="0 0 0 0 0.30  0 0 0 0 0.22  0 0 0 0 0.40  2.0 0 0 0 -1.0"/></filter></defs>
<clipPath id="c1"><rect x="258.4" y="20" width="70.4" height="91.6"/></clipPath>
<g clip-path="url(#c1)"><g filter="url(#bl3)"><rect x="246.7" y="8.6" width="12.0" height="11.8" fill="rgb(196,166,188)"/><rect x="258.4" y="8.6" width="12.0" height="11.8" fill="rgb(196,166,188)"/><rect x="270.1" y="8.6" width="12.0" height="11.8" fill="rgb(187,157,184)"/><rect x="281.9" y="8.6" width="12.0" height="11.8" fill="rgb(185,156,182)"/><rect x="293.6" y="8.6" width="12.0" height="11.8" fill="rgb(191,164,188)"/><rect x="305.3" y="8.6" width="12.0" height="11.8" fill="rgb(194,168,193)"/><rect x="317.1" y="8.6" width="12.0" height="11.8" fill="rgb(200,179,201)"/><rect x="328.8" y="8.6" width="12.0" height="11.8" fill="rgb(200,179,201)"/><rect x="246.7" y="20.0" width="12.0" height="11.8" fill="rgb(196,166,188)"/><rect x="258.4" y="20.0" width="12.0" height="11.8" fill="rgb(196,166,188)"/><rect x="270.1" y="20.0" width="12.0" height="11.8" fill="rgb(187,157,184)"/><rect x="281.9" y="20.0" width="12.0" height="11.8" fill="rgb(185,156,182)"/><rect x="293.6" y="20.0" width="12.0" height="11.8" fill="rgb(191,164,188)"/><rect x="305.3" y="20.0" width="12.0" height="11.8" fill="rgb(194,168,193)"/><rect x="317.1" y="20.0" width="12.0" height="11.8" fill="rgb(200,179,201)"/><rect x="328.8" y="20.0" width="12.0" height="11.8" fill="rgb(200,179,201)"/><rect x="246.7" y="31.4" width="12.0" height="11.8" fill="rgb(188,157,182)"/><rect x="258.4" y="31.4" width="12.0" height="11.8" fill="rgb(188,157,182)"/><rect x="270.1" y="31.4" width="12.0" height="11.8" fill="rgb(182,150,175)"/><rect x="281.9" y="31.4" width="12.0" height="11.8" fill="rgb(187,156,179)"/><rect x="293.6" y="31.4" width="12.0" height="11.8" fill="rgb(187,157,182)"/><rect x="305.3" y="31.4" width="12.0" height="11.8" fill="rgb(188,159,184)"/><rect x="317.1" y="31.4" width="12.0" height="11.8" fill="rgb(196,173,194)"/><rect x="328.8" y="31.4" width="12.0" height="11.8" fill="rgb(196,173,194)"/><rect x="246.7" y="42.9" width="12.0" height="11.8" fill="rgb(185,153,175)"/><rect x="258.4" y="42.9" width="12.0" height="11.8" fill="rgb(185,153,175)"/><rect x="270.1" y="42.9" width="12.0" height="11.8" fill="rgb(187,150,171)"/><rect x="281.9" y="42.9" width="12.0" height="11.8" fill="rgb(174,149,182)"/><rect x="293.6" y="42.9" width="12.0" height="11.8" fill="rgb(165,144,185)"/><rect x="305.3" y="42.9" width="12.0" height="11.8" fill="rgb(182,157,185)"/><rect x="317.1" y="42.9" width="12.0" height="11.8" fill="rgb(196,173,191)"/><rect x="328.8" y="42.9" width="12.0" height="11.8" fill="rgb(196,173,191)"/><rect x="246.7" y="54.3" width="12.0" height="11.8" fill="rgb(188,153,168)"/><rect x="258.4" y="54.3" width="12.0" height="11.8" fill="rgb(188,153,168)"/><rect x="270.1" y="54.3" width="12.0" height="11.8" fill="rgb(185,149,168)"/><rect x="281.9" y="54.3" width="12.0" height="11.8" fill="rgb(174,147,177)"/><rect x="293.6" y="54.3" width="12.0" height="11.8" fill="rgb(169,144,179)"/><rect x="305.3" y="54.3" width="12.0" height="11.8" fill="rgb(187,157,179)"/><rect x="317.1" y="54.3" width="12.0" height="11.8" fill="rgb(191,166,184)"/><rect x="328.8" y="54.3" width="12.0" height="11.8" fill="rgb(191,166,184)"/><rect x="246.7" y="65.8" width="12.0" height="11.8" fill="rgb(191,144,149)"/><rect x="258.4" y="65.8" width="12.0" height="11.8" fill="rgb(191,144,149)"/><rect x="270.1" y="65.8" width="12.0" height="11.8" fill="rgb(187,144,153)"/><rect x="281.9" y="65.8" width="12.0" height="11.8" fill="rgb(174,144,168)"/><rect x="293.6" y="65.8" width="12.0" height="11.8" fill="rgb(182,150,171)"/><rect x="305.3" y="65.8" width="12.0" height="11.8" fill="rgb(194,166,179)"/><rect x="317.1" y="65.8" width="12.0" height="11.8" fill="rgb(187,157,175)"/><rect x="328.8" y="65.8" width="12.0" height="11.8" fill="rgb(187,157,175)"/><rect x="246.7" y="77.2" width="12.0" height="11.8" fill="rgb(194,140,135)"/><rect x="258.4" y="77.2" width="12.0" height="11.8" fill="rgb(194,140,135)"/><rect x="270.1" y="77.2" width="12.0" height="11.8" fill="rgb(185,138,141)"/><rect x="281.9" y="77.2" width="12.0" height="11.8" fill="rgb(182,144,157)"/><rect x="293.6" y="77.2" width="12.0" height="11.8" fill="rgb(191,157,168)"/><rect x="305.3" y="77.2" width="12.0" height="11.8" fill="rgb(200,175,185)"/><rect x="317.1" y="77.2" width="12.0" height="11.8" fill="rgb(187,156,171)"/><rect x="328.8" y="77.2" width="12.0" height="11.8" fill="rgb(187,156,171)"/><rect x="246.7" y="88.7" width="12.0" height="11.8" fill="rgb(188,135,131)"/><rect x="258.4" y="88.7" width="12.0" height="11.8" fill="rgb(188,135,131)"/><rect x="270.1" y="88.7" width="12.0" height="11.8" fill="rgb(180,131,135)"/><rect x="281.9" y="88.7" width="12.0" height="11.8" fill="rgb(185,144,153)"/><rect x="293.6" y="88.7" width="12.0" height="11.8" fill="rgb(194,162,173)"/><rect x="305.3" y="88.7" width="12.0" height="11.8" fill="rgb(188,157,173)"/><rect x="317.1" y="88.7" width="12.0" height="11.8" fill="rgb(185,149,164)"/><rect x="328.8" y="88.7" width="12.0" height="11.8" fill="rgb(185,149,164)"/><rect x="246.7" y="100.1" width="12.0" height="11.8" fill="rgb(209,182,182)"/><rect x="258.4" y="100.1" width="12.0" height="11.8" fill="rgb(209,182,182)"/><rect x="270.1" y="100.1" width="12.0" height="11.8" fill="rgb(185,136,138)"/><rect x="281.9" y="100.1" width="12.0" height="11.8" fill="rgb(185,144,150)"/><rect x="293.6" y="100.1" width="12.0" height="11.8" fill="rgb(203,179,185)"/><rect x="305.3" y="100.1" width="12.0" height="11.8" fill="rgb(226,215,219)"/><rect x="317.1" y="100.1" width="12.0" height="11.8" fill="rgb(197,173,182)"/><rect x="328.8" y="100.1" width="12.0" height="11.8" fill="rgb(197,173,182)"/><rect x="246.7" y="111.6" width="12.0" height="11.8" fill="rgb(209,182,182)"/><rect x="258.4" y="111.6" width="12.0" height="11.8" fill="rgb(209,182,182)"/><rect x="270.1" y="111.6" width="12.0" height="11.8" fill="rgb(185,136,138)"/><rect x="281.9" y="111.6" width="12.0" height="11.8" fill="rgb(185,144,150)"/><rect x="293.6" y="111.6" width="12.0" height="11.8" fill="rgb(203,179,185)"/><rect x="305.3" y="111.6" width="12.0" height="11.8" fill="rgb(226,215,219)"/><rect x="317.1" y="111.6" width="12.0" height="11.8" fill="rgb(197,173,182)"/><rect x="328.8" y="111.6" width="12.0" height="11.8" fill="rgb(197,173,182)"/></g>
<rect x="258.4" y="20" width="70.4" height="91.6" filter="url(#tc1L)"/>
<rect x="258.4" y="20" width="70.4" height="91.6" filter="url(#tc1)"/>
<rect x="258.4" y="20" width="70.4" height="91.6" filter="url(#tc1b)"/>
<g filter="url(#bh)"><path d="M258,108 L266,106 L274,109 L274,113 L258,113Z M308,106 L316,103 L324,105 L326,113 L306,113Z M300,88 L305,86 L306,92 L302,94Z M309,61 L312,59 L313,64 L311,67Z M292,99 L296,95 L298,101 L294,104Z" fill="#f2ecee" opacity="0.8"/></g>
</g>
<rect x="258.4" y="20" width="70.4" height="91.6" fill="none" stroke="#c8c8c8" stroke-width="0.6"/>
<clipPath id="c2"><rect x="330.4" y="20" width="69.6" height="91.6"/></clipPath>
<g clip-path="url(#c2)"><g filter="url(#bl3)"><rect x="318.8" y="8.6" width="11.9" height="11.8" fill="rgb(218,215,239)"/><rect x="330.4" y="8.6" width="11.9" height="11.8" fill="rgb(218,215,239)"/><rect x="342.0" y="8.6" width="11.9" height="11.8" fill="rgb(239,237,249)"/><rect x="353.6" y="8.6" width="11.9" height="11.8" fill="rgb(215,213,239)"/><rect x="365.2" y="8.6" width="11.9" height="11.8" fill="rgb(218,215,240)"/><rect x="376.8" y="8.6" width="11.9" height="11.8" fill="rgb(220,218,241)"/><rect x="388.4" y="8.6" width="11.9" height="11.8" fill="rgb(234,231,246)"/><rect x="400.0" y="8.6" width="11.9" height="11.8" fill="rgb(234,231,246)"/><rect x="318.8" y="20.0" width="11.9" height="11.8" fill="rgb(218,215,239)"/><rect x="330.4" y="20.0" width="11.9" height="11.8" fill="rgb(218,215,239)"/><rect x="342.0" y="20.0" width="11.9" height="11.8" fill="rgb(239,237,249)"/><rect x="353.6" y="20.0" width="11.9" height="11.8" fill="rgb(215,213,239)"/><rect x="365.2" y="20.0" width="11.9" height="11.8" fill="rgb(218,215,240)"/><rect x="376.8" y="20.0" width="11.9" height="11.8" fill="rgb(220,218,241)"/><rect x="388.4" y="20.0" width="11.9" height="11.8" fill="rgb(234,231,246)"/><rect x="400.0" y="20.0" width="11.9" height="11.8" fill="rgb(234,231,246)"/><rect x="318.8" y="31.4" width="11.9" height="11.8" fill="rgb(210,207,234)"/><rect x="330.4" y="31.4" width="11.9" height="11.8" fill="rgb(210,207,234)"/><rect x="342.0" y="31.4" width="11.9" height="11.8" fill="rgb(241,240,251)"/><rect x="353.6" y="31.4" width="11.9" height="11.8" fill="rgb(215,213,237)"/><rect x="365.2" y="31.4" width="11.9" height="11.8" fill="rgb(218,215,239)"/><rect x="376.8" y="31.4" width="11.9" height="11.8" fill="rgb(225,223,244)"/><rect x="388.4" y="31.4" width="11.9" height="11.8" fill="rgb(228,225,246)"/><rect x="400.0" y="31.4" width="11.9" height="11.8" fill="rgb(228,225,246)"/><rect x="318.8" y="42.9" width="11.9" height="11.8" fill="rgb(213,210,235)"/><rect x="330.4" y="42.9" width="11.9" height="11.8" fill="rgb(213,210,235)"/><rect x="342.0" y="42.9" width="11.9" height="11.8" fill="rgb(228,225,246)"/><rect x="353.6" y="42.9" width="11.9" height="11.8" fill="rgb(215,213,237)"/><rect x="365.2" y="42.9" width="11.9" height="11.8" fill="rgb(215,213,237)"/><rect x="376.8" y="42.9" width="11.9" height="11.8" fill="rgb(223,220,242)"/><rect x="388.4" y="42.9" width="11.9" height="11.8" fill="rgb(215,213,237)"/><rect x="400.0" y="42.9" width="11.9" height="11.8" fill="rgb(215,213,237)"/><rect x="318.8" y="54.3" width="11.9" height="11.8" fill="rgb(213,210,235)"/><rect x="330.4" y="54.3" width="11.9" height="11.8" fill="rgb(213,210,235)"/><rect x="342.0" y="54.3" width="11.9" height="11.8" fill="rgb(223,220,242)"/><rect x="353.6" y="54.3" width="11.9" height="11.8" fill="rgb(231,228,246)"/><rect x="365.2" y="54.3" width="11.9" height="11.8" fill="rgb(223,220,242)"/><rect x="376.8" y="54.3" width="11.9" height="11.8" fill="rgb(218,215,239)"/><rect x="388.4" y="54.3" width="11.9" height="11.8" fill="rgb(215,213,237)"/><rect x="400.0" y="54.3" width="11.9" height="11.8" fill="rgb(215,213,237)"/><rect x="318.8" y="65.8" width="11.9" height="11.8" fill="rgb(215,213,237)"/><rect x="330.4" y="65.8" width="11.9" height="11.8" fill="rgb(215,213,237)"/><rect x="342.0" y="65.8" width="11.9" height="11.8" fill="rgb(218,215,239)"/><rect x="353.6" y="65.8" width="11.9" height="11.8" fill="rgb(220,218,240)"/><rect x="365.2" y="65.8" width="11.9" height="11.8" fill="rgb(225,223,244)"/><rect x="376.8" y="65.8" width="11.9" height="11.8" fill="rgb(220,218,241)"/><rect x="388.4" y="65.8" width="11.9" height="11.8" fill="rgb(215,213,237)"/><rect x="400.0" y="65.8" width="11.9" height="11.8" fill="rgb(215,213,237)"/><rect x="318.8" y="77.2" width="11.9" height="11.8" fill="rgb(228,225,246)"/><rect x="330.4" y="77.2" width="11.9" height="11.8" fill="rgb(228,225,246)"/><rect x="342.0" y="77.2" width="11.9" height="11.8" fill="rgb(225,223,244)"/><rect x="353.6" y="77.2" width="11.9" height="11.8" fill="rgb(228,225,246)"/><rect x="365.2" y="77.2" width="11.9" height="11.8" fill="rgb(223,220,242)"/><rect x="376.8" y="77.2" width="11.9" height="11.8" fill="rgb(218,215,239)"/><rect x="388.4" y="77.2" width="11.9" height="11.8" fill="rgb(215,213,237)"/><rect x="400.0" y="77.2" width="11.9" height="11.8" fill="rgb(215,213,237)"/><rect x="318.8" y="88.7" width="11.9" height="11.8" fill="rgb(215,213,237)"/><rect x="330.4" y="88.7" width="11.9" height="11.8" fill="rgb(215,213,237)"/><rect x="342.0" y="88.7" width="11.9" height="11.8" fill="rgb(223,220,242)"/><rect x="353.6" y="88.7" width="11.9" height="11.8" fill="rgb(239,237,249)"/><rect x="365.2" y="88.7" width="11.9" height="11.8" fill="rgb(234,231,247)"/><rect x="376.8" y="88.7" width="11.9" height="11.8" fill="rgb(220,218,241)"/><rect x="388.4" y="88.7" width="11.9" height="11.8" fill="rgb(218,215,239)"/><rect x="400.0" y="88.7" width="11.9" height="11.8" fill="rgb(218,215,239)"/><rect x="318.8" y="100.1" width="11.9" height="11.8" fill="rgb(218,215,239)"/><rect x="330.4" y="100.1" width="11.9" height="11.8" fill="rgb(218,215,239)"/><rect x="342.0" y="100.1" width="11.9" height="11.8" fill="rgb(234,231,247)"/><rect x="353.6" y="100.1" width="11.9" height="11.8" fill="rgb(243,242,252)"/><rect x="365.2" y="100.1" width="11.9" height="11.8" fill="rgb(239,237,249)"/><rect x="376.8" y="100.1" width="11.9" height="11.8" fill="rgb(225,223,244)"/><rect x="388.4" y="100.1" width="11.9" height="11.8" fill="rgb(223,220,242)"/><rect x="400.0" y="100.1" width="11.9" height="11.8" fill="rgb(223,220,242)"/><rect x="318.8" y="111.6" width="11.9" height="11.8" fill="rgb(218,215,239)"/><rect x="330.4" y="111.6" width="11.9" height="11.8" fill="rgb(218,215,239)"/><rect x="342.0" y="111.6" width="11.9" height="11.8" fill="rgb(234,231,247)"/><rect x="353.6" y="111.6" width="11.9" height="11.8" fill="rgb(243,242,252)"/><rect x="365.2" y="111.6" width="11.9" height="11.8" fill="rgb(239,237,249)"/><rect x="376.8" y="111.6" width="11.9" height="11.8" fill="rgb(225,223,244)"/><rect x="388.4" y="111.6" width="11.9" height="11.8" fill="rgb(223,220,242)"/><rect x="400.0" y="111.6" width="11.9" height="11.8" fill="rgb(223,220,242)"/></g>
<rect x="330.4" y="20" width="69.6" height="91.6" filter="url(#tc2)"/>
<rect x="330.4" y="20" width="69.6" height="91.6" filter="url(#tc2b)"/>
<g filter="url(#bh)"><path d="M342,29L347,27L353,31L351,41L348,49L345,44L341,35ZM345,20L350,20L350,26L345,26ZM399,30L397,34L390,38L385,45L383,44L387,37L394,31ZM395,20L400,20L400,30L397,30ZM350,97L357,94L366,92L375,91L382,97L384,112L347,112ZM353,60L358,59L359,68L354,69ZM358,82L364,81L364,86L359,87ZM373,72L378,71L379,79L374,79ZM333,81L340,80L344,86L341,90L334,89Z" fill="#fdfdff" opacity="1"/></g>
</g>
<rect x="330.4" y="20" width="69.6" height="91.6" fill="none" stroke="#c8c8c8" stroke-width="0.6"/>
<clipPath id="h1"><rect x="151.5" y="313.8" width="73.9" height="110.2"/></clipPath>
<g clip-path="url(#h1)"><g filter="url(#bl3)"><rect x="136.7" y="300.0" width="15.1" height="14.1" fill="rgb(238,220,209)"/><rect x="151.5" y="300.0" width="15.1" height="14.1" fill="rgb(238,220,209)"/><rect x="166.3" y="300.0" width="15.1" height="14.1" fill="rgb(236,217,205)"/><rect x="181.1" y="300.0" width="15.1" height="14.1" fill="rgb(238,221,211)"/><rect x="195.8" y="300.0" width="15.1" height="14.1" fill="rgb(239,224,215)"/><rect x="210.6" y="300.0" width="15.1" height="14.1" fill="rgb(238,223,212)"/><rect x="225.4" y="300.0" width="15.1" height="14.1" fill="rgb(238,223,212)"/><rect x="136.7" y="313.8" width="15.1" height="14.1" fill="rgb(238,220,209)"/><rect x="151.5" y="313.8" width="15.1" height="14.1" fill="rgb(238,220,209)"/><rect x="166.3" y="313.8" width="15.1" height="14.1" fill="rgb(236,217,205)"/><rect x="181.1" y="313.8" width="15.1" height="14.1" fill="rgb(238,221,211)"/><rect x="195.8" y="313.8" width="15.1" height="14.1" fill="rgb(239,224,215)"/><rect x="210.6" y="313.8" width="15.1" height="14.1" fill="rgb(238,223,212)"/><rect x="225.4" y="313.8" width="15.1" height="14.1" fill="rgb(238,223,212)"/><rect x="136.7" y="327.6" width="15.1" height="14.1" fill="rgb(235,214,202)"/><rect x="151.5" y="327.6" width="15.1" height="14.1" fill="rgb(235,214,202)"/><rect x="166.3" y="327.6" width="15.1" height="14.1" fill="rgb(235,214,202)"/><rect x="181.1" y="327.6" width="15.1" height="14.1" fill="rgb(238,220,209)"/><rect x="195.8" y="327.6" width="15.1" height="14.1" fill="rgb(239,223,214)"/><rect x="210.6" y="327.6" width="15.1" height="14.1" fill="rgb(238,220,211)"/><rect x="225.4" y="327.6" width="15.1" height="14.1" fill="rgb(238,220,211)"/><rect x="136.7" y="341.4" width="15.1" height="14.1" fill="rgb(236,217,206)"/><rect x="151.5" y="341.4" width="15.1" height="14.1" fill="rgb(236,217,206)"/><rect x="166.3" y="341.4" width="15.1" height="14.1" fill="rgb(238,220,211)"/><rect x="181.1" y="341.4" width="15.1" height="14.1" fill="rgb(239,224,215)"/><rect x="195.8" y="341.4" width="15.1" height="14.1" fill="rgb(238,223,214)"/><rect x="210.6" y="341.4" width="15.1" height="14.1" fill="rgb(236,220,211)"/><rect x="225.4" y="341.4" width="15.1" height="14.1" fill="rgb(236,220,211)"/><rect x="136.7" y="355.1" width="15.1" height="14.1" fill="rgb(239,223,214)"/><rect x="151.5" y="355.1" width="15.1" height="14.1" fill="rgb(239,223,214)"/><rect x="166.3" y="355.1" width="15.1" height="14.1" fill="rgb(238,221,212)"/><rect x="181.1" y="355.1" width="15.1" height="14.1" fill="rgb(236,221,214)"/><rect x="195.8" y="355.1" width="15.1" height="14.1" fill="rgb(238,221,212)"/><rect x="210.6" y="355.1" width="15.1" height="14.1" fill="rgb(236,220,211)"/><rect x="225.4" y="355.1" width="15.1" height="14.1" fill="rgb(236,220,211)"/><rect x="136.7" y="368.9" width="15.1" height="14.1" fill="rgb(239,223,214)"/><rect x="151.5" y="368.9" width="15.1" height="14.1" fill="rgb(239,223,214)"/><rect x="166.3" y="368.9" width="15.1" height="14.1" fill="rgb(236,221,214)"/><rect x="181.1" y="368.9" width="15.1" height="14.1" fill="rgb(236,221,215)"/><rect x="195.8" y="368.9" width="15.1" height="14.1" fill="rgb(238,223,214)"/><rect x="210.6" y="368.9" width="15.1" height="14.1" fill="rgb(238,223,214)"/><rect x="225.4" y="368.9" width="15.1" height="14.1" fill="rgb(238,223,214)"/><rect x="136.7" y="382.7" width="15.1" height="14.1" fill="rgb(239,223,214)"/><rect x="151.5" y="382.7" width="15.1" height="14.1" fill="rgb(239,223,214)"/><rect x="166.3" y="382.7" width="15.1" height="14.1" fill="rgb(236,218,209)"/><rect x="181.1" y="382.7" width="15.1" height="14.1" fill="rgb(238,223,214)"/><rect x="195.8" y="382.7" width="15.1" height="14.1" fill="rgb(238,223,215)"/><rect x="210.6" y="382.7" width="15.1" height="14.1" fill="rgb(239,226,217)"/><rect x="225.4" y="382.7" width="15.1" height="14.1" fill="rgb(239,226,217)"/><rect x="136.7" y="396.5" width="15.1" height="14.1" fill="rgb(238,221,212)"/><rect x="151.5" y="396.5" width="15.1" height="14.1" fill="rgb(238,221,212)"/><rect x="166.3" y="396.5" width="15.1" height="14.1" fill="rgb(238,220,211)"/><rect x="181.1" y="396.5" width="15.1" height="14.1" fill="rgb(238,223,214)"/><rect x="195.8" y="396.5" width="15.1" height="14.1" fill="rgb(239,224,215)"/><rect x="210.6" y="396.5" width="15.1" height="14.1" fill="rgb(238,223,214)"/><rect x="225.4" y="396.5" width="15.1" height="14.1" fill="rgb(238,223,214)"/><rect x="136.7" y="410.2" width="15.1" height="14.1" fill="rgb(238,221,212)"/><rect x="151.5" y="410.2" width="15.1" height="14.1" fill="rgb(238,221,212)"/><rect x="166.3" y="410.2" width="15.1" height="14.1" fill="rgb(238,221,211)"/><rect x="181.1" y="410.2" width="15.1" height="14.1" fill="rgb(239,224,215)"/><rect x="195.8" y="410.2" width="15.1" height="14.1" fill="rgb(238,223,214)"/><rect x="210.6" y="410.2" width="15.1" height="14.1" fill="rgb(239,224,215)"/><rect x="225.4" y="410.2" width="15.1" height="14.1" fill="rgb(239,224,215)"/><rect x="136.7" y="424.0" width="15.1" height="14.1" fill="rgb(238,221,212)"/><rect x="151.5" y="424.0" width="15.1" height="14.1" fill="rgb(238,221,212)"/><rect x="166.3" y="424.0" width="15.1" height="14.1" fill="rgb(238,221,211)"/><rect x="181.1" y="424.0" width="15.1" height="14.1" fill="rgb(239,224,215)"/><rect x="195.8" y="424.0" width="15.1" height="14.1" fill="rgb(238,223,214)"/><rect x="210.6" y="424.0" width="15.1" height="14.1" fill="rgb(239,224,215)"/><rect x="225.4" y="424.0" width="15.1" height="14.1" fill="rgb(239,224,215)"/></g>
<g filter="url(#bs)"><path d="M219.8 418.3l3.7 -2.9M182.8 372.2l2.0 -1.4M152.5 382.1l3.7 -2.9M223.2 353.8l3.7 -2.2M200.3 348.4l2.0 -1.1M158.8 318.1l2.5 -1.2M159.6 413.0l3.5 -1.1M192.1 342.3l2.2 -0.8M169.1 373.9l4.3 -2.0M191.3 422.7l3.6 -2.2M187.8 317.9l2.5 -1.2M212.6 325.8l3.3 -2.0M168.9 375.6l3.0 -1.6M151.8 355.4l3.5 -2.6M166.5 388.9l2.2 -1.2M215.3 368.7l4.0 -1.7M173.1 349.0l2.6 -1.6M163.4 318.5l4.3 -1.8M188.6 326.0l2.7 -2.0M152.1 317.9l3.5 -2.6M197.5 399.8l2.3 -1.2M196.7 329.1l3.7 -2.0M223.0 423.1l3.5 -2.4M200.5 372.4l2.4 -1.2M185.2 386.5l4.4 -2.0M179.6 399.1l3.5 -2.8M177.4 337.0l3.2 -2.3M195.1 359.5l2.3 -1.5M191.1 382.5l3.0 -1.4M180.4 355.9l1.7 -1.4M177.4 417.7l3.9 -1.1M204.6 329.6l4.6 -1.8M190.8 335.5l2.9 -0.8M203.5 361.2l4.5 -1.4M156.2 399.8l2.3 -0.7M162.3 315.3l3.8 -1.1M163.1 404.2l3.2 -2.4M160.0 361.2l2.0 -0.9M224.2 398.5l1.9 -1.3M185.8 399.7l2.4 -1.8M218.8 400.8l2.1 -1.0M214.4 387.4l3.8 -1.3M221.5 383.6l3.8 -2.8M160.9 344.1l3.3 -1.5M211.8 412.1l3.9 -1.9M171.8 326.6l3.2 -2.2M182.9 411.5l2.2 -1.7M187.8 349.2l3.7 -2.1M191.7 378.6l3.6 -2.8M160.0 326.6l3.1 -1.0M164.0 413.6l2.6 -1.7M219.3 423.9l2.4 -1.1M160.8 315.3l2.9 -1.1M172.2 401.8l2.2 -1.4M194.9 397.4l3.7 -2.4M167.6 314.6l3.6 -1.8M178.9 395.1l1.8 -1.0M159.5 423.9l4.6 -1.6M215.9 374.8l2.1 -1.3M187.5 323.5l4.1 -1.4" stroke="#e6d0c4" stroke-width="1.0" stroke-linecap="round" fill="none"/><path d="M182.6 370.3l3.6 -2.2M166.7 317.7l2.5 -1.8M195.1 363.1l3.2 -2.3M190.9 388.0l3.2 -1.5M163.9 421.2l1.9 -1.1M163.5 338.7l1.7 -1.2M221.7 337.6l2.1 -1.0M202.5 375.3l2.2 -1.7M218.1 362.8l2.9 -0.9M217.7 389.6l3.0 -1.2M191.8 360.6l2.7 -0.9M169.9 418.7l2.0 -1.0M222.1 360.1l2.6 -1.2M190.4 346.6l3.7 -2.9M191.3 390.0l3.0 -1.0M154.7 402.8l2.4 -1.5M173.2 322.4l4.3 -1.9M154.5 327.1l4.1 -1.1M193.6 398.7l4.0 -1.9M175.7 328.6l2.2 -0.7M181.6 320.3l2.6 -1.4M184.4 332.9l4.0 -1.9M224.0 386.6l2.6 -2.0M191.6 327.2l1.9 -1.0M223.8 401.8l1.8 -1.5M176.5 395.2l2.4 -1.1M223.2 326.0l3.5 -2.8M222.6 317.5l3.3 -1.0M189.3 343.8l3.6 -1.0M216.2 335.6l3.9 -1.6M200.1 328.3l4.0 -2.1M170.7 415.9l3.3 -1.9M193.6 376.8l4.0 -1.8M152.1 368.5l2.8 -1.8M213.0 336.7l4.1 -1.5M207.1 335.5l2.3 -1.0M213.5 343.1l3.6 -1.3M198.1 360.7l2.4 -1.2M176.3 375.9l3.9 -3.0M205.9 330.6l3.4 -1.5M184.5 319.7l4.0 -2.6M179.3 394.5l2.4 -0.8M153.3 408.4l4.0 -1.7M201.4 333.4l2.6 -1.0M186.9 392.7l1.9 -1.1M170.4 415.9l4.5 -1.9M217.9 378.9l3.3 -2.6M218.1 396.0l2.5 -1.3M205.5 406.7l4.0 -2.0M209.1 373.7l2.2 -0.9M164.2 381.3l3.1 -1.1M204.0 417.1l4.7 -1.5M222.6 409.2l2.4 -0.8M157.8 333.3l2.5 -0.8M211.0 412.9l1.7 -1.4M194.1 410.3l4.1 -1.3M171.5 398.9l1.9 -1.5M190.6 368.5l3.3 -1.2M214.3 313.9l2.7 -1.7M176.0 416.3l3.4 -1.1" stroke="#ead6ca" stroke-width="1.0" stroke-linecap="round" fill="none"/><path d="M198.6 386.9l1.1 -0.4M158.4 370.2l0.7 -1.0M190.3 409.3l0.7 -1.0M163.1 413.2l1.1 -0.4M217.4 361.0l1.0 -0.7M217.7 351.2l1.1 -0.4M175.1 390.0l0.7 -1.0M174.1 343.8l0.8 -0.9M165.1 409.8l0.6 -1.1M207.0 384.2l1.1 -0.4M160.1 396.3l0.6 -1.0M193.3 330.2l1.0 -0.6M178.3 396.3l0.7 -1.0M214.7 368.5l1.1 -0.4M182.0 411.3l1.1 -0.5M177.6 365.5l1.0 -0.7M199.9 386.7l1.0 -0.7M158.9 404.6l0.7 -1.0M156.8 417.2l1.0 -0.6M154.8 322.9l1.0 -0.7M165.1 400.2l0.6 -1.0M223.6 387.7l1.2 -0.3M225.2 350.0l1.2 -0.3M210.7 400.5l0.9 -0.8M207.7 350.2l0.8 -0.9M154.3 370.0l1.1 -0.5M220.0 404.0l1.2 -0.3M207.6 367.5l0.8 -0.9M174.8 414.1l1.1 -0.4M196.2 343.8l0.7 -0.9M195.5 374.5l1.1 -0.5M218.3 369.0l1.1 -0.6M209.1 343.1l1.2 -0.3M173.2 353.6l0.6 -1.0M196.7 342.9l0.9 -0.8M169.4 402.8l1.2 -0.3M186.2 413.6l0.8 -0.9M197.4 396.9l0.8 -0.9M211.5 372.7l1.1 -0.6M191.8 404.2l0.6 -1.0M152.2 373.6l1.1 -0.5M209.6 382.6l0.9 -0.8M184.1 416.2l0.9 -0.7M186.6 421.0l0.8 -0.9M162.7 399.3l0.7 -1.0M199.2 384.8l1.1 -0.5M175.9 344.1l1.0 -0.7M191.3 401.8l0.6 -1.0M206.8 412.9l1.1 -0.4M186.2 419.6l1.2 -0.3M177.1 327.0l1.2 -0.1M222.8 403.7l0.8 -0.9M207.3 369.5l0.6 -1.0M225.1 380.3l1.1 -0.4M181.1 349.3l0.9 -0.7M185.8 373.3l1.1 -0.5M182.1 363.4l1.0 -0.6M157.3 314.1l1.2 -0.2M215.4 363.9l0.9 -0.8M224.6 335.7l0.6 -1.0M155.8 343.3l0.8 -0.9M183.7 370.9l1.0 -0.7M212.7 417.0l1.2 -0.3M175.4 397.2l0.5 -1.1M152.7 368.7l0.8 -0.9M158.5 369.4l1.2 -0.3M220.4 375.8l0.8 -0.9M218.8 347.7l1.1 -0.5M211.4 420.5l0.8 -0.9M171.2 422.1l1.2 -0.2M197.2 337.2l0.8 -0.9M189.5 369.4l1.2 -0.3M165.3 398.2l0.8 -0.9M162.5 418.2l1.1 -0.5M181.5 321.8l0.7 -1.0M161.0 359.7l0.5 -1.1M188.7 405.9l1.1 -0.5M157.4 382.0l0.7 -1.0M172.9 409.5l1.0 -0.7M208.6 351.6l1.1 -0.5M189.2 371.8l0.9 -0.8M208.0 406.7l1.2 -0.2M177.0 396.3l1.1 -0.4M156.1 400.6l1.0 -0.7M158.3 388.5l1.1 -0.4M161.7 334.1l0.4 -1.1M195.7 351.8l0.6 -1.1M173.9 339.0l0.9 -0.8M174.1 363.5l1.2 -0.2M152.8 404.0l1.2 -0.1M181.3 360.6l0.9 -0.8M190.5 375.4l1.0 -0.6M185.7 336.6l0.9 -0.8M158.9 377.2l1.2 -0.3M160.1 380.8l1.2 -0.2M186.4 381.0l0.6 -1.0M197.8 314.5l0.7 -1.0M200.7 380.8l1.0 -0.7M169.4 346.6l0.7 -1.0M182.8 389.1l0.5 -1.1M214.1 361.4l1.1 -0.5M177.5 362.3l0.8 -0.9M164.7 342.3l0.8 -0.9M186.9 330.9l0.7 -1.0M204.9 323.3l1.0 -0.6M182.2 408.3l1.1 -0.3M222.0 360.8l0.5 -1.1M223.7 332.5l1.2 -0.1M171.5 327.5l1.2 -0.3M194.7 388.3l0.8 -0.9M190.7 380.2l1.2 -0.3M204.7 350.0l0.7 -1.0M194.6 399.9l1.2 -0.2" stroke="#b0acd2" stroke-width="0.9" stroke-linecap="round" fill="none"/><path d="M209.6 338.5l0.7 -1.0M155.3 343.2l0.9 -0.8M211.1 333.2l1.1 -0.5M203.7 421.7l1.0 -0.7M163.2 394.0l0.4 -1.1M211.7 363.4l1.0 -0.7M222.5 388.8l0.8 -0.9M169.4 323.9l1.0 -0.6M158.4 355.9l0.5 -1.1M209.4 379.5l0.9 -0.8M180.5 366.0l1.0 -0.6M203.3 397.7l1.1 -0.5M199.2 418.9l0.8 -0.8M157.3 418.5l1.2 -0.1M203.5 316.2l0.7 -0.9M185.8 368.8l0.5 -1.1M192.2 318.7l1.1 -0.5M210.8 338.4l0.4 -1.1M212.8 346.4l1.1 -0.5M178.0 355.4l0.9 -0.8M170.8 368.0l1.1 -0.4M186.2 314.5l0.8 -0.9M209.3 321.7l1.1 -0.5M171.8 363.8l0.5 -1.1M174.9 412.1l0.4 -1.1M215.5 328.7l0.9 -0.8M176.7 345.1l0.7 -1.0M216.8 409.6l0.9 -0.7M160.2 390.0l0.6 -1.0M193.0 321.3l0.5 -1.1M164.7 400.1l0.9 -0.7M188.5 318.2l1.1 -0.4M154.8 420.1l1.2 -0.2M164.7 373.4l0.6 -1.0M157.7 394.0l1.0 -0.6M160.0 344.7l1.1 -0.4M178.4 392.7l0.6 -1.1M191.4 334.8l0.5 -1.1M207.3 322.3l0.9 -0.8M211.6 324.9l1.1 -0.5M211.5 381.4l0.8 -0.9M169.4 392.2l1.0 -0.7M191.9 364.1l1.1 -0.4M203.1 399.3l0.5 -1.1M166.0 388.4l1.0 -0.7M183.4 360.2l1.2 -0.2M186.1 388.5l0.5 -1.1M203.1 316.7l1.0 -0.6M166.5 340.7l0.4 -1.1M152.7 377.9l0.9 -0.8M190.6 332.4l1.0 -0.7M192.8 321.5l1.1 -0.4M210.9 409.1l0.5 -1.1M200.3 314.0l1.1 -0.4M160.8 335.4l0.7 -1.0M223.4 391.6l0.9 -0.7M169.9 350.2l1.2 -0.2M189.2 355.8l0.8 -0.9M186.7 362.2l1.1 -0.6M179.0 420.6l0.9 -0.8M202.4 416.4l1.1 -0.6M170.0 371.4l0.6 -1.1M210.8 361.0l0.5 -1.1M186.9 315.9l1.0 -0.7M185.4 397.5l1.2 -0.1M172.7 420.6l0.5 -1.1M181.1 396.2l1.1 -0.5M164.3 322.3l0.7 -1.0M222.8 412.3l1.1 -0.5M196.0 353.4l1.1 -0.5M194.8 347.6l0.8 -0.9M163.9 380.0l1.2 -0.2M194.4 405.7l1.2 -0.3M184.1 409.5l1.2 -0.3M207.3 355.8l1.2 -0.3M217.1 353.7l0.8 -0.9M217.2 332.4l1.0 -0.6M182.0 377.6l0.6 -1.0M152.8 379.4l1.2 -0.2M216.4 399.0l0.7 -1.0M180.7 333.9l1.1 -0.5M210.9 333.5l1.0 -0.6M183.2 391.0l1.1 -0.4M208.9 349.7l1.2 -0.2M191.0 331.9l1.0 -0.7M176.2 372.2l0.6 -1.0M194.9 358.9l1.0 -0.6" stroke="#a4a2cc" stroke-width="0.9" stroke-linecap="round" fill="none"/><path d="M155.6 409.6l0.9 -0.8M179.3 358.6l1.2 -0.2M202.8 373.5l0.9 -0.8M166.6 330.9l0.6 -1.0M162.4 416.0l0.4 -1.1M195.8 367.0l0.7 -1.0M158.9 352.2l1.1 -0.4M152.7 376.3l0.9 -0.8M209.4 354.9l0.7 -1.0M161.0 341.0l0.9 -0.8M218.7 339.9l1.0 -0.6M183.4 376.8l1.0 -0.7M215.8 388.2l1.1 -0.5M195.7 403.2l0.4 -1.1M205.3 356.7l1.2 -0.2M219.3 356.2l0.9 -0.8M187.7 395.0l1.2 -0.3M171.2 388.7l1.1 -0.6M160.1 382.3l1.2 -0.2M160.8 338.2l1.1 -0.5M152.4 347.9l0.4 -1.1M189.6 371.7l0.9 -0.8M176.6 378.2l1.1 -0.6M162.0 333.8l0.5 -1.1M198.2 354.0l1.2 -0.1M167.8 352.4l1.2 -0.2M165.9 401.0l0.9 -0.8M187.9 353.1l1.2 -0.1M185.8 345.4l0.7 -1.0M223.3 339.9l1.1 -0.5M220.8 325.3l0.6 -1.0M216.8 379.6l1.1 -0.5M169.4 369.7l0.7 -0.9M178.8 382.8l0.9 -0.8M177.9 355.1l1.2 -0.1M163.9 379.3l0.8 -0.9M205.0 337.7l1.1 -0.3M184.7 362.3l1.0 -0.7M217.9 325.9l0.4 -1.1M152.5 403.1l0.6 -1.0M155.6 345.5l0.9 -0.8M189.1 373.9l0.8 -0.9M166.6 324.6l0.9 -0.8M177.9 325.9l1.1 -0.5M162.4 348.0l1.1 -0.5M175.1 313.9l0.8 -0.9M218.4 347.3l0.5 -1.1M194.8 408.7l1.1 -0.5M190.7 316.7l1.0 -0.6M221.7 315.8l1.1 -0.4M179.9 403.6l0.6 -1.0M170.3 317.3l0.6 -1.0M153.4 415.8l1.0 -0.7M205.5 418.3l1.2 -0.3M197.7 350.4l0.6 -1.0M194.8 408.5l1.2 -0.3M152.9 423.0l1.0 -0.7M194.0 375.3l0.9 -0.8M167.7 367.5l1.1 -0.4M177.2 356.3l1.2 -0.2M197.9 421.2l0.8 -0.9M198.7 415.7l1.2 -0.2M208.2 378.1l1.1 -0.5M180.3 363.0l1.0 -0.6M190.3 350.0l1.0 -0.6M180.2 406.8l1.2 -0.3M214.2 315.2l1.1 -0.5M210.3 319.8l1.1 -0.4M222.2 314.7l1.2 -0.2M200.9 423.2l0.9 -0.8M196.2 333.2l0.5 -1.1M189.1 314.7l0.9 -0.8M186.0 332.4l1.1 -0.4M176.0 329.3l0.7 -1.0M182.1 386.2l0.7 -1.0M212.5 370.8l1.1 -0.5M219.4 331.8l0.5 -1.1M220.0 394.0l0.5 -1.1M200.5 364.5l0.6 -1.1M213.3 352.5l0.7 -0.9M166.1 414.9l1.0 -0.7M165.1 380.6l0.6 -1.0M198.8 421.9l0.6 -1.1M152.3 385.9l0.9 -0.8M184.6 357.9l0.7 -1.0M181.8 362.8l0.5 -1.1M165.1 336.5l1.0 -0.7M217.2 321.8l1.0 -0.7M200.6 385.4l0.4 -1.1M167.3 363.9l0.4 -1.1M223.1 379.0l1.1 -0.5M198.9 373.1l0.5 -1.1M159.9 384.0l0.7 -0.9M154.2 335.4l0.7 -0.9M211.4 422.1l0.8 -0.9M213.7 368.3l1.1 -0.4M180.4 373.9l0.7 -1.0M180.8 395.4l0.9 -0.8M215.9 421.0l1.1 -0.5M161.3 359.1l1.1 -0.4" stroke="#9894c4" stroke-width="0.9" stroke-linecap="round" fill="none"/><path d="M197.3 377.4l1.6 -0.8M179.3 325.3l1.4 -0.9M177.1 398.6l1.1 -0.7M205.7 333.4l1.4 -1.5M174.4 343.5l2.6 -1.9M202.3 396.1l0.7 -0.5M201.9 407.3l1.0 -0.3M197.8 360.0l1.3 -1.1M194.9 397.5l0.4 -0.3M185.5 409.9l1.1 -0.8M159.4 317.6l1.1 -0.3M192.1 341.0l2.3 -2.2M190.4 346.1l2.0 -1.6M219.0 415.2l1.5 -0.5M191.5 338.1l1.4 -1.3M216.7 406.4l0.5 -0.3M214.6 349.4l1.4 -0.4" stroke="#ac6634" stroke-width="1.1" stroke-linecap="round" fill="none"/><path d="M192.8 356.0l1.0 -0.4M195.9 360.3l0.3 -0.2M214.2 404.6l0.7 -0.4M168.4 314.3l0.9 -1.0M154.3 330.9l0.4 -0.1M214.8 344.2l1.1 -0.8M157.3 416.3l1.1 -0.5M179.3 334.0l2.2 -1.5M160.5 322.6l0.9 -0.4M210.1 343.7l1.4 -1.5M200.2 334.1l1.3 -0.6M217.0 334.7l1.1 -0.4M154.8 402.6l0.4 -0.2M156.1 383.6l1.2 -0.6M215.9 410.0l1.0 -0.6M165.6 368.3l1.0 -0.5M182.6 326.8l2.6 -1.1M222.2 323.4l0.5 -0.3M206.5 364.5l0.4 -0.3M211.7 336.0l2.7 -0.8M153.4 333.0l0.6 -0.6M182.0 409.0l0.8 -1.0" stroke="#8a4820" stroke-width="1.1" stroke-linecap="round" fill="none"/><path d="M163.2 383.6l1.1 -0.5M190.0 404.1l0.4 -0.4M180.3 326.0l2.5 -0.7M206.8 329.4l2.7 -1.4M184.7 324.7l2.0 -1.3M189.7 367.1l1.3 -1.4M168.7 324.6l1.1 -0.4M196.7 329.6l0.9 -0.5M207.0 385.9l1.8 -0.7M153.3 332.7l1.7 -0.6M216.8 340.8l1.4 -0.7M184.8 373.5l1.1 -0.7M158.5 318.3l1.9 -0.9M188.5 342.9l1.3 -0.5M178.0 331.3l1.1 -1.3M215.6 388.9l0.7 -0.8M224.7 383.7l0.8 -0.4" stroke="#c08058" stroke-width="0.9" stroke-linecap="round" fill="none"/><path d="M200.2 354.8l1.3 -0.8M185.8 335.4l2.6 -1.9M173.1 317.3l1.4 -1.3M220.3 343.8l1.4 -0.6M159.5 387.6l1.1 -1.2M182.8 326.7l2.6 -1.9M221.6 314.7l0.8 -0.6M215.3 402.4l0.9 -0.4M194.4 345.8l1.1 -1.1M209.7 375.3l0.7 -0.6M164.7 370.2l1.0 -0.9M169.7 392.5l1.4 -0.7M211.6 413.3l1.5 -1.1M153.6 390.0l0.7 -0.2M169.3 397.9l1.3 -0.4M218.9 399.0l1.4 -0.4M157.9 347.6l1.9 -0.8M190.3 349.9l1.5 -1.0" stroke="#b87048" stroke-width="0.9" stroke-linecap="round" fill="none"/><path d="M192.2 334.6l3.0 -2.3M186.0 333.8l2.0 -0.9M207.7 368.8l1.8 -0.9M162.4 380.7l0.8 -0.4M167.0 324.8l2.6 -1.1M192.5 413.6l0.9 -0.9M173.1 369.8l1.0 -1.0M186.2 331.5l3.2 -1.2M198.1 328.5l2.4 -1.8M179.9 342.9l1.5 -1.5M198.7 416.5l1.1 -1.3M158.3 411.4l0.8 -0.3M186.5 355.1l1.4 -1.4M158.2 331.5l1.8 -0.8M197.8 321.7l1.1 -0.7M191.3 344.8l2.2 -1.2M185.5 327.4l1.8 -0.8M178.5 332.4l2.0 -1.0M163.9 323.6l1.8 -0.7M221.8 419.6l1.5 -0.9M216.7 342.9l1.4 -0.5" stroke="#ca9878" stroke-width="0.7" stroke-linecap="round" fill="none"/><path d="M210.0 354.7l0.7 -0.5M217.1 410.5l1.2 -0.8M218.4 364.8l0.4 -0.4M191.3 337.2l1.3 -1.0M166.2 330.4l0.4 -0.3M183.6 340.6l2.4 -0.7M197.8 413.5l1.0 -0.3M210.3 365.4l0.5 -0.2M198.4 338.8l1.7 -0.8M181.5 315.4l1.6 -1.7M184.8 419.9l0.3 -0.1M182.0 407.0l1.1 -0.6M173.9 361.7l0.4 -0.4M224.6 315.5l0.4 -0.4M206.7 373.1l0.3 -0.2M203.1 333.9l1.2 -0.9" stroke="#9a5428" stroke-width="0.7" stroke-linecap="round" fill="none"/><path d="M183.4 371.3l1.0 -1.1M182.4 422.1l1.4 -1.5M165.8 389.9l0.7 -0.2M188.2 363.3l1.6 -1.2M196.0 399.8l0.3 -0.2M164.7 316.4l1.1 -0.3M201.5 321.6l1.2 -0.6M198.6 328.2l1.5 -1.6M169.6 324.1l1.3 -1.3M176.8 348.3l1.9 -0.8M222.6 412.2l0.9 -0.3M175.1 338.1l1.5 -0.5M220.9 400.3l0.4 -0.4M211.6 392.3l1.2 -0.8M172.4 422.2l0.9 -0.3M200.9 326.6l1.9 -1.2M176.3 394.7l1.2 -0.5" stroke="#ca9878" stroke-width="1.1" stroke-linecap="round" fill="none"/><path d="M172.9 332.4l1.4 -0.4M160.8 409.5l0.5 -0.5M164.3 320.1l1.4 -0.9M193.7 317.1l0.7 -0.4M170.4 420.1l1.0 -0.7M179.5 352.8l1.1 -1.2M158.5 336.0l1.5 -1.1M218.1 390.5l1.5 -0.6M156.5 365.2l1.2 -0.7M187.9 339.7l1.8 -1.3M157.7 351.4l1.2 -0.8M208.2 342.1l1.6 -1.3M165.8 363.8l1.3 -1.1M200.9 321.0l1.2 -1.2M190.8 336.7l2.4 -0.8M151.7 401.5l0.3 -0.1M198.2 345.2l1.0 -0.8" stroke="#ca9878" stroke-width="0.9" stroke-linecap="round" fill="none"/><path d="M158.4 405.8l0.6 -0.3M219.2 386.5l1.0 -0.8M172.7 315.3l0.7 -0.7M207.5 337.4l0.8 -1.0M193.3 315.8l0.6 -0.6M160.4 351.6l1.8 -0.5M170.3 363.2l1.5 -0.5M169.4 381.8l0.3 -0.2M154.3 419.2l0.7 -0.3M194.1 339.2l0.8 -0.7M183.9 402.4l0.5 -0.2" stroke="#8a4820" stroke-width="0.9" stroke-linecap="round" fill="none"/><path d="M157.3 320.3l1.0 -0.6M201.2 401.2l1.5 -0.9M200.5 378.2l1.6 -0.7M204.9 346.1l1.8 -1.1M215.7 381.6l1.9 -0.6M165.7 361.1l1.5 -0.6M221.4 360.7l1.1 -0.8M176.9 319.2l0.8 -0.9M192.3 415.1l1.3 -0.9M208.0 387.0l0.3 -0.2M202.1 336.9l1.5 -1.6M159.9 315.0l0.9 -0.9M211.5 344.9l1.2 -1.0M197.2 317.7l1.7 -1.0M159.0 351.3l1.5 -0.8M213.5 320.2l0.7 -0.4M155.0 322.8l1.0 -0.8M171.6 342.0l2.2 -2.2M176.3 335.7l1.4 -0.6" stroke="#9a5428" stroke-width="1.1" stroke-linecap="round" fill="none"/><path d="M174.5 326.6l2.1 -0.7M159.3 322.7l1.4 -0.4M177.7 347.9l1.0 -0.5M189.1 335.8l1.8 -1.9M218.0 324.5l0.8 -0.7M204.1 339.5l1.6 -0.9M177.9 418.2l1.4 -1.4M182.4 340.4l3.5 -1.6M195.5 342.0l2.5 -0.8M185.1 411.3l1.0 -1.0M197.4 356.8l0.9 -0.9M157.7 317.7l1.6 -0.8M158.0 396.6l0.4 -0.2M181.7 389.2l1.1 -0.7M206.6 326.4l1.5 -0.8" stroke="#ac6634" stroke-width="0.7" stroke-linecap="round" fill="none"/><path d="M175.1 373.8l1.3 -0.7M168.1 342.2l0.4 -0.4M178.0 383.5l1.4 -1.2M207.9 331.5l0.3 -0.3M221.6 384.9l0.3 -0.3M179.3 414.4l1.2 -1.0M182.4 323.8l2.8 -2.3M196.7 343.4l1.7 -0.5M176.9 335.7l2.5 -2.7M192.2 324.6l0.8 -0.9M172.3 334.1l2.4 -0.8M224.7 352.0l0.4 -0.5M166.2 397.3l0.6 -0.6M175.7 338.2l2.2 -1.8M168.2 332.7l3.0 -1.4M210.1 337.4l1.0 -0.8M206.2 420.1l1.2 -0.6" stroke="#8a4820" stroke-width="0.7" stroke-linecap="round" fill="none"/><path d="M205.3 368.5l1.2 -1.2M206.5 409.1l1.7 -0.7M190.8 355.0l0.7 -0.5M157.8 421.0l0.3 -0.1M186.8 372.9l1.3 -0.4M169.0 315.3l0.9 -0.5M202.6 399.3l1.0 -0.3M194.2 335.7l1.8 -1.6M189.7 358.5l0.9 -0.3M164.1 348.1l1.7 -0.9M194.2 314.1l1.3 -0.9M210.1 392.5l1.4 -0.8M208.9 367.7l0.5 -0.5M222.9 355.2l1.4 -0.8" stroke="#c08058" stroke-width="1.1" stroke-linecap="round" fill="none"/><path d="M207.2 325.4l1.9 -1.5M204.4 388.3l0.9 -0.3M197.5 320.0l0.8 -0.4M183.2 408.3l0.8 -0.3M201.0 352.3l1.0 -0.6M205.9 391.4l1.4 -0.9M159.9 374.5l1.1 -1.2M195.0 371.3l1.2 -1.0M179.1 346.5l2.1 -0.8M166.3 358.1l0.6 -0.3M161.0 340.4l1.5 -0.7M177.1 334.3l0.8 -0.8M187.1 328.1l1.5 -0.5M152.3 319.0l1.2 -1.2M215.2 314.7l0.7 -0.5M189.0 326.6l2.2 -0.8M162.8 413.0l0.6 -0.4M192.8 343.3l2.4 -0.7" stroke="#c08058" stroke-width="0.7" stroke-linecap="round" fill="none"/><path d="M201.6 421.6l0.9 -1.0M198.9 323.7l1.3 -1.0M185.5 336.2l0.8 -0.8M204.6 349.9l0.7 -0.5M164.6 422.5l0.9 -0.5M151.6 364.1l1.0 -1.0M176.7 332.1l2.9 -1.5M201.9 335.5l2.1 -1.3M208.4 336.1l0.4 -0.3M177.0 327.6l2.2 -0.8M164.3 335.0l1.8 -1.5M181.6 325.9l2.2 -2.1M220.3 351.6l1.1 -1.2M183.9 339.2l1.2 -0.9M195.9 333.6l2.5 -1.3M218.0 402.0l1.2 -1.0M167.7 332.6l2.0 -1.0M202.8 421.4l0.4 -0.1M182.4 397.0l1.5 -0.9" stroke="#b87048" stroke-width="1.1" stroke-linecap="round" fill="none"/><path d="M184.5 421.8l1.6 -0.5M191.4 336.6l0.8 -0.7M169.4 373.4l0.4 -0.3M175.8 341.1l2.1 -1.3M176.6 332.1l1.4 -0.8M181.3 413.0l1.2 -1.3M171.1 336.4l1.7 -0.5M195.5 333.9l1.0 -1.1M161.9 339.8l1.9 -1.5M184.6 353.6l0.5 -0.4M177.1 315.7l0.9 -0.2M208.5 357.4l1.2 -1.0M198.4 366.3l0.8 -0.3" stroke="#ac6634" stroke-width="0.9" stroke-linecap="round" fill="none"/><path d="M170.0 327.5l1.0 -0.9M184.5 340.1l2.9 -2.5M192.7 332.7l1.9 -0.8M183.3 321.9l1.3 -1.1M220.3 399.0l0.6 -0.4M155.9 338.9l0.4 -0.2M176.9 416.9l1.1 -0.4M199.4 397.2l0.3 -0.2M181.0 386.2l0.6 -0.2M168.0 347.8l0.7 -0.6M163.8 392.1l1.5 -1.1M175.2 398.0l1.2 -0.6M202.5 344.9l0.8 -0.4M161.1 380.4l0.5 -0.5M193.0 333.1l2.3 -0.7M173.4 358.1l1.5 -0.5M182.1 331.2l3.4 -1.6M220.9 362.3l0.6 -0.6" stroke="#b87048" stroke-width="0.7" stroke-linecap="round" fill="none"/><path d="M169.0 339.8l0.9 -1.0M153.9 372.4l0.7 -0.4M158.8 376.0l1.3 -0.8M221.7 352.0l0.7 -0.8M225.2 393.9l1.2 -1.3M211.4 369.9l1.2 -1.2M184.1 416.5l1.2 -1.5M223.0 335.4l2.0 -0.8M206.5 384.0l0.2 -0.2M198.5 358.4l0.7 -0.6M205.3 333.9l1.1 -0.7" stroke="#9a5428" stroke-width="0.9" stroke-linecap="round" fill="none"/></g>
</g>
<clipPath id="h2"><rect x="227.8" y="314" width="74.2" height="110"/></clipPath>
<g clip-path="url(#h2)"><g filter="url(#bl3)"><rect x="213.0" y="300.2" width="15.1" height="14.1" fill="rgb(236,222,212)"/><rect x="227.8" y="300.2" width="15.1" height="14.1" fill="rgb(236,222,212)"/><rect x="242.6" y="300.2" width="15.1" height="14.1" fill="rgb(236,222,212)"/><rect x="257.5" y="300.2" width="15.1" height="14.1" fill="rgb(238,226,216)"/><rect x="272.3" y="300.2" width="15.1" height="14.1" fill="rgb(236,222,214)"/><rect x="287.2" y="300.2" width="15.1" height="14.1" fill="rgb(234,220,214)"/><rect x="302.0" y="300.2" width="15.1" height="14.1" fill="rgb(234,220,214)"/><rect x="213.0" y="314.0" width="15.1" height="14.1" fill="rgb(236,222,212)"/><rect x="227.8" y="314.0" width="15.1" height="14.1" fill="rgb(236,222,212)"/><rect x="242.6" y="314.0" width="15.1" height="14.1" fill="rgb(236,222,212)"/><rect x="257.5" y="314.0" width="15.1" height="14.1" fill="rgb(238,226,216)"/><rect x="272.3" y="314.0" width="15.1" height="14.1" fill="rgb(236,222,214)"/><rect x="287.2" y="314.0" width="15.1" height="14.1" fill="rgb(234,220,214)"/><rect x="302.0" y="314.0" width="15.1" height="14.1" fill="rgb(234,220,214)"/><rect x="213.0" y="327.8" width="15.1" height="14.1" fill="rgb(236,220,210)"/><rect x="227.8" y="327.8" width="15.1" height="14.1" fill="rgb(236,220,210)"/><rect x="242.6" y="327.8" width="15.1" height="14.1" fill="rgb(240,226,216)"/><rect x="257.5" y="327.8" width="15.1" height="14.1" fill="rgb(240,228,218)"/><rect x="272.3" y="327.8" width="15.1" height="14.1" fill="rgb(236,222,214)"/><rect x="287.2" y="327.8" width="15.1" height="14.1" fill="rgb(234,220,214)"/><rect x="302.0" y="327.8" width="15.1" height="14.1" fill="rgb(234,220,214)"/><rect x="213.0" y="341.5" width="15.1" height="14.1" fill="rgb(236,222,212)"/><rect x="227.8" y="341.5" width="15.1" height="14.1" fill="rgb(236,222,212)"/><rect x="242.6" y="341.5" width="15.1" height="14.1" fill="rgb(238,224,216)"/><rect x="257.5" y="341.5" width="15.1" height="14.1" fill="rgb(240,228,220)"/><rect x="272.3" y="341.5" width="15.1" height="14.1" fill="rgb(236,222,216)"/><rect x="287.2" y="341.5" width="15.1" height="14.1" fill="rgb(234,220,216)"/><rect x="302.0" y="341.5" width="15.1" height="14.1" fill="rgb(234,220,216)"/><rect x="213.0" y="355.2" width="15.1" height="14.1" fill="rgb(236,222,214)"/><rect x="227.8" y="355.2" width="15.1" height="14.1" fill="rgb(236,222,214)"/><rect x="242.6" y="355.2" width="15.1" height="14.1" fill="rgb(236,222,216)"/><rect x="257.5" y="355.2" width="15.1" height="14.1" fill="rgb(236,222,218)"/><rect x="272.3" y="355.2" width="15.1" height="14.1" fill="rgb(234,220,218)"/><rect x="287.2" y="355.2" width="15.1" height="14.1" fill="rgb(234,220,218)"/><rect x="302.0" y="355.2" width="15.1" height="14.1" fill="rgb(234,220,218)"/><rect x="213.0" y="369.0" width="15.1" height="14.1" fill="rgb(236,222,214)"/><rect x="227.8" y="369.0" width="15.1" height="14.1" fill="rgb(236,222,214)"/><rect x="242.6" y="369.0" width="15.1" height="14.1" fill="rgb(234,220,218)"/><rect x="257.5" y="369.0" width="15.1" height="14.1" fill="rgb(232,218,220)"/><rect x="272.3" y="369.0" width="15.1" height="14.1" fill="rgb(232,218,220)"/><rect x="287.2" y="369.0" width="15.1" height="14.1" fill="rgb(232,218,220)"/><rect x="302.0" y="369.0" width="15.1" height="14.1" fill="rgb(232,218,220)"/><rect x="213.0" y="382.8" width="15.1" height="14.1" fill="rgb(236,222,214)"/><rect x="227.8" y="382.8" width="15.1" height="14.1" fill="rgb(236,222,214)"/><rect x="242.6" y="382.8" width="15.1" height="14.1" fill="rgb(234,220,218)"/><rect x="257.5" y="382.8" width="15.1" height="14.1" fill="rgb(232,218,220)"/><rect x="272.3" y="382.8" width="15.1" height="14.1" fill="rgb(232,218,220)"/><rect x="287.2" y="382.8" width="15.1" height="14.1" fill="rgb(232,218,220)"/><rect x="302.0" y="382.8" width="15.1" height="14.1" fill="rgb(232,218,220)"/><rect x="213.0" y="396.5" width="15.1" height="14.1" fill="rgb(236,222,212)"/><rect x="227.8" y="396.5" width="15.1" height="14.1" fill="rgb(236,222,212)"/><rect x="242.6" y="396.5" width="15.1" height="14.1" fill="rgb(234,216,208)"/><rect x="257.5" y="396.5" width="15.1" height="14.1" fill="rgb(232,218,218)"/><rect x="272.3" y="396.5" width="15.1" height="14.1" fill="rgb(234,220,218)"/><rect x="287.2" y="396.5" width="15.1" height="14.1" fill="rgb(234,222,220)"/><rect x="302.0" y="396.5" width="15.1" height="14.1" fill="rgb(234,222,220)"/><rect x="213.0" y="410.2" width="15.1" height="14.1" fill="rgb(236,222,214)"/><rect x="227.8" y="410.2" width="15.1" height="14.1" fill="rgb(236,222,214)"/><rect x="242.6" y="410.2" width="15.1" height="14.1" fill="rgb(234,220,214)"/><rect x="257.5" y="410.2" width="15.1" height="14.1" fill="rgb(234,220,216)"/><rect x="272.3" y="410.2" width="15.1" height="14.1" fill="rgb(240,230,224)"/><rect x="287.2" y="410.2" width="15.1" height="14.1" fill="rgb(240,232,226)"/><rect x="302.0" y="410.2" width="15.1" height="14.1" fill="rgb(240,232,226)"/><rect x="213.0" y="424.0" width="15.1" height="14.1" fill="rgb(236,222,214)"/><rect x="227.8" y="424.0" width="15.1" height="14.1" fill="rgb(236,222,214)"/><rect x="242.6" y="424.0" width="15.1" height="14.1" fill="rgb(234,220,214)"/><rect x="257.5" y="424.0" width="15.1" height="14.1" fill="rgb(234,220,216)"/><rect x="272.3" y="424.0" width="15.1" height="14.1" fill="rgb(240,230,224)"/><rect x="287.2" y="424.0" width="15.1" height="14.1" fill="rgb(240,232,226)"/><rect x="302.0" y="424.0" width="15.1" height="14.1" fill="rgb(240,232,226)"/></g>
<g filter="url(#bs)"><path d="M280.7 360.2l2.4 -0.9M233.3 349.7l2.1 -3.4M300.1 321.2l3.3 -1.2M268.0 326.7l1.8 -1.9M289.1 332.8l4.3 -1.9M232.1 338.8l2.2 -2.0M295.3 340.5l2.6 -3.5M237.7 359.4l1.3 -2.0M295.9 350.3l2.5 -3.4M298.9 360.7l2.3 -3.2M250.6 355.1l3.5 -1.4M292.5 361.5l2.9 -3.8M254.3 338.7l2.3 -2.8M286.0 359.8l2.6 -2.7M295.4 355.9l2.7 -2.7M280.3 322.6l2.6 -2.4M248.9 345.9l1.6 -2.7M238.1 343.6l2.2 -1.6M272.6 356.1l3.0 -3.8M286.5 354.6l3.0 -4.0M249.8 366.0l3.1 -2.7M245.0 357.7l1.3 -1.9M237.2 353.8l2.6 -3.6M285.9 322.1l1.7 -2.5M254.8 367.3l2.7 -2.7M300.4 327.1l1.4 -1.9M246.9 367.9l2.1 -2.0M251.9 356.2l2.3 -2.9M253.9 342.2l2.7 -1.9M238.0 324.4l4.0 -2.0M259.8 352.7l4.1 -1.9M298.8 363.2l2.3 -3.6M229.7 329.2l2.1 -1.4M237.1 315.2l2.0 -1.7M291.0 348.6l2.3 -2.3M297.9 347.3l1.8 -2.7M229.6 328.3l3.6 -2.2M286.9 315.4l1.9 -3.3M271.6 345.3l2.7 -1.5M228.3 360.9l2.1 -2.1M255.3 360.3l2.8 -4.1M281.2 322.0l3.5 -3.2M262.4 366.6l2.5 -2.8" stroke="#e6d6ce" stroke-width="1.0" stroke-linecap="round" fill="none"/><path d="M240.4 351.5l3.9 -1.4M248.8 364.7l1.5 -1.3M301.1 320.4l3.3 -1.3M290.5 351.5l3.3 -1.2M251.3 363.2l1.2 -1.8M286.0 349.9l1.8 -2.3M267.3 327.3l2.5 -3.0M262.6 359.7l1.7 -2.2M230.6 368.4l3.7 -1.9M250.3 330.2l2.8 -1.2M275.4 314.9l2.2 -1.7M286.7 319.7l1.5 -2.1M296.0 339.4l1.8 -1.8M269.6 340.2l2.6 -1.5M282.2 326.5l1.8 -2.0M298.0 344.3l3.1 -3.7M272.1 330.1l2.4 -1.2M239.9 315.7l3.8 -2.1M275.7 342.6l1.7 -2.0M272.7 349.8l2.6 -1.6M269.3 339.7l1.9 -2.4M298.1 362.2l1.3 -2.0M267.1 348.0l3.8 -1.9M298.8 349.4l1.7 -1.6M291.8 337.9l3.0 -1.8M254.3 348.5l3.0 -1.3M228.4 355.6l1.9 -1.5M283.2 332.0l2.4 -1.3M280.5 333.4l2.8 -1.1M255.8 366.1l1.8 -1.6M271.4 349.4l2.2 -3.3M284.5 363.1l1.7 -2.1M295.7 361.4l2.3 -1.7M251.5 359.1l2.2 -2.1M256.9 360.4l1.9 -2.6M281.5 324.8l2.6 -3.9M241.9 320.2l3.6 -2.0M257.0 346.7l2.9 -2.0M252.7 362.8l1.4 -2.0M271.4 318.9l2.7 -1.3" stroke="#ece0da" stroke-width="1.0" stroke-linecap="round" fill="none"/><path d="M284.2 360.4l1.7 -1.8M272.1 322.4l3.5 -2.9M247.6 354.9l2.7 -4.0M264.7 342.8l4.1 -2.0M275.7 336.0l2.1 -2.4M256.1 355.8l2.5 -1.5M290.5 343.1l2.9 -3.7M297.1 344.6l2.2 -3.5M284.6 346.8l2.8 -2.3M246.7 350.0l2.8 -1.9M242.0 322.4l2.2 -0.9M273.9 346.0l3.0 -3.6M256.9 318.1l2.8 -1.4M245.7 364.3l2.4 -1.3M272.4 326.7l4.0 -1.6M295.1 345.7l1.8 -1.8M273.8 321.0l2.1 -1.4M238.0 328.2l2.0 -1.0M300.2 366.2l3.7 -2.6M293.5 355.2l2.1 -0.9M300.6 337.0l3.2 -1.5M295.8 367.7l2.5 -3.7M293.6 368.6l2.0 -3.3M233.2 324.0l2.1 -2.0M293.6 345.8l2.2 -3.1M300.4 335.1l3.8 -2.9M292.9 336.2l1.7 -1.1M248.9 368.7l2.3 -2.0M294.4 326.7l3.6 -2.2M236.4 322.2l2.9 -1.1M263.3 322.0l3.6 -1.5M247.3 332.1l2.4 -1.4M259.2 317.0l2.6 -1.5M242.9 329.4l2.3 -3.7M277.2 336.1l2.9 -1.7M299.8 355.9l2.7 -3.9M299.3 332.1l4.2 -2.4" stroke="#e2d0c8" stroke-width="1.0" stroke-linecap="round" fill="none"/><path d="M273.9 362.2l0.3 0.4M284.6 348.7l-0.2 0.4M279.9 408.8l-0.4 0.2M289.6 328.0l-0.2 0.4M298.6 362.6l-0.1 0.4M260.2 336.5l-0.4 0.3M265.9 415.5l0.0 0.4M292.9 365.5l-0.4 0.3M282.6 397.2l-0.3 0.3M277.2 369.0l-0.2 0.4M286.8 340.8l-0.4 0.2M281.6 421.1l0.4 0.1M246.8 367.0l0.1 0.4M292.7 328.9l0.1 0.4M275.5 422.7l0.4 0.0M269.4 364.7l0.4 0.2M291.2 405.4l0.4 0.2M280.1 377.5l0.4 0.3M253.8 334.0l0.4 0.1M256.0 419.4l-0.3 0.3M248.6 355.4l0.4 0.1M291.0 372.6l0.0 0.4M275.8 406.3l-0.4 0.2M287.2 403.5l-0.3 0.4M286.6 367.8l-0.4 0.2M268.5 326.7l0.0 0.4M239.6 331.3l0.1 0.4M272.6 320.7l-0.0 0.4M288.0 397.7l-0.2 0.4M300.4 421.3l0.3 0.3M243.4 402.0l-0.4 0.1M285.5 373.6l0.1 0.4M256.4 354.7l0.1 0.4M299.9 388.9l0.1 0.4M263.7 412.9l-0.4 0.1M257.2 362.1l0.1 0.4M264.5 398.2l-0.1 0.4M257.8 419.4l-0.1 0.4M245.1 365.6l-0.3 0.3M285.7 404.7l0.3 0.3M268.9 358.9l-0.4 0.2M269.3 375.4l-0.2 0.4M259.1 402.5l-0.4 0.2M259.4 393.2l0.3 0.4M239.7 391.4l0.4 0.1M295.7 362.6l-0.4 0.3M276.1 374.2l-0.4 0.2M252.6 398.0l0.4 0.2M275.7 413.1l0.3 0.3M262.4 375.0l0.3 0.3M245.6 384.9l0.3 0.3M256.2 421.6l0.1 0.4M300.0 355.6l0.4 0.2M300.6 412.4l-0.4 0.2M256.8 343.4l-0.4 0.2M268.3 409.9l0.1 0.4M245.6 396.1l0.4 0.0M276.9 422.0l0.4 0.0M294.3 409.2l0.1 0.4M296.5 405.0l0.3 0.4M289.0 412.4l0.4 0.0M282.7 381.2l0.3 0.3M263.8 419.6l0.2 0.4M257.3 372.8l0.1 0.4M233.9 365.9l-0.2 0.4M283.3 390.1l-0.1 0.4M248.1 381.8l0.2 0.4M261.2 391.0l-0.1 0.4M297.0 393.9l-0.1 0.4M301.0 408.6l-0.2 0.4M288.2 370.3l0.4 0.0M234.0 416.4l0.1 0.4M296.9 421.9l0.2 0.4M249.9 406.3l0.0 0.4M257.2 402.9l-0.3 0.3M301.4 379.7l-0.2 0.4M250.0 376.3l-0.4 0.2M256.6 376.3l-0.0 0.4M239.3 358.7l-0.4 0.0M276.6 329.1l-0.3 0.4M289.8 333.9l-0.1 0.4M258.7 325.5l0.4 0.2M290.1 406.9l-0.2 0.4M256.4 376.7l0.4 0.1M258.5 367.0l0.1 0.4M287.1 387.6l0.4 0.2M297.3 330.8l-0.4 0.0M276.7 396.6l-0.4 0.2M282.1 370.8l-0.2 0.4M286.2 400.2l-0.4 0.3M281.4 406.3l-0.2 0.4M267.7 383.5l0.1 0.4M244.8 377.2l-0.1 0.4M280.2 392.6l0.4 0.1M234.4 388.3l0.1 0.4M276.1 419.2l0.0 0.4M250.4 406.5l-0.4 0.1M239.0 315.0l0.4 0.3M254.1 409.9l0.4 0.3M264.5 365.3l-0.0 0.4M297.6 402.2l0.4 0.0M275.9 418.4l-0.4 0.0M247.4 382.7l-0.2 0.4M265.7 385.7l0.1 0.4M291.0 355.1l-0.4 0.3M265.1 392.1l-0.3 0.3M281.4 413.6l0.4 0.2M261.7 365.1l0.1 0.4M289.3 376.1l-0.4 0.1M274.3 412.7l-0.1 0.4M292.2 341.4l0.4 0.3M268.0 378.3l0.2 0.4M291.2 381.4l0.4 0.2M254.4 412.0l0.4 0.2M295.3 417.6l0.4 0.2M258.9 379.7l0.4 0.1M240.8 386.6l0.4 0.2M266.6 384.9l-0.3 0.3M283.1 346.2l-0.3 0.3M266.6 378.2l0.3 0.3M278.3 381.5l0.3 0.3M290.2 411.2l-0.1 0.4M254.0 410.3l-0.4 0.1M282.9 366.8l0.4 0.1M270.6 403.3l0.3 0.3M285.8 383.0l-0.3 0.3M287.2 346.7l0.4 0.1M289.2 410.3l0.2 0.4M250.7 379.9l-0.3 0.3M297.4 356.9l-0.3 0.3M259.5 363.8l-0.2 0.4M250.5 370.2l0.4 0.2M297.1 372.3l-0.1 0.4M257.4 317.4l0.3 0.4M285.4 416.5l0.3 0.4M296.1 373.2l0.3 0.3M287.1 365.8l-0.1 0.4M279.5 406.7l-0.3 0.4M229.3 404.4l-0.2 0.4M280.2 356.8l-0.4 0.0M251.7 355.9l-0.4 0.1M258.0 380.7l0.3 0.3M295.7 366.6l0.4 0.2M230.4 346.3l0.4 0.0M268.9 415.8l-0.2 0.4M270.1 414.7l-0.4 0.0M285.7 384.2l-0.0 0.4M300.6 395.7l0.4 0.1M273.5 359.8l-0.1 0.4M240.4 385.5l0.1 0.4M286.3 335.4l0.3 0.3M264.4 382.3l-0.2 0.4M281.6 409.8l0.4 0.1M256.9 393.9l0.0 0.4M261.3 348.9l-0.4 0.0M275.8 367.3l-0.0 0.4M272.4 389.1l-0.4 0.0M291.5 348.7l-0.4 0.1M258.3 370.4l0.4 0.2M281.4 348.9l0.3 0.3M249.3 362.0l-0.2 0.4M240.9 397.5l0.2 0.4M237.4 419.3l-0.2 0.4M279.4 370.2l-0.4 0.2M296.3 318.8l0.4 0.3M241.2 382.6l-0.4 0.1M245.9 417.7l0.4 0.3M298.5 417.2l0.2 0.4M298.1 356.1l-0.4 0.1M256.7 336.3l-0.4 0.1M299.5 371.8l0.4 0.3M264.4 382.7l-0.4 0.1M250.6 414.6l0.0 0.4M281.0 365.7l0.2 0.4M277.3 388.4l-0.3 0.3M292.3 330.2l-0.4 0.0M280.6 372.3l0.4 0.1M300.6 356.3l-0.1 0.4M266.5 328.5l-0.4 0.1M276.5 402.5l0.4 0.0M300.7 417.5l0.3 0.4M228.8 388.3l-0.0 0.4M282.8 411.7l0.4 0.1M275.2 382.4l0.4 0.2M275.3 393.3l0.2 0.4M284.1 414.0l0.2 0.4M262.9 369.1l0.3 0.4M243.3 361.7l-0.4 0.1M300.6 317.4l-0.2 0.4M290.2 374.7l-0.3 0.3M290.6 367.4l-0.4 0.2M245.6 386.1l-0.2 0.4M282.7 396.4l-0.1 0.4M250.1 412.3l-0.4 0.0M271.4 348.2l0.4 0.2M269.2 391.5l-0.4 0.1M282.5 399.5l-0.4 0.1M284.2 371.1l0.3 0.3M294.0 359.3l0.3 0.3M264.3 398.7l0.3 0.4M281.1 413.1l-0.3 0.3M255.8 368.9l0.2 0.4M302.0 338.7l0.4 0.0M270.6 337.8l-0.4 0.1M285.1 385.6l0.2 0.4M247.1 423.3l0.4 0.0M270.5 405.0l-0.0 0.4M255.1 402.4l0.3 0.3M241.7 379.4l0.0 0.4M281.1 402.7l-0.4 0.1M299.6 366.3l0.3 0.3M270.8 359.7l-0.4 0.1M289.4 372.1l-0.1 0.4M254.2 395.1l-0.1 0.4M266.2 407.2l-0.4 0.1M296.7 338.1l-0.3 0.3M281.2 336.2l0.4 0.2M247.5 402.6l0.4 0.0M242.1 364.7l0.4 0.1M278.5 378.6l0.4 0.0M245.0 411.3l0.4 0.2M239.9 418.4l-0.1 0.4M282.9 359.3l0.3 0.3M265.6 389.8l-0.4 0.2" stroke="#7a78b8" stroke-width="1.0" stroke-linecap="round" fill="none"/><path d="M249.4 411.1l0.4 0.1M236.9 357.1l0.4 0.2M247.4 397.6l-0.4 0.2M246.4 342.5l-0.4 0.0M263.2 364.6l-0.3 0.3M242.2 375.0l-0.4 0.2M266.7 382.9l0.3 0.3M261.7 382.6l0.1 0.4M261.0 385.2l-0.2 0.4M240.5 363.0l0.1 0.4M249.9 370.3l0.1 0.4M271.9 415.3l0.4 0.1M289.9 403.1l0.2 0.4M257.4 343.4l-0.1 0.4M297.2 370.6l0.1 0.4M293.2 416.5l-0.3 0.3M270.1 359.6l-0.4 0.1M246.3 339.7l0.1 0.4M282.0 376.7l-0.1 0.4M261.4 377.7l-0.3 0.3M298.9 367.4l-0.1 0.4M265.6 353.2l-0.4 0.2M259.6 343.9l-0.4 0.0M293.6 421.6l0.1 0.4M297.9 406.0l-0.4 0.2M298.3 357.3l0.2 0.4M281.0 324.6l0.4 0.0M265.3 383.6l0.3 0.3M266.4 413.3l-0.4 0.2M240.5 315.5l-0.3 0.3M298.4 357.7l-0.4 0.1M264.2 384.7l0.4 0.1M253.1 384.6l-0.4 0.1M285.8 412.1l-0.1 0.4M237.2 398.5l-0.4 0.1M246.2 411.0l-0.4 0.3M238.0 377.1l0.4 0.1M265.1 348.4l-0.4 0.2M249.2 414.7l0.3 0.4M246.4 373.5l0.2 0.4M273.0 384.7l0.4 0.3M280.9 378.8l0.3 0.4M251.3 394.0l0.2 0.4M268.1 396.1l0.3 0.3M242.5 374.8l-0.2 0.4M254.0 380.0l0.2 0.4M276.9 333.4l-0.4 0.2M268.2 391.7l-0.4 0.1M284.6 397.2l-0.2 0.4M262.2 386.1l0.4 0.1M267.8 423.8l0.3 0.3M281.2 356.7l0.3 0.3M299.7 349.1l-0.3 0.3M255.8 403.4l0.4 0.0M301.9 363.7l0.4 0.3M283.0 408.3l0.4 0.2M266.2 404.9l0.4 0.3M277.6 326.0l0.2 0.4M292.7 345.0l0.4 0.1M271.6 399.2l-0.1 0.4M297.6 374.8l0.4 0.2M254.0 384.4l-0.4 0.2M258.8 419.9l-0.0 0.4M263.0 335.7l-0.4 0.2M279.5 375.3l0.3 0.3M280.6 393.9l0.4 0.0M269.3 341.7l-0.1 0.4M264.6 391.3l0.3 0.3M266.0 401.8l-0.4 0.2M294.4 403.0l0.4 0.2M300.8 369.5l-0.4 0.2M293.8 314.3l0.2 0.4M292.5 392.3l-0.4 0.1M274.7 410.7l0.2 0.4M253.5 405.9l-0.3 0.3M294.1 401.2l-0.4 0.0M277.7 376.5l-0.4 0.3M292.0 410.0l-0.1 0.4M281.2 422.4l0.4 0.1M272.4 326.0l0.4 0.2M263.5 336.6l-0.4 0.1M238.7 376.2l-0.2 0.4M257.1 397.1l0.1 0.4M275.3 335.6l-0.0 0.4M254.7 372.7l-0.2 0.4M264.1 343.2l-0.2 0.4M297.0 415.7l-0.4 0.2M270.6 395.2l-0.2 0.4M291.5 395.2l0.4 0.1M288.3 399.9l-0.4 0.1M296.0 420.6l0.4 0.3M253.1 384.5l0.4 0.0M254.7 380.5l-0.4 0.2M272.6 323.3l-0.4 0.2M262.1 420.6l0.4 0.2M278.0 370.8l0.2 0.4M243.6 384.0l0.4 0.2M239.2 369.0l-0.1 0.4M280.2 383.8l0.2 0.4M287.4 381.3l-0.3 0.3M281.1 411.0l-0.4 0.1M286.2 348.7l0.2 0.4M265.7 384.2l0.4 0.2M294.5 346.7l-0.4 0.3M284.1 416.9l-0.4 0.0M266.3 358.2l-0.1 0.4M265.5 369.6l0.2 0.4M291.6 393.6l0.4 0.2M259.5 351.8l0.3 0.3M299.9 323.5l-0.4 0.3M292.1 392.9l-0.2 0.4M278.5 403.3l0.3 0.3M275.8 361.6l-0.4 0.2M297.1 422.6l0.3 0.4M244.8 370.2l-0.4 0.0M251.4 390.1l0.4 0.1M299.1 363.1l0.1 0.4M257.7 321.0l0.4 0.2M262.4 391.8l0.2 0.4M253.8 379.3l0.3 0.4M256.5 357.3l-0.1 0.4M231.1 320.6l-0.4 0.2M297.2 419.5l-0.4 0.2M286.0 363.5l-0.3 0.3M295.7 412.9l-0.3 0.3M282.5 346.1l-0.3 0.4M256.8 405.8l0.4 0.1M287.8 410.9l-0.2 0.4M257.0 411.2l0.3 0.4M298.0 363.1l-0.4 0.2M276.1 395.3l0.4 0.2M300.7 378.4l-0.4 0.2M285.9 372.8l-0.2 0.4M297.0 420.1l0.2 0.4M273.8 402.1l0.2 0.4M285.5 367.8l-0.4 0.2M236.8 411.7l-0.0 0.4M240.2 327.8l-0.4 0.3M280.9 360.0l0.1 0.4M253.6 368.3l-0.4 0.0M290.5 341.3l-0.4 0.2M294.7 411.2l0.4 0.3M252.4 367.3l0.4 0.2M276.4 380.6l-0.4 0.1M275.9 346.5l0.4 0.1M246.1 399.1l-0.0 0.4M258.0 367.7l0.3 0.3M255.2 391.5l0.3 0.3M246.5 350.8l-0.4 0.3M235.3 388.0l0.1 0.4M290.1 366.4l0.3 0.3M257.5 398.6l-0.4 0.0M289.6 364.2l0.3 0.3M241.4 413.4l-0.2 0.4M250.5 357.9l0.4 0.1M258.3 370.2l0.1 0.4M248.1 395.8l-0.2 0.4M286.0 408.4l0.3 0.3M277.5 412.5l0.0 0.4M254.9 396.1l-0.4 0.2M251.5 362.4l-0.4 0.3M246.9 406.8l-0.1 0.4M257.1 382.6l-0.4 0.3M293.4 325.4l0.1 0.4M298.2 422.0l0.4 0.0M279.3 397.3l-0.2 0.4M277.5 395.3l0.4 0.3M260.2 404.6l0.4 0.1M259.3 354.5l-0.3 0.4M274.6 361.0l-0.4 0.0M295.2 367.4l0.0 0.4M280.0 406.7l0.2 0.4M238.3 365.5l0.2 0.4M285.6 381.7l0.4 0.3M290.4 315.3l0.4 0.2M243.2 393.3l-0.3 0.4M264.3 393.3l0.4 0.0M239.7 375.6l-0.4 0.2M276.9 375.7l-0.1 0.4M249.8 397.9l-0.0 0.4" stroke="#6c6cb0" stroke-width="1.0" stroke-linecap="round" fill="none"/><path d="M290.1 360.5l0.4 0.3M254.5 405.2l0.3 0.3M258.7 380.1l0.2 0.4M293.4 408.9l-0.2 0.4M280.6 401.2l0.3 0.4M285.2 382.5l0.1 0.4M237.4 395.9l-0.4 0.2M236.6 335.8l0.2 0.4M287.5 418.4l-0.3 0.4M253.2 416.3l-0.3 0.3M287.9 355.6l-0.3 0.3M297.1 362.6l-0.4 0.3M259.7 416.9l-0.4 0.3M254.7 408.4l0.2 0.4M268.2 346.6l0.4 0.2M299.6 333.7l0.3 0.3M272.5 392.4l0.2 0.4M259.8 390.8l-0.4 0.2M280.5 409.9l0.3 0.4M271.5 371.0l-0.4 0.2M270.5 378.7l-0.0 0.4M274.7 423.1l0.4 0.1M268.8 423.9l-0.3 0.3M290.5 355.7l0.4 0.1M266.7 365.5l0.3 0.3M265.0 401.8l0.1 0.4M253.8 326.6l-0.0 0.4M286.6 376.5l-0.2 0.4M247.1 412.1l-0.4 0.2M244.3 409.3l0.3 0.3M282.6 384.7l0.1 0.4M255.1 360.7l-0.4 0.1M293.0 415.6l-0.4 0.2M276.7 403.0l-0.0 0.4M270.1 421.1l0.2 0.4M298.4 380.1l-0.4 0.0M284.2 371.9l0.4 0.0M292.6 379.6l0.4 0.0M289.7 389.9l-0.4 0.2M279.1 410.0l-0.3 0.3M273.0 326.5l-0.1 0.4M258.2 366.2l-0.1 0.4M246.7 405.9l0.4 0.1M287.2 367.7l0.4 0.3M301.7 387.2l0.3 0.4M257.3 422.5l-0.3 0.4M292.8 384.8l0.2 0.4M249.0 400.7l-0.2 0.4M231.2 352.0l-0.2 0.4M239.1 360.9l0.4 0.2M300.4 350.9l-0.1 0.4M271.7 375.1l0.0 0.4M256.2 364.1l0.1 0.4M266.1 418.2l-0.2 0.4M300.3 411.2l-0.3 0.3M300.7 398.7l0.4 0.1M239.1 377.8l-0.4 0.2M262.1 347.0l-0.3 0.3M266.9 415.9l-0.0 0.4M296.3 380.9l-0.4 0.2M291.4 412.4l-0.3 0.3M272.1 419.0l0.4 0.1M258.7 416.8l-0.3 0.3M263.0 375.9l0.1 0.4M249.3 332.1l-0.4 0.1M295.0 380.4l0.1 0.4M263.7 401.0l-0.3 0.4M268.9 422.7l-0.1 0.4M279.8 346.6l-0.1 0.4M284.4 346.0l-0.4 0.1M285.8 352.5l-0.4 0.0M287.6 422.5l-0.3 0.3M259.6 418.0l-0.3 0.3M248.5 395.5l-0.4 0.2M255.0 331.6l-0.4 0.2M244.6 351.0l-0.3 0.3M280.3 399.2l0.0 0.4M244.6 398.5l-0.2 0.4M277.5 360.6l-0.4 0.2M243.9 381.5l-0.4 0.3M265.0 382.3l-0.4 0.0M296.2 366.9l0.4 0.1M228.3 331.0l0.0 0.4M240.8 377.1l-0.4 0.2M273.9 404.3l0.1 0.4M289.6 388.4l-0.3 0.4M252.9 358.1l-0.1 0.4M301.2 348.8l-0.4 0.2M294.3 372.3l-0.0 0.4M287.8 339.8l-0.2 0.4M279.7 379.7l-0.2 0.4M271.6 383.6l0.0 0.4M270.4 408.2l-0.2 0.4M297.6 392.7l0.4 0.3M280.8 379.4l-0.2 0.4M284.3 376.9l-0.4 0.3M278.6 389.7l-0.1 0.4M232.3 319.6l0.1 0.4M267.0 369.3l0.0 0.4M298.7 405.8l-0.4 0.3M281.0 326.1l0.4 0.1M300.7 407.4l0.2 0.4M259.8 393.2l0.4 0.3M301.5 379.0l0.4 0.0M271.1 390.7l0.0 0.4M274.1 377.5l-0.2 0.4M232.7 332.2l-0.1 0.4M269.1 326.7l-0.3 0.4M297.4 399.3l0.4 0.1M247.5 384.4l-0.2 0.4M249.0 417.8l0.2 0.4M286.7 348.5l-0.4 0.1M264.1 382.7l0.4 0.3M263.8 399.1l0.1 0.4M292.2 411.6l0.3 0.3M301.2 384.9l-0.3 0.3M283.8 369.5l0.0 0.4M251.0 395.3l0.3 0.3M258.3 390.7l-0.1 0.4M281.9 402.4l0.3 0.3M270.2 359.6l-0.4 0.1M238.8 380.7l0.3 0.4M257.8 324.3l-0.4 0.3M251.6 379.0l0.2 0.4M300.7 390.9l0.4 0.1M298.0 329.0l0.4 0.3M266.8 399.6l0.2 0.4M272.0 370.8l0.3 0.4M255.6 354.9l-0.4 0.3M240.7 383.5l0.2 0.4M256.9 410.2l-0.4 0.0M249.4 387.1l-0.4 0.3M294.3 381.7l-0.3 0.3M279.9 394.0l0.4 0.2M299.2 394.9l0.4 0.1M279.4 367.2l-0.3 0.4M272.7 339.7l0.2 0.4M241.1 398.7l-0.3 0.3M239.4 419.3l0.2 0.4M293.3 383.5l0.1 0.4M299.5 395.2l0.4 0.3M273.4 398.4l0.4 0.0M295.0 407.9l-0.0 0.4M248.5 424.0l0.4 0.1M294.9 315.3l-0.4 0.3M301.6 392.6l-0.3 0.4M244.8 370.4l-0.4 0.2M248.1 403.5l-0.4 0.1M274.6 401.3l-0.3 0.3M299.9 422.5l0.2 0.4M267.5 366.7l0.0 0.4M284.5 408.5l0.3 0.3M277.4 410.9l0.3 0.3M288.2 374.9l0.4 0.2M244.7 372.8l0.2 0.4M286.9 340.0l-0.2 0.4M260.3 421.8l0.1 0.4M285.9 356.6l0.3 0.3M248.7 403.1l0.3 0.4M234.5 389.6l-0.4 0.1M271.3 387.9l-0.4 0.1M295.1 317.1l-0.2 0.4M237.0 321.8l0.2 0.4M252.0 384.1l0.2 0.4M298.3 365.3l0.4 0.2M298.4 409.9l-0.1 0.4M282.1 384.7l0.3 0.3M279.0 406.9l-0.4 0.2M298.1 325.0l0.4 0.1M260.9 418.8l0.4 0.1M245.0 390.5l0.4 0.1M276.1 416.0l0.4 0.1M251.2 406.9l0.3 0.3M282.2 379.5l-0.2 0.4M249.9 397.7l0.2 0.4M264.0 403.3l0.4 0.3M290.9 360.0l-0.4 0.2M278.4 387.9l0.4 0.2M284.9 388.3l0.4 0.2M295.5 380.7l-0.4 0.1M261.6 407.8l-0.2 0.4M284.8 390.0l-0.3 0.3M277.0 374.7l-0.2 0.4M295.4 416.0l0.2 0.4M300.3 383.4l-0.4 0.1M290.3 423.2l-0.4 0.0M271.2 392.2l-0.2 0.4M262.1 355.8l-0.4 0.2M294.9 406.4l-0.4 0.1M260.4 355.3l-0.4 0.0M256.6 389.2l-0.3 0.3M237.2 387.7l-0.4 0.1M288.1 402.3l0.4 0.2M280.6 397.2l0.4 0.0M291.3 353.1l-0.4 0.1M286.4 330.0l-0.2 0.4M294.1 369.3l-0.4 0.3M284.9 380.7l0.1 0.4M285.8 350.0l-0.1 0.4M251.5 367.7l-0.4 0.2M244.9 389.6l-0.2 0.4M266.8 335.7l-0.1 0.4M289.6 314.2l0.3 0.3M259.9 410.6l0.1 0.4M266.5 379.9l-0.4 0.1M271.8 411.6l-0.4 0.2M289.9 322.7l0.3 0.4M290.2 377.1l-0.1 0.4M285.4 390.1l-0.2 0.4M290.0 414.9l0.4 0.2M288.2 364.0l0.1 0.4M266.2 330.0l0.2 0.4M243.2 355.3l0.4 0.2M287.8 337.6l-0.2 0.4M289.1 404.1l0.3 0.3M269.8 316.1l0.4 0.2M246.8 369.2l0.4 0.1M258.5 401.4l-0.3 0.4M282.5 383.2l-0.4 0.1M248.2 407.8l0.2 0.4M274.0 346.5l-0.3 0.3M247.5 401.9l0.3 0.3" stroke="#5c5ca4" stroke-width="1.0" stroke-linecap="round" fill="none"/><path d="M297.5 331.7l0.4 0.1M278.7 369.9l-0.2 0.4M242.5 418.9l-0.1 0.4M290.1 391.6l-0.4 0.1M270.5 369.1l-0.1 0.4M248.9 407.1l-0.4 0.2M271.8 369.2l-0.1 0.4M262.2 418.4l0.1 0.4M266.8 414.6l0.4 0.0M246.5 415.3l-0.4 0.2M250.8 416.3l-0.4 0.2M286.4 422.1l-0.1 0.4M274.6 361.3l-0.4 0.0M292.7 403.6l0.4 0.2M297.2 412.1l0.1 0.4M276.2 388.4l0.4 0.2M288.0 395.7l0.4 0.1M254.2 361.2l-0.3 0.4M272.1 416.5l0.3 0.3M293.5 402.9l0.0 0.4M268.6 421.9l0.3 0.4M267.9 406.8l-0.3 0.4M259.1 402.6l0.1 0.4M249.7 422.5l-0.1 0.4M280.8 422.5l0.3 0.4M271.6 382.9l-0.4 0.2M298.5 404.9l0.3 0.3M262.7 377.8l0.4 0.0M260.7 420.7l0.3 0.3M238.0 378.3l-0.4 0.2M270.7 338.3l-0.0 0.4M297.2 420.4l0.3 0.3M247.6 387.3l-0.4 0.1M296.3 397.2l-0.2 0.4M229.9 421.0l0.2 0.4M255.6 418.7l-0.4 0.1M260.8 408.8l-0.3 0.3M238.8 370.8l0.4 0.2M295.5 360.8l-0.4 0.1M296.9 336.6l0.1 0.4M253.7 322.5l-0.3 0.3M267.2 407.3l0.4 0.3M260.8 408.1l0.1 0.4M288.5 373.2l0.1 0.4M298.6 396.0l-0.2 0.4M293.2 363.0l0.4 0.2M294.1 363.2l-0.1 0.4M273.6 404.4l0.1 0.4M295.5 384.3l-0.4 0.0M254.4 418.0l0.4 0.1M271.0 373.0l-0.4 0.2M259.3 422.7l0.0 0.4M230.9 319.6l0.1 0.4M279.0 385.4l-0.4 0.3M278.5 398.2l0.3 0.3M291.3 388.9l0.1 0.4M288.9 397.1l-0.0 0.4M263.0 374.5l-0.3 0.4M265.9 385.3l0.3 0.3M260.9 375.6l-0.2 0.4M284.8 416.8l-0.4 0.1M235.9 414.6l0.4 0.1M249.7 381.7l0.2 0.4M284.7 419.3l-0.3 0.3M245.7 418.2l0.2 0.4M270.1 404.0l0.0 0.4M282.8 369.1l-0.2 0.4M282.7 377.0l0.2 0.4M284.7 411.2l-0.4 0.1M259.8 363.7l0.1 0.4M268.0 314.3l-0.0 0.4M261.4 406.3l-0.4 0.1M290.9 395.3l-0.3 0.4M296.5 377.4l0.4 0.1M283.1 394.0l-0.1 0.4M289.8 411.2l-0.0 0.4M229.1 364.3l0.0 0.4M280.3 322.4l0.0 0.4M258.6 353.6l0.3 0.4M281.9 378.1l-0.4 0.2M255.8 386.1l-0.4 0.1M264.5 412.9l0.3 0.3M252.1 378.7l-0.1 0.4M290.6 408.9l0.4 0.2M276.6 365.0l0.4 0.1M248.1 342.2l0.4 0.3M270.6 375.2l-0.3 0.3M284.6 411.5l0.2 0.4M267.6 418.2l-0.4 0.1M289.9 395.6l-0.4 0.1M251.7 373.8l-0.2 0.4M247.5 352.4l0.2 0.4M276.5 412.6l0.3 0.3M276.5 368.3l0.2 0.4M301.8 364.7l-0.4 0.1M261.9 378.8l-0.2 0.4M257.4 408.5l0.2 0.4M242.5 359.7l-0.4 0.2M293.1 403.1l-0.0 0.4M276.7 372.0l0.2 0.4M252.9 396.4l0.4 0.1M276.7 413.0l-0.2 0.4M254.5 374.1l0.0 0.4M264.6 358.4l-0.4 0.1M262.1 389.5l0.4 0.1M251.3 396.7l-0.4 0.0M252.9 358.7l0.4 0.0M264.8 410.2l0.4 0.1M262.2 408.5l0.4 0.2M300.7 317.2l-0.3 0.3M299.0 414.9l-0.0 0.4M296.0 355.8l0.1 0.4M282.0 409.9l0.3 0.3M290.6 418.4l-0.4 0.1M289.1 360.0l-0.1 0.4M296.9 408.3l0.2 0.4M246.0 343.2l-0.4 0.1M251.1 388.9l-0.3 0.3M281.3 361.3l-0.3 0.4M282.3 391.0l-0.4 0.2M297.3 399.1l0.0 0.4M264.2 410.6l-0.1 0.4M281.8 411.5l-0.2 0.4M238.9 365.7l-0.2 0.4M259.5 344.3l-0.4 0.0M291.7 359.2l0.2 0.4M265.7 386.0l0.2 0.4M287.2 404.6l-0.3 0.3M251.3 397.9l-0.0 0.4M275.2 357.9l-0.4 0.1M251.4 414.1l-0.2 0.4M242.6 360.8l0.1 0.4M264.3 330.5l-0.3 0.4M273.1 415.3l-0.4 0.2M287.5 414.6l0.2 0.4M255.5 386.3l-0.4 0.3M253.4 376.3l0.4 0.2M248.9 381.6l0.4 0.2M287.3 399.8l0.4 0.0M280.1 421.3l-0.2 0.4M250.1 387.4l0.2 0.4M229.6 385.0l-0.2 0.4M287.5 389.3l0.1 0.4M251.0 353.7l-0.3 0.3M265.5 357.5l0.1 0.4M280.3 379.1l0.4 0.1M268.7 354.9l-0.4 0.1M239.5 374.9l-0.1 0.4M269.8 371.4l-0.4 0.1M278.1 318.5l-0.2 0.4M285.9 373.4l0.3 0.4M240.2 375.9l0.4 0.3M286.1 355.9l0.1 0.4M244.2 344.1l0.4 0.1M261.3 344.2l-0.2 0.4M272.2 409.3l0.4 0.0M282.1 360.7l-0.3 0.4M240.1 390.8l0.4 0.0M298.4 371.5l0.4 0.2M259.8 356.8l-0.3 0.3M292.2 407.5l-0.0 0.4M235.8 398.3l-0.2 0.4M284.4 403.2l0.4 0.3M243.8 422.1l0.4 0.0M285.9 359.4l-0.2 0.4M270.3 394.4l0.4 0.2M251.1 374.5l0.2 0.4M230.7 412.5l0.4 0.1M271.0 363.9l0.2 0.4M253.6 408.9l-0.0 0.4M230.6 397.9l0.4 0.3M252.9 423.1l0.3 0.4M241.0 382.1l0.1 0.4M237.3 367.9l-0.4 0.2M270.7 363.9l0.2 0.4M255.7 416.6l0.2 0.4M254.2 395.5l0.3 0.3M282.8 417.0l0.0 0.4M292.1 390.9l0.2 0.4M228.6 409.3l-0.4 0.2M259.2 343.1l0.3 0.4M263.2 348.8l0.1 0.4M282.6 388.5l-0.0 0.4M279.7 413.8l0.4 0.0M251.2 407.8l0.1 0.4M296.9 350.8l0.4 0.2M284.8 374.1l-0.3 0.3M259.6 408.7l-0.2 0.4M250.9 347.3l0.4 0.1M248.7 362.2l0.0 0.4M276.6 377.6l-0.3 0.4M270.4 384.4l-0.1 0.4M243.5 409.3l0.4 0.2M285.0 414.7l0.1 0.4" stroke="#5050a0" stroke-width="1.0" stroke-linecap="round" fill="none"/><path d="M253.9 406.9l1.0 -0.5M254.1 409.7l1.0 -0.5M257.9 404.0l1.0 -0.5M263.7 403.6l1.0 -0.5M249.2 405.6l1.0 -0.5M261.7 409.3l1.0 -0.5M268.5 406.4l1.0 -0.5M263.7 404.1l1.0 -0.5M250.0 408.2l1.0 -0.5M255.8 411.3l1.0 -0.5" stroke="#d0a888" stroke-width="0.9" stroke-linecap="round" fill="none"/><path d="M251.5 410.4l1.0 -0.5M248.6 398.1l1.0 -0.5M259.9 404.1l1.0 -0.5M254.7 409.5l1.0 -0.5M262.8 410.8l1.0 -0.5M268.6 411.5l1.0 -0.5" stroke="#c49470" stroke-width="0.9" stroke-linecap="round" fill="none"/><path d="M237.1 329.1l1.0 -0.5M234.0 316.6l1.0 -0.5M250.0 315.8l1.0 -0.5M254.9 315.7l1.0 -0.5M250.8 317.0l1.0 -0.5M231.0 333.3l1.0 -0.5M250.8 329.3l1.0 -0.5M247.2 323.7l1.0 -0.5M248.3 330.7l1.0 -0.5M250.6 316.3l1.0 -0.5M238.4 330.8l1.0 -0.5M231.5 315.9l1.0 -0.5" stroke="#c8a080" stroke-width="1.0" stroke-linecap="round" fill="none"/></g>
<g filter="url(#bh)"><path d="M280,410 L288,405 L293,409 L293,424 L279,424Z" fill="#efe6e0"/></g>
</g>
<text x="251.20" y="11.90" font-size="10.5" text-anchor="start" font-weight="bold" fill="#000" stroke="#000" stroke-width="0.22" >C</text>
<text x="258.40" y="18.00" font-size="6.6" text-anchor="start" font-weight="bold" fill="#000" stroke="#000" stroke-width="0.22" textLength="68.20" lengthAdjust="spacingAndGlyphs" >Short-term responses</text>
<text x="333.00" y="18.00" font-size="6.6" text-anchor="start" font-weight="bold" fill="#000" stroke="#000" stroke-width="0.22" textLength="66.00" lengthAdjust="spacingAndGlyphs" >Long-term responses</text>
<text x="257.30" y="64.20" font-size="6.6" text-anchor="middle" font-weight="bold" fill="#000" stroke="#000" stroke-width="0.22" textLength="30.00" lengthAdjust="spacingAndGlyphs" transform="rotate(-90 257.30 64.20)" >SMD1 IHC</text>
<text x="144.30" y="307.60" font-size="10.5" text-anchor="start" font-weight="bold" fill="#000" stroke="#000" stroke-width="0.22" >H</text>
<text x="156.90" y="311.00" font-size="6.6" text-anchor="start" font-weight="bold" fill="#000" stroke="#000" stroke-width="0.22" textLength="67.70" lengthAdjust="spacingAndGlyphs" >Short-term responses</text>
<text x="232.00" y="311.00" font-size="6.6" text-anchor="start" font-weight="bold" fill="#000" stroke="#000" stroke-width="0.22" textLength="66.40" lengthAdjust="spacingAndGlyphs" >Long-term responses</text>
<text x="151.20" y="363.20" font-size="6.6" text-anchor="middle" font-weight="bold" fill="#000" stroke="#000" stroke-width="0.22" textLength="30.00" lengthAdjust="spacingAndGlyphs" transform="rotate(-90 151.20 363.20)" >CD68 IHC</text></svg></body></html>
